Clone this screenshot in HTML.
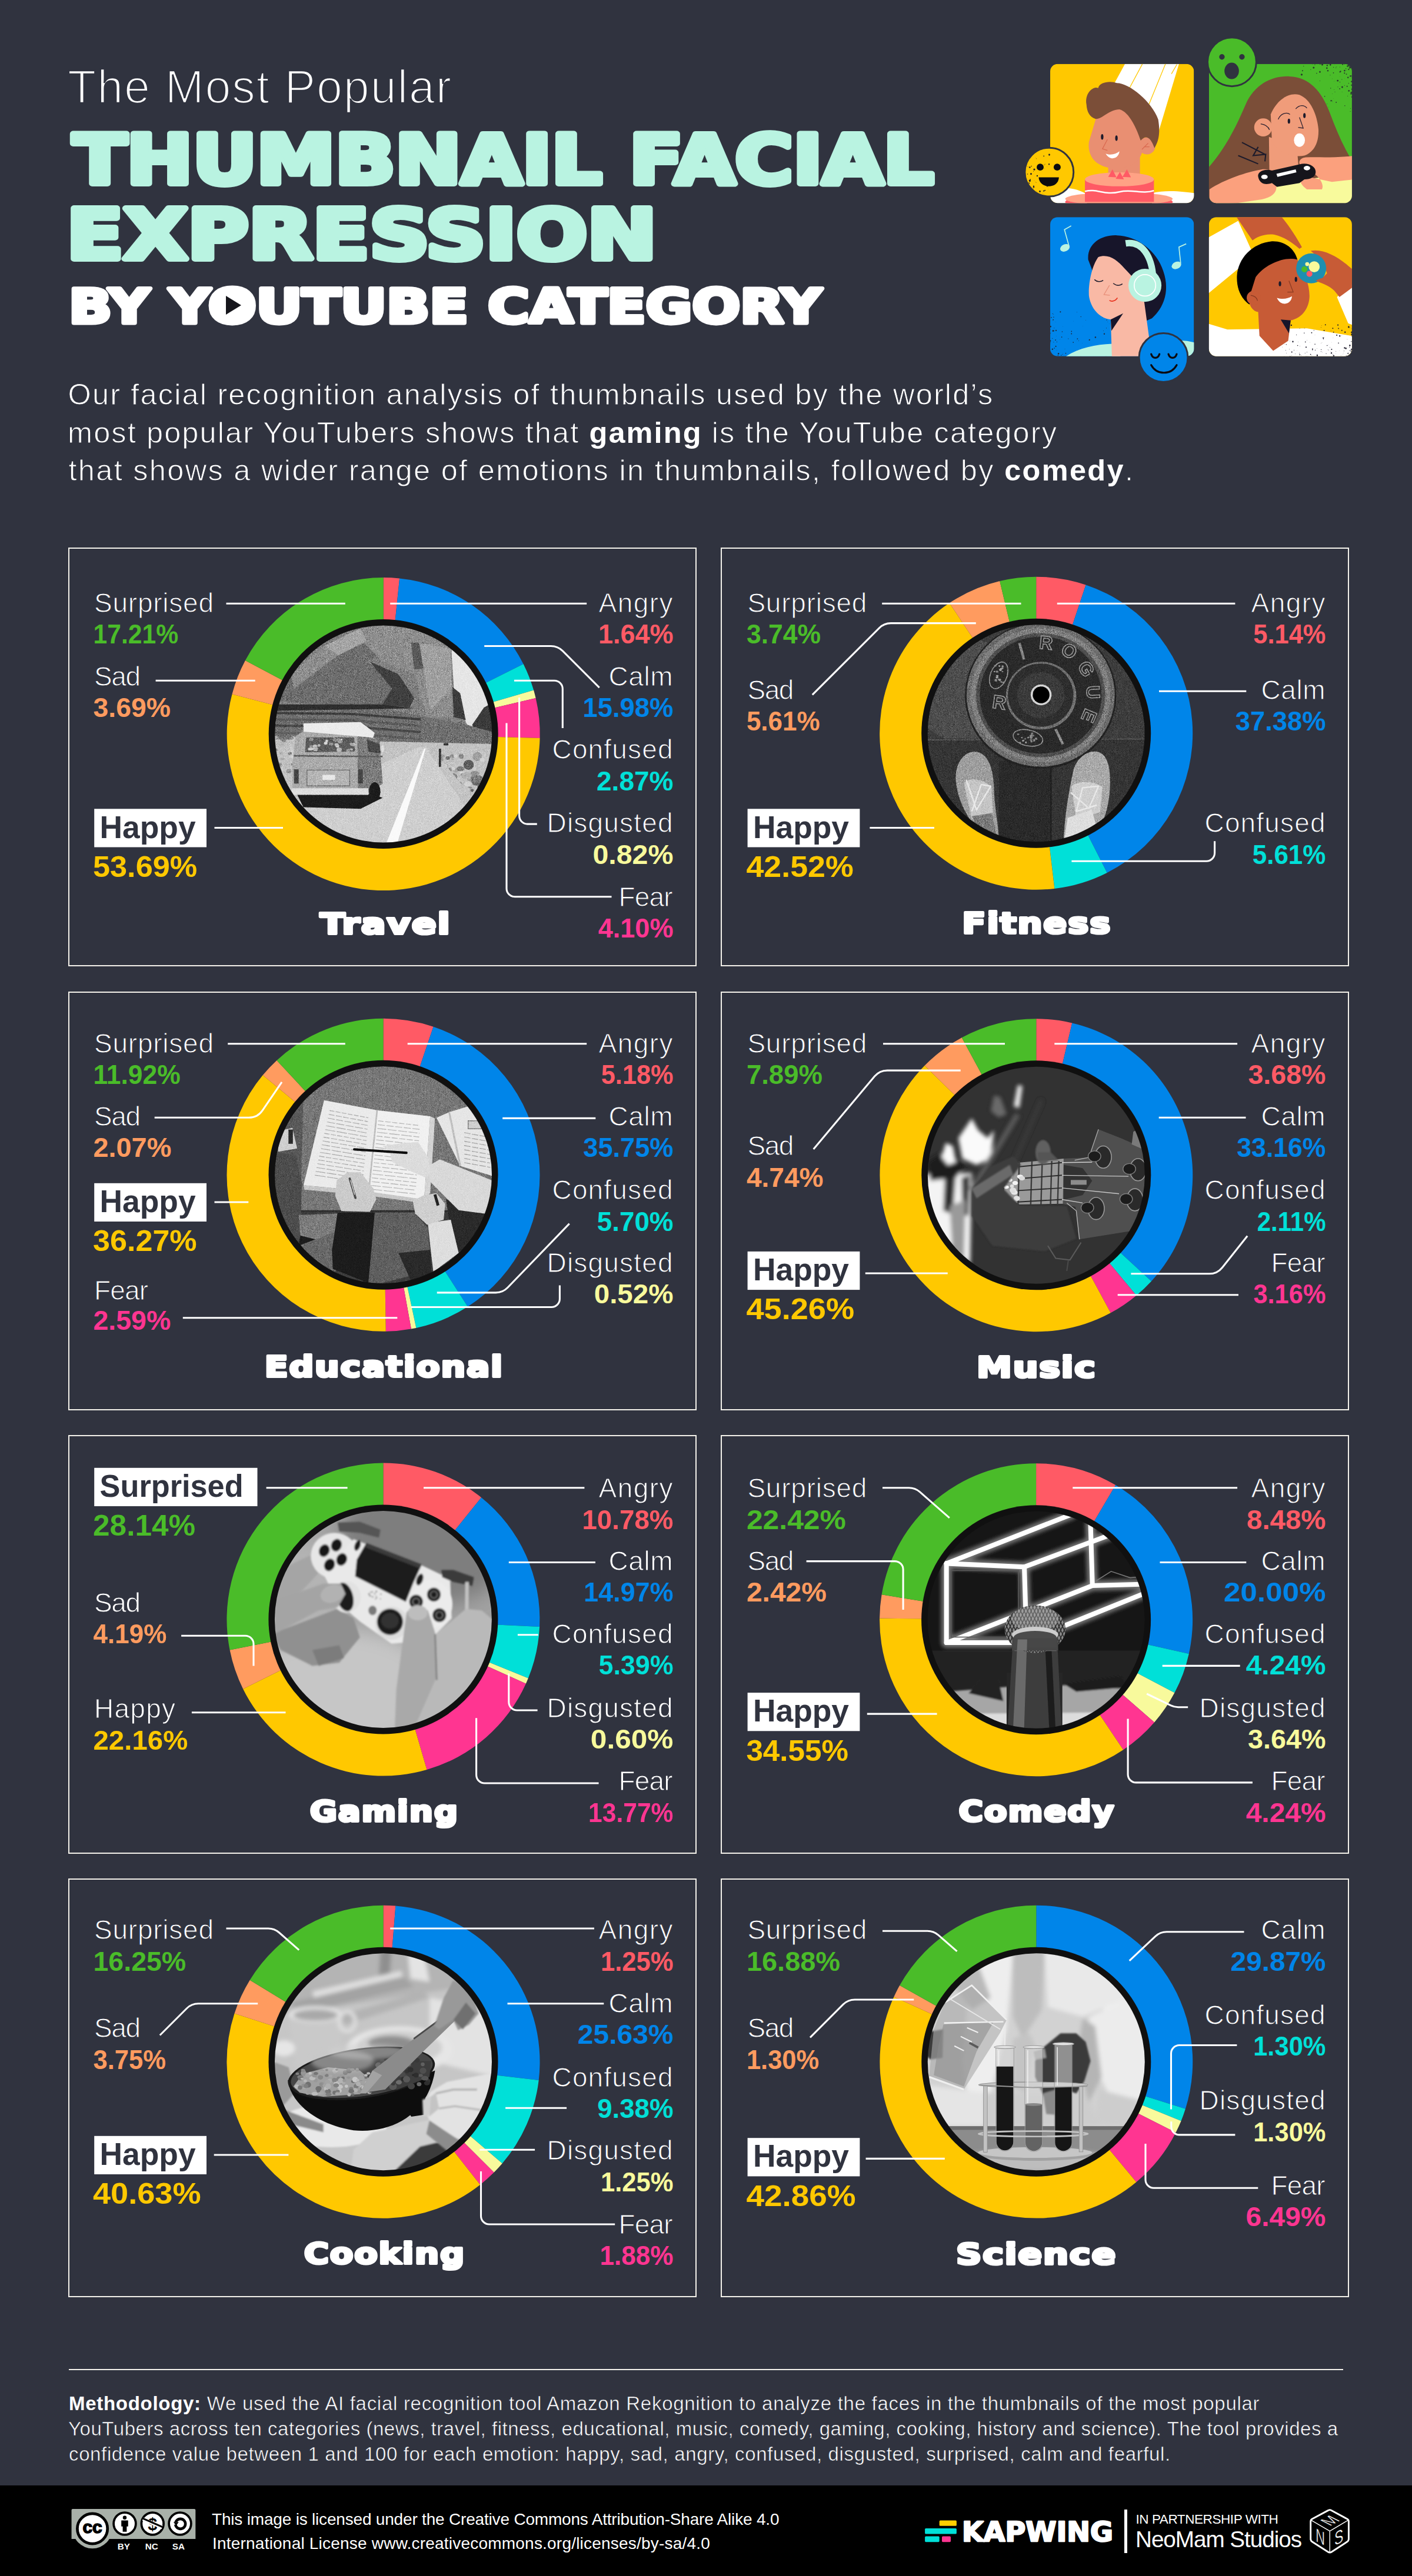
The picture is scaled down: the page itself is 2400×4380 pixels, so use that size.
<!DOCTYPE html><html lang="en"><head><meta charset="utf-8"><title>The Most Popular Thumbnail Facial Expression by YouTube Category</title>
<style>
html,body{margin:0;padding:0;background:#30333f}
#page{position:relative;width:2400px;height:4380px;overflow:hidden;background:#30333f;font-family:'Liberation Sans', sans-serif;color:#fff}
.panel{position:absolute;width:1068px;height:712px;box-sizing:border-box}
.panel:after{content:"";position:absolute;left:0;top:0;right:0;bottom:0;border:2.4px solid #f3f1ea;pointer-events:none}
.panel svg{position:absolute;left:0;top:0;overflow:visible}

.ct{font-family:'DejaVu Sans','Liberation Sans',sans-serif;font-weight:bold;font-size:50px;letter-spacing:1.5px;fill:#fff;stroke:#fff;stroke-width:4.2px;stroke-linejoin:round;paint-order:stroke}
.b{font-weight:bold}
.n{stroke:#30333f;stroke-width:1.1px}
.abs{position:absolute;white-space:nowrap}
.abs b{-webkit-text-stroke:0}
</style></head><body><div id="page">
<svg width="0" height="0" style="position:absolute"><defs><clipPath id="cp"><circle cx="0" cy="0" r="184.5"/></clipPath><filter id="b3" x="-5%" y="-5%" width="110%" height="110%"><feGaussianBlur stdDeviation="2.2"/></filter><filter id="b6" x="-10%" y="-10%" width="120%" height="120%"><feGaussianBlur stdDeviation="6"/></filter><filter id="b12" x="-20%" y="-20%" width="140%" height="140%"><feGaussianBlur stdDeviation="13"/></filter><filter id="gr" x="0" y="0" width="100%" height="100%" color-interpolation-filters="sRGB"><feTurbulence type="fractalNoise" baseFrequency="0.55" numOctaves="2" seed="3"/><feColorMatrix type="matrix" values="0.33 0.33 0.33 0 0 0.33 0.33 0.33 0 0 0.33 0.33 0.33 0 0 0 0 0 0 1"/><feComponentTransfer><feFuncR type="linear" slope="3" intercept="-1"/><feFuncG type="linear" slope="3" intercept="-1"/><feFuncB type="linear" slope="3" intercept="-1"/></feComponentTransfer></filter><filter id="b30" x="-40%" y="-40%" width="180%" height="180%"><feGaussianBlur stdDeviation="60"/></filter></defs></svg>
<div class="abs" style="left:115px;top:107.73px;font-size:79px;line-height:79px;letter-spacing:1.91px;color:#fff;-webkit-text-stroke:2.6px #30333f;">The Most Popular</div>
<svg class="abs" style="left:0;top:0" width="2400" height="900" viewBox="0 0 2400 900">
<g style="font-family:'DejaVu Sans','Liberation Sans',sans-serif;font-weight:bold" stroke-linejoin="round" paint-order="stroke" lengthAdjust="spacingAndGlyphs">
<text x="123.9" y="311.8" font-size="115" fill="#b9f3e1" stroke="#b9f3e1" stroke-width="10" lengthAdjust="spacingAndGlyphs" textLength="1463">THUMBNAIL FACIAL</text>
<text x="113.2" y="439.5" font-size="117" fill="#b9f3e1" stroke="#b9f3e1" stroke-width="10" lengthAdjust="spacingAndGlyphs" textLength="1003.3">EXPRESSION</text>
<text x="116.9" y="548.9" font-size="81" fill="#fff" stroke="#fff" stroke-width="7" lengthAdjust="spacingAndGlyphs" textLength="1279.4">BY YOUTUBE CATEGORY</text>
</g>
<circle cx="395" cy="519" r="22" fill="#fff"/>
<path d="M384 503L410 519L384 535Z" fill="#15151b"/>
</svg>
<div class="abs" style="left:115.5px;top:646.25px;font-size:50.5px;line-height:50.5px;letter-spacing:2.16px;color:#fff;-webkit-text-stroke:1px #30333f;">Our facial recognition analysis of thumbnails used by the world’s</div>
<div class="abs" style="left:115px;top:710.75px;font-size:50.5px;line-height:50.5px;letter-spacing:2.1px;color:#fff;-webkit-text-stroke:1px #30333f;">most popular YouTubers shows that <b>gaming</b> is the YouTube category</div>
<div class="abs" style="left:116.5px;top:775.25px;font-size:50.5px;line-height:50.5px;letter-spacing:2.31px;color:#fff;-webkit-text-stroke:1px #30333f;">that shows a wider range of emotions in thumbnails, followed by <b>comedy</b>.</div>
<svg class="abs" style="left:1720px;top:50px" width="620" height="620" viewBox="0 0 1459 1459"><defs><clipPath id="t1"><rect x="153" y="138" width="575" height="557" rx="30"/></clipPath><clipPath id="t2"><rect x="788" y="138" width="572" height="557" rx="30"/></clipPath><clipPath id="t3"><rect x="153" y="751" width="575" height="557" rx="30"/></clipPath><clipPath id="t4"><rect x="788" y="751" width="572" height="557" rx="30"/></clipPath></defs><g clip-path="url(#t1)"><rect x="153" y="138" width="575" height="557" fill="#ffc800"/><path d="M452 138L668 138L588 405L405 225Z" fill="#fff"/><path d="M522 138L462 250M614 138L548 300M660 140L638 178" stroke="#ffc800" stroke-width="3" fill="none"/><path d="M160 640C220 625 270 640 300 660L300 700L150 700ZM560 655C620 640 690 650 730 655L730 700L560 700Z" fill="#fff"/><path d="M385 470L512 470L512 590L385 590Z" fill="#e98f72"/><circle cx="540" cy="466" r="34" fill="#e98f72"/><path d="M335 360C380 300 470 300 515 360L525 470C520 530 470 560 400 555C340 550 300 510 308 450Z" fill="#e98f72"/><path d="M298 300C290 250 330 225 345 235C350 210 395 205 420 215C470 215 560 290 585 360C595 420 585 450 570 475C555 430 535 420 515 445C500 400 470 330 430 320C390 320 360 360 335 358C310 350 300 330 298 300Z" fill="#7b4e38"/><ellipse cx="361" cy="430" rx="5" ry="11" fill="#1d1b2b"/><ellipse cx="418" cy="435" rx="5" ry="11" fill="#1d1b2b"/><path d="M382 440L362 478L382 484" stroke="#d9694f" stroke-width="3" fill="none"/><path d="M375 497C395 505 415 500 430 488C428 515 395 530 375 497Z" fill="#fff"/><path d="M520 480L545 455M528 470L550 470" stroke="#d9694f" stroke-width="3" fill="none"/><ellipse cx="428" cy="690" rx="215" ry="28" fill="#ff5a65"/><ellipse cx="428" cy="678" rx="215" ry="26" fill="#ffa285"/><path d="M292 600L568 600L568 690L292 690Z" fill="#ff5a65"/><ellipse cx="430" cy="600" rx="138" ry="28" fill="#ffa285"/><path d="M292 648C340 635 370 665 430 650C480 638 520 660 568 645" stroke="#fff" stroke-width="6" fill="none"/><path d="M385 590L402 560L418 592ZM415 598L432 570L448 600ZM442 590L460 560L476 592Z" fill="#ff5a65"/></g><g clip-path="url(#t2)"><rect x="788" y="138" width="572" height="557" fill="#4abc29"/><path d="M1353.0 188.4m-1.0 0a1.0 1.0 0 1 0 2.1 0a1.0 1.0 0 1 0 -2.1 0M1292.1 206.4m-0.6 0a0.6 0.6 0 1 0 1.2 0a0.6 0.6 0 1 0 -1.2 0M1362.0 268.0m-0.8 0a0.8 0.8 0 1 0 1.6 0a0.8 0.8 0 1 0 -1.6 0M1353.3 328.2m-1.3 0a1.3 1.3 0 1 0 2.6 0a1.3 1.3 0 1 0 -2.6 0M1218.9 175.6m-1.9 0a1.9 1.9 0 1 0 3.8 0a1.9 1.9 0 1 0 -3.8 0M1358.7 208.7m-3.0 0a3.0 3.0 0 1 0 6.0 0a3.0 3.0 0 1 0 -6.0 0M1311.0 237.4m-2.0 0a2.0 2.0 0 1 0 4.1 0a2.0 2.0 0 1 0 -4.1 0M1361.5 242.4m-1.7 0a1.7 1.7 0 1 0 3.4 0a1.7 1.7 0 1 0 -3.4 0M1346.9 138.1m-3.0 0a3.0 3.0 0 1 0 6.0 0a3.0 3.0 0 1 0 -6.0 0M1321.2 230.9m-3.1 0a3.1 3.1 0 1 0 6.1 0a3.1 3.1 0 1 0 -6.1 0M1260.9 298.2m-1.1 0a1.1 1.1 0 1 0 2.2 0a1.1 1.1 0 1 0 -2.2 0M1231.9 170.3m-3.4 0a3.4 3.4 0 1 0 6.8 0a3.4 3.4 0 1 0 -6.8 0M1202.4 139.1m-0.7 0a0.7 0.7 0 1 0 1.3 0a0.7 0.7 0 1 0 -1.3 0M1354.6 315.7m-1.2 0a1.2 1.2 0 1 0 2.4 0a1.2 1.2 0 1 0 -2.4 0M1286.2 151.7m-1.4 0a1.4 1.4 0 1 0 2.8 0a1.4 1.4 0 1 0 -2.8 0M1335.9 157.2m-1.7 0a1.7 1.7 0 1 0 3.4 0a1.7 1.7 0 1 0 -3.4 0M1297.0 291.8m-2.1 0a2.1 2.1 0 1 0 4.2 0a2.1 2.1 0 1 0 -4.2 0M1181.7 274.5m-3.7 0a3.7 3.7 0 1 0 7.5 0a3.7 3.7 0 1 0 -7.5 0M1273.8 141.6m-3.0 0a3.0 3.0 0 1 0 5.9 0a3.0 3.0 0 1 0 -5.9 0M1166.1 292.0m-1.6 0a1.6 1.6 0 1 0 3.3 0a1.6 1.6 0 1 0 -3.3 0M1261.0 144.3m-2.8 0a2.8 2.8 0 1 0 5.6 0a2.8 2.8 0 1 0 -5.6 0M1299.6 150.1m-0.6 0a0.6 0.6 0 1 0 1.2 0a0.6 0.6 0 1 0 -1.2 0M1212.2 325.7m-0.6 0a0.6 0.6 0 1 0 1.3 0a0.6 0.6 0 1 0 -1.3 0M1232.0 165.1m-0.7 0a0.7 0.7 0 1 0 1.3 0a0.7 0.7 0 1 0 -1.3 0M1347.7 245.7m-3.0 0a3.0 3.0 0 1 0 6.1 0a3.0 3.0 0 1 0 -6.1 0M1361.8 203.8m-0.6 0a0.6 0.6 0 1 0 1.2 0a0.6 0.6 0 1 0 -1.2 0M1259.6 154.9m-3.1 0a3.1 3.1 0 1 0 6.2 0a3.1 3.1 0 1 0 -6.2 0M1158.9 180.8m-3.8 0a3.8 3.8 0 1 0 7.6 0a3.8 3.8 0 1 0 -7.6 0M1345.9 138.7m-1.8 0a1.8 1.8 0 1 0 3.5 0a1.8 1.8 0 1 0 -3.5 0M1361.9 143.4m-1.1 0a1.1 1.1 0 1 0 2.3 0a1.1 1.1 0 1 0 -2.3 0M1290.4 141.2m-0.6 0a0.6 0.6 0 1 0 1.2 0a0.6 0.6 0 1 0 -1.2 0M1206.8 153.0m-3.5 0a3.5 3.5 0 1 0 7.1 0a3.5 3.5 0 1 0 -7.1 0M1195.2 160.6m-1.3 0a1.3 1.3 0 1 0 2.6 0a1.3 1.3 0 1 0 -2.6 0M1311.7 210.9m-1.7 0a1.7 1.7 0 1 0 3.5 0a1.7 1.7 0 1 0 -3.5 0M1303.0 205.1m-3.4 0a3.4 3.4 0 1 0 6.9 0a3.4 3.4 0 1 0 -6.9 0M1314.4 168.2m-2.3 0a2.3 2.3 0 1 0 4.5 0a2.3 2.3 0 1 0 -4.5 0M1353.0 151.7m-3.7 0a3.7 3.7 0 1 0 7.3 0a3.7 3.7 0 1 0 -7.3 0M1311.5 189.2m-0.6 0a0.6 0.6 0 1 0 1.2 0a0.6 0.6 0 1 0 -1.2 0M1331.3 195.9m-0.6 0a0.6 0.6 0 1 0 1.2 0a0.6 0.6 0 1 0 -1.2 0M1289.0 208.0m-0.6 0a0.6 0.6 0 1 0 1.2 0a0.6 0.6 0 1 0 -1.2 0M1286.0 173.8m-2.1 0a2.1 2.1 0 1 0 4.2 0a2.1 2.1 0 1 0 -4.2 0M1340.6 227.5m-2.3 0a2.3 2.3 0 1 0 4.7 0a2.3 2.3 0 1 0 -4.7 0M1362.0 138.4m-2.1 0a2.1 2.1 0 1 0 4.1 0a2.1 2.1 0 1 0 -4.1 0M1166.7 147.2m-1.3 0a1.3 1.3 0 1 0 2.5 0a1.3 1.3 0 1 0 -2.5 0M1294.9 153.7m-1.0 0a1.0 1.0 0 1 0 2.0 0a1.0 1.0 0 1 0 -2.0 0M1345.6 159.4m-1.7 0a1.7 1.7 0 1 0 3.5 0a1.7 1.7 0 1 0 -3.5 0M1347.0 160.5m-2.5 0a2.5 2.5 0 1 0 5.0 0a2.5 2.5 0 1 0 -5.0 0M1361.9 193.6m-2.3 0a2.3 2.3 0 1 0 4.7 0a2.3 2.3 0 1 0 -4.7 0M1345.9 145.0m-2.7 0a2.7 2.7 0 1 0 5.3 0a2.7 2.7 0 1 0 -5.3 0M1352.9 142.8m-1.2 0a1.2 1.2 0 1 0 2.4 0a1.2 1.2 0 1 0 -2.4 0M1265.9 139.3m-0.9 0a0.9 0.9 0 1 0 1.9 0a0.9 0.9 0 1 0 -1.9 0M1343.0 266.6m-1.2 0a1.2 1.2 0 1 0 2.4 0a1.2 1.2 0 1 0 -2.4 0M1211.6 141.9m-1.0 0a1.0 1.0 0 1 0 1.9 0a1.0 1.0 0 1 0 -1.9 0M1279.8 284.7m-1.3 0a1.3 1.3 0 1 0 2.5 0a1.3 1.3 0 1 0 -2.5 0M1354.0 139.8m-1.5 0a1.5 1.5 0 1 0 3.0 0a1.5 1.5 0 1 0 -3.0 0M1356.5 257.7m-2.8 0a2.8 2.8 0 1 0 5.7 0a2.8 2.8 0 1 0 -5.7 0M1356.9 149.5m-2.7 0a2.7 2.7 0 1 0 5.4 0a2.7 2.7 0 1 0 -5.4 0M1282.0 257.5m-1.0 0a1.0 1.0 0 1 0 2.0 0a1.0 1.0 0 1 0 -2.0 0M1359.6 150.8m-2.6 0a2.6 2.6 0 1 0 5.2 0a2.6 2.6 0 1 0 -5.2 0M1350.0 156.6m-1.2 0a1.2 1.2 0 1 0 2.3 0a1.2 1.2 0 1 0 -2.3 0M1330.6 164.9m-3.3 0a3.3 3.3 0 1 0 6.6 0a3.3 3.3 0 1 0 -6.6 0M1358.4 138.0m-3.4 0a3.4 3.4 0 1 0 6.9 0a3.4 3.4 0 1 0 -6.9 0M1202.0 324.5m-1.2 0a1.2 1.2 0 1 0 2.4 0a1.2 1.2 0 1 0 -2.4 0M1172.6 300.7m-0.8 0a0.8 0.8 0 1 0 1.5 0a0.8 0.8 0 1 0 -1.5 0M1250.9 267.7m-2.0 0a2.0 2.0 0 1 0 4.0 0a2.0 2.0 0 1 0 -4.0 0M1311.9 150.5m-1.0 0a1.0 1.0 0 1 0 1.9 0a1.0 1.0 0 1 0 -1.9 0M1353.8 138.5m-1.7 0a1.7 1.7 0 1 0 3.4 0a1.7 1.7 0 1 0 -3.4 0M1348.4 258.8m-0.6 0a0.6 0.6 0 1 0 1.2 0a0.6 0.6 0 1 0 -1.2 0M1192.4 223.9m-3.3 0a3.3 3.3 0 1 0 6.7 0a3.3 3.3 0 1 0 -6.7 0M1195.3 290.2m-1.7 0a1.7 1.7 0 1 0 3.3 0a1.7 1.7 0 1 0 -3.3 0M1362.0 238.6m-0.7 0a0.7 0.7 0 1 0 1.4 0a0.7 0.7 0 1 0 -1.4 0M1347.0 215.7m-1.5 0a1.5 1.5 0 1 0 3.0 0a1.5 1.5 0 1 0 -3.0 0M1331.6 305.2m-1.8 0a1.8 1.8 0 1 0 3.6 0a1.8 1.8 0 1 0 -3.6 0M1342.1 147.3m-3.0 0a3.0 3.0 0 1 0 6.0 0a3.0 3.0 0 1 0 -6.0 0M1320.4 249.9m-1.0 0a1.0 1.0 0 1 0 2.0 0a1.0 1.0 0 1 0 -2.0 0M1356.0 186.4m-2.7 0a2.7 2.7 0 1 0 5.5 0a2.7 2.7 0 1 0 -5.5 0M1357.6 252.8m-3.3 0a3.3 3.3 0 1 0 6.6 0a3.3 3.3 0 1 0 -6.6 0M1230.1 263.2m-0.6 0a0.6 0.6 0 1 0 1.2 0a0.6 0.6 0 1 0 -1.2 0M1285.7 276.7m-0.6 0a0.6 0.6 0 1 0 1.2 0a0.6 0.6 0 1 0 -1.2 0M1350.0 148.6m-1.5 0a1.5 1.5 0 1 0 3.0 0a1.5 1.5 0 1 0 -3.0 0M1330.1 175.0m-2.5 0a2.5 2.5 0 1 0 5.1 0a2.5 2.5 0 1 0 -5.1 0M1362.0 138.3m-0.7 0a0.7 0.7 0 1 0 1.3 0a0.7 0.7 0 1 0 -1.3 0M1359.8 138.5m-3.6 0a3.6 3.6 0 1 0 7.3 0a3.6 3.6 0 1 0 -7.3 0M1212.0 138.9m-1.4 0a1.4 1.4 0 1 0 2.8 0a1.4 1.4 0 1 0 -2.8 0M1345.2 153.1m-1.0 0a1.0 1.0 0 1 0 2.0 0a1.0 1.0 0 1 0 -2.0 0M1280.7 197.4m-1.0 0a1.0 1.0 0 1 0 2.0 0a1.0 1.0 0 1 0 -2.0 0M1356.4 154.6m-0.6 0a0.6 0.6 0 1 0 1.3 0a0.6 0.6 0 1 0 -1.3 0M1303.8 230.1m-1.1 0a1.1 1.1 0 1 0 2.1 0a1.1 1.1 0 1 0 -2.1 0M1361.2 142.3m-1.0 0a1.0 1.0 0 1 0 2.1 0a1.0 1.0 0 1 0 -2.1 0M1292.0 250.0m-1.1 0a1.1 1.1 0 1 0 2.1 0a1.1 1.1 0 1 0 -2.1 0M1231.8 205.8m-1.2 0a1.2 1.2 0 1 0 2.4 0a1.2 1.2 0 1 0 -2.4 0M1337.9 179.1m-2.2 0a2.2 2.2 0 1 0 4.4 0a2.2 2.2 0 1 0 -4.4 0M1330.5 224.0m-1.3 0a1.3 1.3 0 1 0 2.6 0a1.3 1.3 0 1 0 -2.6 0M1352.4 186.7m-2.1 0a2.1 2.1 0 1 0 4.3 0a2.1 2.1 0 1 0 -4.3 0M1361.4 167.2m-1.2 0a1.2 1.2 0 1 0 2.4 0a1.2 1.2 0 1 0 -2.4 0M1202.1 304.2m-1.0 0a1.0 1.0 0 1 0 2.1 0a1.0 1.0 0 1 0 -2.1 0M1194.7 252.6m-0.8 0a0.8 0.8 0 1 0 1.6 0a0.8 0.8 0 1 0 -1.6 0M1322.8 139.9m-2.7 0a2.7 2.7 0 1 0 5.4 0a2.7 2.7 0 1 0 -5.4 0M1276.4 285.6m-2.6 0a2.6 2.6 0 1 0 5.2 0a2.6 2.6 0 1 0 -5.2 0M1274.9 235.2m-1.6 0a1.6 1.6 0 1 0 3.2 0a1.6 1.6 0 1 0 -3.2 0M1360.6 197.6m-0.6 0a0.6 0.6 0 1 0 1.2 0a0.6 0.6 0 1 0 -1.2 0M1359.0 247.4m-0.6 0a0.6 0.6 0 1 0 1.2 0a0.6 0.6 0 1 0 -1.2 0M1360.9 139.2m-3.1 0a3.1 3.1 0 1 0 6.2 0a3.1 3.1 0 1 0 -6.2 0M1357.2 138.1m-2.9 0a2.9 2.9 0 1 0 5.7 0a2.9 2.9 0 1 0 -5.7 0M1360.0 270.2m-2.1 0a2.1 2.1 0 1 0 4.1 0a2.1 2.1 0 1 0 -4.1 0M1219.0 310.5m-1.7 0a1.7 1.7 0 1 0 3.3 0a1.7 1.7 0 1 0 -3.3 0M1232.7 138.1m-2.5 0a2.5 2.5 0 1 0 5.0 0a2.5 2.5 0 1 0 -5.0 0M1313.5 229.8m-0.6 0a0.6 0.6 0 1 0 1.3 0a0.6 0.6 0 1 0 -1.3 0M1249.8 303.4m-0.6 0a0.6 0.6 0 1 0 1.2 0a0.6 0.6 0 1 0 -1.2 0M1344.2 192.5m-2.8 0a2.8 2.8 0 1 0 5.6 0a2.8 2.8 0 1 0 -5.6 0M1352.6 142.4m-0.8 0a0.8 0.8 0 1 0 1.6 0a0.8 0.8 0 1 0 -1.6 0M1289.0 241.0m-1.1 0a1.1 1.1 0 1 0 2.2 0a1.1 1.1 0 1 0 -2.2 0M1338.6 163.1m-1.0 0a1.0 1.0 0 1 0 2.0 0a1.0 1.0 0 1 0 -2.0 0M1330.9 138.8m-1.4 0a1.4 1.4 0 1 0 2.8 0a1.4 1.4 0 1 0 -2.8 0M1162.4 165.4m-2.4 0a2.4 2.4 0 1 0 4.8 0a2.4 2.4 0 1 0 -4.8 0M1358.2 223.1m-2.4 0a2.4 2.4 0 1 0 4.9 0a2.4 2.4 0 1 0 -4.9 0M1273.0 183.0m-1.3 0a1.3 1.3 0 1 0 2.7 0a1.3 1.3 0 1 0 -2.7 0M1281.8 289.3m-0.7 0a0.7 0.7 0 1 0 1.3 0a0.7 0.7 0 1 0 -1.3 0M1360.8 239.4m-3.3 0a3.3 3.3 0 1 0 6.6 0a3.3 3.3 0 1 0 -6.6 0M1312.3 170.0m-2.3 0a2.3 2.3 0 1 0 4.5 0a2.3 2.3 0 1 0 -4.5 0M1356.8 148.5m-0.7 0a0.7 0.7 0 1 0 1.5 0a0.7 0.7 0 1 0 -1.5 0M1296.7 153.1m-0.8 0a0.8 0.8 0 1 0 1.5 0a0.8 0.8 0 1 0 -1.5 0M1267.9 310.9m-0.9 0a0.9 0.9 0 1 0 1.8 0a0.9 0.9 0 1 0 -1.8 0M1263.6 165.5m-2.9 0a2.9 2.9 0 1 0 5.9 0a2.9 2.9 0 1 0 -5.9 0M1296.9 148.5m-0.8 0a0.8 0.8 0 1 0 1.5 0a0.8 0.8 0 1 0 -1.5 0M1361.9 176.1m-1.1 0a1.1 1.1 0 1 0 2.1 0a1.1 1.1 0 1 0 -2.1 0M1357.6 158.3m-0.9 0a0.9 0.9 0 1 0 1.9 0a0.9 0.9 0 1 0 -1.9 0M1241.3 140.7m-3.7 0a3.7 3.7 0 1 0 7.5 0a3.7 3.7 0 1 0 -7.5 0M1319.9 200.2m-1.3 0a1.3 1.3 0 1 0 2.6 0a1.3 1.3 0 1 0 -2.6 0M1219.6 262.6m-1.6 0a1.6 1.6 0 1 0 3.2 0a1.6 1.6 0 1 0 -3.2 0" fill="#2a3a2e"/><path d="M780 560C860 470 900 380 935 300C970 220 1040 185 1110 188C1190 190 1240 250 1270 330C1300 410 1330 480 1370 540L1370 700L780 700Z" fill="#7b4e38"/><path d="M850 620C900 590 960 580 1020 585L1180 600C1250 585 1320 590 1370 600L1370 700L800 700Z" fill="#f8fa9c"/><path d="M1028 430L1140 470L1150 600L1030 600Z" fill="#f09c7a"/><circle cx="1005" cy="392" r="36" fill="#f09c7a"/><path d="M1035 340C1060 280 1110 250 1150 262C1195 280 1220 340 1226 400C1228 450 1210 490 1170 505C1120 515 1060 490 1040 450Z" fill="#f09c7a"/><ellipse cx="1150" cy="443" rx="22" ry="27" fill="#fff"/><ellipse cx="1108" cy="367" rx="5" ry="10" fill="#1d1b2b"/><ellipse cx="1170" cy="345" rx="5" ry="10" fill="#1d1b2b"/><path d="M1065 360C1075 335 1100 330 1112 340M1135 318C1150 300 1170 302 1180 315M1150 352L1165 395L1145 392M995 378C1010 380 1025 388 1030 402" stroke="#2a2030" stroke-width="3" fill="none"/><path d="M920 452L1012 500M985 470L965 505L1015 500L1012 528M905 505L985 538" stroke="#1d1b2b" stroke-width="5" fill="none"/><path d="M790 640C850 600 940 570 1000 560C1040 555 1060 580 1050 610C1070 640 1050 670 1000 680L900 695L790 700Z" fill="#fba07d"/><path d="M1370 505C1300 515 1230 510 1175 512C1150 515 1140 535 1160 550L1200 570C1230 590 1250 620 1240 640L1180 640C1150 620 1150 600 1160 585L1280 610L1370 600Z" fill="#fba07d"/><path d="M985 590C980 570 1010 555 1040 565L1150 540C1180 530 1215 545 1215 570C1215 590 1195 600 1170 600L1150 615L1060 630L1040 615C1010 625 990 615 985 590Z" fill="#15151b"/><path d="M1058 578L1135 560L1138 572L1062 590Z" fill="#fff"/><ellipse cx="1010" cy="590" rx="13" ry="9" fill="#fff"/><ellipse cx="1180" cy="555" rx="13" ry="9" fill="#fff"/></g><g clip-path="url(#t3)"><rect x="153" y="751" width="575" height="557" fill="#0085e9"/><path d="M238.2 1217.7m-2.2 0a2.2 2.2 0 1 0 4.5 0a2.2 2.2 0 1 0 -4.5 0M369.4 1218.2m-2.8 0a2.8 2.8 0 1 0 5.6 0a2.8 2.8 0 1 0 -5.6 0M150.1 1278.1m-2.9 0a2.9 2.9 0 1 0 5.8 0a2.9 2.9 0 1 0 -5.8 0M246.6 1167.3m-0.6 0a0.6 0.6 0 1 0 1.3 0a0.6 0.6 0 1 0 -1.3 0M197.3 1303.6m-1.4 0a1.4 1.4 0 1 0 2.7 0a1.4 1.4 0 1 0 -2.7 0M223.7 1312.0m-0.7 0a0.7 0.7 0 1 0 1.4 0a0.7 0.7 0 1 0 -1.4 0M165.1 1161.8m-2.1 0a2.1 2.1 0 1 0 4.2 0a2.1 2.1 0 1 0 -4.2 0M154.4 1201.5m-0.7 0a0.7 0.7 0 1 0 1.3 0a0.7 0.7 0 1 0 -1.3 0M236.6 1310.1m-0.6 0a0.6 0.6 0 1 0 1.2 0a0.6 0.6 0 1 0 -1.2 0M334.7 1306.2m-0.7 0a0.7 0.7 0 1 0 1.4 0a0.7 0.7 0 1 0 -1.4 0M390.4 1177.2m-0.8 0a0.8 0.8 0 1 0 1.6 0a0.8 0.8 0 1 0 -1.6 0M379.3 1265.2m-1.8 0a1.8 1.8 0 1 0 3.6 0a1.8 1.8 0 1 0 -3.6 0M157.6 1152.8m-1.8 0a1.8 1.8 0 1 0 3.7 0a1.8 1.8 0 1 0 -3.7 0M382.0 1169.9m-0.8 0a0.8 0.8 0 1 0 1.7 0a0.8 0.8 0 1 0 -1.7 0M176.6 1308.5m-0.7 0a0.7 0.7 0 1 0 1.3 0a0.7 0.7 0 1 0 -1.3 0M150.6 1299.0m-1.5 0a1.5 1.5 0 1 0 3.1 0a1.5 1.5 0 1 0 -3.1 0M150.0 1234.6m-0.9 0a0.9 0.9 0 1 0 1.8 0a0.9 0.9 0 1 0 -1.8 0M169.0 1194.9m-1.2 0a1.2 1.2 0 1 0 2.4 0a1.2 1.2 0 1 0 -2.4 0M169.8 1275.6m-1.9 0a1.9 1.9 0 1 0 3.8 0a1.9 1.9 0 1 0 -3.8 0M150.5 1139.8m-0.6 0a0.6 0.6 0 1 0 1.2 0a0.6 0.6 0 1 0 -1.2 0M282.7 1186.4m-0.6 0a0.6 0.6 0 1 0 1.2 0a0.6 0.6 0 1 0 -1.2 0M297.9 1292.0m-1.5 0a1.5 1.5 0 1 0 2.9 0a1.5 1.5 0 1 0 -2.9 0M150.0 1311.8m-0.7 0a0.7 0.7 0 1 0 1.4 0a0.7 0.7 0 1 0 -1.4 0M376.0 1306.9m-2.1 0a2.1 2.1 0 1 0 4.2 0a2.1 2.1 0 1 0 -4.2 0M362.9 1152.4m-0.9 0a0.9 0.9 0 1 0 1.8 0a0.9 0.9 0 1 0 -1.8 0M175.6 1268.0m-2.2 0a2.2 2.2 0 1 0 4.3 0a2.2 2.2 0 1 0 -4.3 0M151.9 1215.8m-2.3 0a2.3 2.3 0 1 0 4.5 0a2.3 2.3 0 1 0 -4.5 0M329.3 1311.9m-2.9 0a2.9 2.9 0 1 0 5.9 0a2.9 2.9 0 1 0 -5.9 0M151.3 1295.0m-1.6 0a1.6 1.6 0 1 0 3.1 0a1.6 1.6 0 1 0 -3.1 0M357.1 1295.0m-2.8 0a2.8 2.8 0 1 0 5.6 0a2.8 2.8 0 1 0 -5.6 0M215.8 1297.9m-0.9 0a0.9 0.9 0 1 0 1.7 0a0.9 0.9 0 1 0 -1.7 0M155.6 1311.3m-0.7 0a0.7 0.7 0 1 0 1.3 0a0.7 0.7 0 1 0 -1.3 0M260.2 1131.3m-0.7 0a0.7 0.7 0 1 0 1.3 0a0.7 0.7 0 1 0 -1.3 0M150.3 1135.3m-1.3 0a1.3 1.3 0 1 0 2.7 0a1.3 1.3 0 1 0 -2.7 0M184.4 1304.3m-1.5 0a1.5 1.5 0 1 0 3.0 0a1.5 1.5 0 1 0 -3.0 0M314.3 1279.7m-1.1 0a1.1 1.1 0 1 0 2.1 0a1.1 1.1 0 1 0 -2.1 0M150.4 1161.9m-0.6 0a0.6 0.6 0 1 0 1.2 0a0.6 0.6 0 1 0 -1.2 0M202.9 1188.5m-0.6 0a0.6 0.6 0 1 0 1.3 0a0.6 0.6 0 1 0 -1.3 0M275.7 1149.5m-1.6 0a1.6 1.6 0 1 0 3.3 0a1.6 1.6 0 1 0 -3.3 0M298.0 1310.7m-1.1 0a1.1 1.1 0 1 0 2.2 0a1.1 1.1 0 1 0 -2.2 0M153.8 1186.4m-0.8 0a0.8 0.8 0 1 0 1.7 0a0.8 0.8 0 1 0 -1.7 0M193.8 1130.3m-2.5 0a2.5 2.5 0 1 0 5.0 0a2.5 2.5 0 1 0 -5.0 0M387.0 1280.0m-1.2 0a1.2 1.2 0 1 0 2.4 0a1.2 1.2 0 1 0 -2.4 0M274.9 1276.0m-0.8 0a0.8 0.8 0 1 0 1.6 0a0.8 0.8 0 1 0 -1.6 0M184.0 1309.3m-1.0 0a1.0 1.0 0 1 0 1.9 0a1.0 1.0 0 1 0 -1.9 0M393.7 1145.7m-1.6 0a1.6 1.6 0 1 0 3.2 0a1.6 1.6 0 1 0 -3.2 0M204.2 1295.2m-0.6 0a0.6 0.6 0 1 0 1.2 0a0.6 0.6 0 1 0 -1.2 0M164.3 1206.0m-2.6 0a2.6 2.6 0 1 0 5.1 0a2.6 2.6 0 1 0 -5.1 0M176.6 1204.8m-2.2 0a2.2 2.2 0 1 0 4.3 0a2.2 2.2 0 1 0 -4.3 0M262.1 1238.1m-2.1 0a2.1 2.1 0 1 0 4.2 0a2.1 2.1 0 1 0 -4.2 0M177.0 1227.8m-0.8 0a0.8 0.8 0 1 0 1.6 0a0.8 0.8 0 1 0 -1.6 0M201.0 1209.7m-1.8 0a1.8 1.8 0 1 0 3.7 0a1.8 1.8 0 1 0 -3.7 0M166.9 1151.1m-1.7 0a1.7 1.7 0 1 0 3.4 0a1.7 1.7 0 1 0 -3.4 0M225.6 1312.0m-1.4 0a1.4 1.4 0 1 0 2.8 0a1.4 1.4 0 1 0 -2.8 0M161.9 1236.2m-1.2 0a1.2 1.2 0 1 0 2.3 0a1.2 1.2 0 1 0 -2.3 0M310.1 1242.1m-2.3 0a2.3 2.3 0 1 0 4.5 0a2.3 2.3 0 1 0 -4.5 0M174.5 1242.9m-2.0 0a2.0 2.0 0 1 0 4.0 0a2.0 2.0 0 1 0 -4.0 0M315.1 1293.9m-2.4 0a2.4 2.4 0 1 0 4.9 0a2.4 2.4 0 1 0 -4.9 0M334.0 1232.0m-3.1 0a3.1 3.1 0 1 0 6.2 0a3.1 3.1 0 1 0 -6.2 0M376.7 1269.2m-1.3 0a1.3 1.3 0 1 0 2.7 0a1.3 1.3 0 1 0 -2.7 0M154.8 1189.1m-2.9 0a2.9 2.9 0 1 0 5.8 0a2.9 2.9 0 1 0 -5.8 0M199.1 1231.2m-1.9 0a1.9 1.9 0 1 0 3.9 0a1.9 1.9 0 1 0 -3.9 0M275.2 1308.2m-2.2 0a2.2 2.2 0 1 0 4.4 0a2.2 2.2 0 1 0 -4.4 0M225.7 1237.7m-1.1 0a1.1 1.1 0 1 0 2.1 0a1.1 1.1 0 1 0 -2.1 0M238.5 1208.2m-1.7 0a1.7 1.7 0 1 0 3.3 0a1.7 1.7 0 1 0 -3.3 0M271.5 1311.9m-0.7 0a0.7 0.7 0 1 0 1.3 0a0.7 0.7 0 1 0 -1.3 0M191.3 1241.4m-0.7 0a0.7 0.7 0 1 0 1.4 0a0.7 0.7 0 1 0 -1.4 0M259.1 1245.9m-0.6 0a0.6 0.6 0 1 0 1.2 0a0.6 0.6 0 1 0 -1.2 0M197.8 1305.1m-0.6 0a0.6 0.6 0 1 0 1.2 0a0.6 0.6 0 1 0 -1.2 0M153.0 1297.4m-0.7 0a0.7 0.7 0 1 0 1.4 0a0.7 0.7 0 1 0 -1.4 0M156.7 1311.9m-1.2 0a1.2 1.2 0 1 0 2.3 0a1.2 1.2 0 1 0 -2.3 0M179.8 1250.3m-1.5 0a1.5 1.5 0 1 0 3.0 0a1.5 1.5 0 1 0 -3.0 0M160.6 1166.5m-0.6 0a0.6 0.6 0 1 0 1.2 0a0.6 0.6 0 1 0 -1.2 0M184.3 1301.1m-1.0 0a1.0 1.0 0 1 0 2.1 0a1.0 1.0 0 1 0 -2.1 0M152.1 1190.8m-1.0 0a1.0 1.0 0 1 0 1.9 0a1.0 1.0 0 1 0 -1.9 0M150.2 1249.9m-0.6 0a0.6 0.6 0 1 0 1.2 0a0.6 0.6 0 1 0 -1.2 0M215.8 1295.1m-1.5 0a1.5 1.5 0 1 0 3.0 0a1.5 1.5 0 1 0 -3.0 0M377.6 1194.9m-1.1 0a1.1 1.1 0 1 0 2.1 0a1.1 1.1 0 1 0 -2.1 0M308.5 1243.3m-1.0 0a1.0 1.0 0 1 0 1.9 0a1.0 1.0 0 1 0 -1.9 0M153.4 1253.7m-1.4 0a1.4 1.4 0 1 0 2.9 0a1.4 1.4 0 1 0 -2.9 0M377.1 1142.6m-1.6 0a1.6 1.6 0 1 0 3.1 0a1.6 1.6 0 1 0 -3.1 0M175.0 1169.9m-0.6 0a0.6 0.6 0 1 0 1.2 0a0.6 0.6 0 1 0 -1.2 0M151.9 1260.0m-1.6 0a1.6 1.6 0 1 0 3.2 0a1.6 1.6 0 1 0 -3.2 0M153.3 1246.3m-2.7 0a2.7 2.7 0 1 0 5.3 0a2.7 2.7 0 1 0 -5.3 0M179.0 1283.3m-0.7 0a0.7 0.7 0 1 0 1.5 0a0.7 0.7 0 1 0 -1.5 0M166.6 1140.8m-1.0 0a1.0 1.0 0 1 0 2.0 0a1.0 1.0 0 1 0 -2.0 0M379.1 1162.8m-1.5 0a1.5 1.5 0 1 0 3.0 0a1.5 1.5 0 1 0 -3.0 0M162.9 1137.5m-1.2 0a1.2 1.2 0 1 0 2.5 0a1.2 1.2 0 1 0 -2.5 0M186.2 1297.2m-3.1 0a3.1 3.1 0 1 0 6.2 0a3.1 3.1 0 1 0 -6.2 0M202.5 1300.4m-1.2 0a1.2 1.2 0 1 0 2.4 0a1.2 1.2 0 1 0 -2.4 0M152.4 1248.0m-1.1 0a1.1 1.1 0 1 0 2.2 0a1.1 1.1 0 1 0 -2.2 0M166.8 1206.1m-2.4 0a2.4 2.4 0 1 0 4.8 0a2.4 2.4 0 1 0 -4.8 0M150.0 1266.5m-0.8 0a0.8 0.8 0 1 0 1.6 0a0.8 0.8 0 1 0 -1.6 0M365.8 1206.1m-0.8 0a0.8 0.8 0 1 0 1.5 0a0.8 0.8 0 1 0 -1.5 0M163.8 1309.0m-3.1 0a3.1 3.1 0 1 0 6.3 0a3.1 3.1 0 1 0 -6.3 0M166.8 1251.1m-1.2 0a1.2 1.2 0 1 0 2.4 0a1.2 1.2 0 1 0 -2.4 0M245.2 1252.0m-2.0 0a2.0 2.0 0 1 0 4.1 0a2.0 2.0 0 1 0 -4.1 0M152.3 1212.4m-0.8 0a0.8 0.8 0 1 0 1.7 0a0.8 0.8 0 1 0 -1.7 0M212.8 1295.5m-0.8 0a0.8 0.8 0 1 0 1.7 0a0.8 0.8 0 1 0 -1.7 0M211.8 1278.3m-0.9 0a0.9 0.9 0 1 0 1.9 0a0.9 0.9 0 1 0 -1.9 0M280.8 1254.8m-0.6 0a0.6 0.6 0 1 0 1.2 0a0.6 0.6 0 1 0 -1.2 0M162.1 1279.7m-2.8 0a2.8 2.8 0 1 0 5.6 0a2.8 2.8 0 1 0 -5.6 0M342.5 1264.0m-0.6 0a0.6 0.6 0 1 0 1.2 0a0.6 0.6 0 1 0 -1.2 0M294.1 1283.9m-1.5 0a1.5 1.5 0 1 0 2.9 0a1.5 1.5 0 1 0 -2.9 0M267.0 1245.6m-1.2 0a1.2 1.2 0 1 0 2.4 0a1.2 1.2 0 1 0 -2.4 0M354.0 1289.7m-1.0 0a1.0 1.0 0 1 0 2.0 0a1.0 1.0 0 1 0 -2.0 0M325.7 1306.9m-0.8 0a0.8 0.8 0 1 0 1.7 0a0.8 0.8 0 1 0 -1.7 0M315.9 1311.5m-2.4 0a2.4 2.4 0 1 0 4.8 0a2.4 2.4 0 1 0 -4.8 0M262.1 1283.2m-0.8 0a0.8 0.8 0 1 0 1.6 0a0.8 0.8 0 1 0 -1.6 0M295.0 1163.9m-0.7 0a0.7 0.7 0 1 0 1.3 0a0.7 0.7 0 1 0 -1.3 0" fill="#1d2a3e"/><g transform="translate(0 706)"><path d="M305 215C300 150 360 115 420 118C500 120 580 180 605 260C630 330 615 400 560 450L400 520L395 450Z" fill="#17152a"/><path d="M205 610C260 570 330 555 400 552L440 610ZM620 545C660 535 700 538 735 548L735 610L600 610Z" fill="#b9f3e1"/><path d="M345 205C385 190 420 215 450 250C490 290 520 330 530 390L560 610L400 610L395 455C350 450 315 410 308 360C305 310 320 240 345 205Z" fill="#f9b9a5"/><path d="M395 455L445 430L398 500Z" fill="#17152a"/><path d="M455 150C520 140 560 200 565 290" stroke="#b9f3e1" stroke-width="26" fill="none"/><circle cx="532" cy="318" r="66" fill="#b9f3e1"/><circle cx="532" cy="318" r="43" fill="none" stroke="#fff" stroke-width="4"/><path d="M330 295C340 305 355 305 365 298M405 310C418 320 432 320 442 312" stroke="#1d1b2b" stroke-width="3.5" fill="none"/><path d="M390 318L368 355L392 358" stroke="#e8907a" stroke-width="3" fill="none"/><path d="M390 378C400 385 415 380 422 368" stroke="#e8301c" stroke-width="4" fill="none"/><ellipse cx="212" cy="168" rx="20" ry="14" transform="rotate(-25 212 168)" fill="#b9f3e1"/><path d="M228 160L210 95L237 80" stroke="#b9f3e1" stroke-width="4" fill="none"/><ellipse cx="658" cy="238" rx="20" ry="14" transform="rotate(-25 658 238)" fill="#b9f3e1"/><path d="M675 230L668 165L697 152" stroke="#b9f3e1" stroke-width="4" fill="none"/></g></g><g clip-path="url(#t4)"><rect x="788" y="751" width="572" height="557" fill="#ffc800"/><g transform="translate(0 706)"><path d="M780 130L905 60L968 200L780 355ZM780 470L862 495L1180 490L1370 522L1370 610L780 610ZM1300 365L1370 305L1370 480L1345 470Z" fill="#fff"/></g><path d="M1338.4 1309.9m-1.6 0a1.6 1.6 0 1 0 3.2 0a1.6 1.6 0 1 0 -3.2 0M1361.1 1278.5m-0.9 0a0.9 0.9 0 1 0 1.8 0a0.9 0.9 0 1 0 -1.8 0M1361.5 1282.3m-0.6 0a0.6 0.6 0 1 0 1.2 0a0.6 0.6 0 1 0 -1.2 0M1317.1 1311.6m-0.6 0a0.6 0.6 0 1 0 1.2 0a0.6 0.6 0 1 0 -1.2 0M1319.2 1225.1m-0.6 0a0.6 0.6 0 1 0 1.3 0a0.6 0.6 0 1 0 -1.3 0M1351.6 1264.7m-2.8 0a2.8 2.8 0 1 0 5.5 0a2.8 2.8 0 1 0 -5.5 0M1277.9 1294.7m-2.9 0a2.9 2.9 0 1 0 5.8 0a2.9 2.9 0 1 0 -5.8 0M1361.7 1217.6m-0.8 0a0.8 0.8 0 1 0 1.6 0a0.8 0.8 0 1 0 -1.6 0M1358.0 1310.8m-0.8 0a0.8 0.8 0 1 0 1.7 0a0.8 0.8 0 1 0 -1.7 0M1181.7 1308.9m-1.4 0a1.4 1.4 0 1 0 2.8 0a1.4 1.4 0 1 0 -2.8 0M1256.8 1297.0m-1.3 0a1.3 1.3 0 1 0 2.6 0a1.3 1.3 0 1 0 -2.6 0M1361.4 1311.7m-0.7 0a0.7 0.7 0 1 0 1.4 0a0.7 0.7 0 1 0 -1.4 0M1241.1 1291.6m-0.8 0a0.8 0.8 0 1 0 1.7 0a0.8 0.8 0 1 0 -1.7 0M1275.1 1288.9m-0.8 0a0.8 0.8 0 1 0 1.6 0a0.8 0.8 0 1 0 -1.6 0M1192.1 1252.0m-0.7 0a0.7 0.7 0 1 0 1.5 0a0.7 0.7 0 1 0 -1.5 0M1278.7 1280.0m-2.4 0a2.4 2.4 0 1 0 4.9 0a2.4 2.4 0 1 0 -4.9 0M1221.1 1303.5m-2.9 0a2.9 2.9 0 1 0 5.8 0a2.9 2.9 0 1 0 -5.8 0M1359.4 1292.6m-2.0 0a2.0 2.0 0 1 0 4.0 0a2.0 2.0 0 1 0 -4.0 0M1357.5 1284.6m-0.6 0a0.6 0.6 0 1 0 1.2 0a0.6 0.6 0 1 0 -1.2 0M1245.8 1238.9m-1.4 0a1.4 1.4 0 1 0 2.8 0a1.4 1.4 0 1 0 -2.8 0M1151.5 1301.7m-1.8 0a1.8 1.8 0 1 0 3.5 0a1.8 1.8 0 1 0 -3.5 0M1272.2 1272.2m-1.1 0a1.1 1.1 0 1 0 2.2 0a1.1 1.1 0 1 0 -2.2 0M1169.9 1195.5m-1.1 0a1.1 1.1 0 1 0 2.3 0a1.1 1.1 0 1 0 -2.3 0M1247.4 1311.7m-1.8 0a1.8 1.8 0 1 0 3.6 0a1.8 1.8 0 1 0 -3.6 0M1253.7 1182.0m-2.2 0a2.2 2.2 0 1 0 4.4 0a2.2 2.2 0 1 0 -4.4 0M1344.2 1295.8m-1.7 0a1.7 1.7 0 1 0 3.3 0a1.7 1.7 0 1 0 -3.3 0M1361.9 1287.9m-0.7 0a0.7 0.7 0 1 0 1.3 0a0.7 0.7 0 1 0 -1.3 0M1359.5 1311.7m-2.0 0a2.0 2.0 0 1 0 4.0 0a2.0 2.0 0 1 0 -4.0 0M1358.9 1305.9m-1.0 0a1.0 1.0 0 1 0 1.9 0a1.0 1.0 0 1 0 -1.9 0M1153.7 1311.5m-1.1 0a1.1 1.1 0 1 0 2.2 0a1.1 1.1 0 1 0 -2.2 0M1286.5 1211.5m-2.2 0a2.2 2.2 0 1 0 4.4 0a2.2 2.2 0 1 0 -4.4 0M1157.6 1304.1m-1.0 0a1.0 1.0 0 1 0 2.0 0a1.0 1.0 0 1 0 -2.0 0M1332.4 1211.3m-2.8 0a2.8 2.8 0 1 0 5.6 0a2.8 2.8 0 1 0 -5.6 0M1357.6 1309.1m-0.7 0a0.7 0.7 0 1 0 1.5 0a0.7 0.7 0 1 0 -1.5 0M1350.5 1285.1m-1.4 0a1.4 1.4 0 1 0 2.9 0a1.4 1.4 0 1 0 -2.9 0M1347.1 1312.0m-1.0 0a1.0 1.0 0 1 0 2.0 0a1.0 1.0 0 1 0 -2.0 0M1330.5 1274.2m-2.8 0a2.8 2.8 0 1 0 5.6 0a2.8 2.8 0 1 0 -5.6 0M1237.1 1281.3m-1.5 0a1.5 1.5 0 1 0 3.0 0a1.5 1.5 0 1 0 -3.0 0M1242.8 1311.8m-2.5 0a2.5 2.5 0 1 0 5.1 0a2.5 2.5 0 1 0 -5.1 0M1198.8 1213.7m-2.1 0a2.1 2.1 0 1 0 4.3 0a2.1 2.1 0 1 0 -4.3 0M1326.0 1294.5m-0.6 0a0.6 0.6 0 1 0 1.3 0a0.6 0.6 0 1 0 -1.3 0M1258.4 1311.7m-0.6 0a0.6 0.6 0 1 0 1.2 0a0.6 0.6 0 1 0 -1.2 0M1353.0 1309.6m-0.9 0a0.9 0.9 0 1 0 1.8 0a0.9 0.9 0 1 0 -1.8 0M1361.6 1312.0m-0.7 0a0.7 0.7 0 1 0 1.3 0a0.7 0.7 0 1 0 -1.3 0M1360.2 1297.7m-0.6 0a0.6 0.6 0 1 0 1.2 0a0.6 0.6 0 1 0 -1.2 0M1152.1 1266.9m-0.7 0a0.7 0.7 0 1 0 1.3 0a0.7 0.7 0 1 0 -1.3 0M1348.4 1299.1m-0.9 0a0.9 0.9 0 1 0 1.8 0a0.9 0.9 0 1 0 -1.8 0M1359.2 1219.9m-3.0 0a3.0 3.0 0 1 0 5.9 0a3.0 3.0 0 1 0 -5.9 0M1309.4 1285.3m-0.6 0a0.6 0.6 0 1 0 1.2 0a0.6 0.6 0 1 0 -1.2 0M1360.1 1299.5m-0.8 0a0.8 0.8 0 1 0 1.5 0a0.8 0.8 0 1 0 -1.5 0M1175.4 1309.6m-0.6 0a0.6 0.6 0 1 0 1.2 0a0.6 0.6 0 1 0 -1.2 0M1109.5 1279.6m-0.7 0a0.7 0.7 0 1 0 1.3 0a0.7 0.7 0 1 0 -1.3 0M1288.4 1312.0m-1.3 0a1.3 1.3 0 1 0 2.5 0a1.3 1.3 0 1 0 -2.5 0M1093.2 1216.5m-1.8 0a1.8 1.8 0 1 0 3.5 0a1.8 1.8 0 1 0 -3.5 0M1347.3 1297.5m-0.7 0a0.7 0.7 0 1 0 1.3 0a0.7 0.7 0 1 0 -1.3 0M1202.4 1279.0m-2.1 0a2.1 2.1 0 1 0 4.1 0a2.1 2.1 0 1 0 -4.1 0M1337.5 1307.1m-2.2 0a2.2 2.2 0 1 0 4.4 0a2.2 2.2 0 1 0 -4.4 0M1089.3 1219.1m-2.2 0a2.2 2.2 0 1 0 4.3 0a2.2 2.2 0 1 0 -4.3 0M1180.6 1244.0m-0.7 0a0.7 0.7 0 1 0 1.4 0a0.7 0.7 0 1 0 -1.4 0M1295.8 1298.4m-0.6 0a0.6 0.6 0 1 0 1.2 0a0.6 0.6 0 1 0 -1.2 0M1361.9 1304.0m-0.8 0a0.8 0.8 0 1 0 1.5 0a0.8 0.8 0 1 0 -1.5 0M1236.3 1192.3m-1.1 0a1.1 1.1 0 1 0 2.2 0a1.1 1.1 0 1 0 -2.2 0M1117.6 1183.4m-2.8 0a2.8 2.8 0 1 0 5.6 0a2.8 2.8 0 1 0 -5.6 0M1331.4 1307.3m-0.7 0a0.7 0.7 0 1 0 1.4 0a0.7 0.7 0 1 0 -1.4 0M1354.1 1308.0m-1.5 0a1.5 1.5 0 1 0 3.1 0a1.5 1.5 0 1 0 -3.1 0M1138.2 1222.0m-1.2 0a1.2 1.2 0 1 0 2.3 0a1.2 1.2 0 1 0 -2.3 0M1251.6 1231.3m-0.6 0a0.6 0.6 0 1 0 1.2 0a0.6 0.6 0 1 0 -1.2 0M1248.7 1204.8m-2.1 0a2.1 2.1 0 1 0 4.1 0a2.1 2.1 0 1 0 -4.1 0M1212.2 1286.0m-0.7 0a0.7 0.7 0 1 0 1.4 0a0.7 0.7 0 1 0 -1.4 0M1194.5 1300.3m-2.1 0a2.1 2.1 0 1 0 4.3 0a2.1 2.1 0 1 0 -4.3 0M1097.3 1294.8m-1.0 0a1.0 1.0 0 1 0 2.0 0a1.0 1.0 0 1 0 -2.0 0M1112.0 1247.0m-0.7 0a0.7 0.7 0 1 0 1.3 0a0.7 0.7 0 1 0 -1.3 0M1359.0 1309.9m-2.6 0a2.6 2.6 0 1 0 5.1 0a2.6 2.6 0 1 0 -5.1 0M1186.3 1310.1m-2.2 0a2.2 2.2 0 1 0 4.5 0a2.2 2.2 0 1 0 -4.5 0M1092.1 1259.6m-0.9 0a0.9 0.9 0 1 0 1.8 0a0.9 0.9 0 1 0 -1.8 0M1286.7 1310.5m-0.6 0a0.6 0.6 0 1 0 1.2 0a0.6 0.6 0 1 0 -1.2 0M1097.7 1260.9m-1.3 0a1.3 1.3 0 1 0 2.5 0a1.3 1.3 0 1 0 -2.5 0M1119.5 1291.0m-2.4 0a2.4 2.4 0 1 0 4.8 0a2.4 2.4 0 1 0 -4.8 0M1176.7 1307.7m-0.8 0a0.8 0.8 0 1 0 1.5 0a0.8 0.8 0 1 0 -1.5 0M1343.1 1306.3m-1.4 0a1.4 1.4 0 1 0 2.9 0a1.4 1.4 0 1 0 -2.9 0M1347.5 1292.5m-0.6 0a0.6 0.6 0 1 0 1.3 0a0.6 0.6 0 1 0 -1.3 0M1132.8 1298.6m-1.1 0a1.1 1.1 0 1 0 2.2 0a1.1 1.1 0 1 0 -2.2 0M1275.8 1206.2m-1.0 0a1.0 1.0 0 1 0 2.0 0a1.0 1.0 0 1 0 -2.0 0M1128.5 1283.1m-1.3 0a1.3 1.3 0 1 0 2.6 0a1.3 1.3 0 1 0 -2.6 0M1294.1 1312.0m-1.1 0a1.1 1.1 0 1 0 2.1 0a1.1 1.1 0 1 0 -2.1 0M1355.3 1312.0m-2.1 0a2.1 2.1 0 1 0 4.3 0a2.1 2.1 0 1 0 -4.3 0M1356.1 1286.5m-1.9 0a1.9 1.9 0 1 0 3.7 0a1.9 1.9 0 1 0 -3.7 0M1284.3 1300.8m-1.2 0a1.2 1.2 0 1 0 2.5 0a1.2 1.2 0 1 0 -2.5 0M1284.7 1234.7m-0.6 0a0.6 0.6 0 1 0 1.3 0a0.6 0.6 0 1 0 -1.3 0M1283.2 1305.8m-0.8 0a0.8 0.8 0 1 0 1.6 0a0.8 0.8 0 1 0 -1.6 0M1202.3 1282.3m-1.4 0a1.4 1.4 0 1 0 2.7 0a1.4 1.4 0 1 0 -2.7 0M1207.8 1204.1m-1.1 0a1.1 1.1 0 1 0 2.1 0a1.1 1.1 0 1 0 -2.1 0M1266.1 1282.6m-1.2 0a1.2 1.2 0 1 0 2.5 0a1.2 1.2 0 1 0 -2.5 0M1236.3 1289.0m-1.3 0a1.3 1.3 0 1 0 2.6 0a1.3 1.3 0 1 0 -2.6 0M1306.4 1196.4m-1.8 0a1.8 1.8 0 1 0 3.5 0a1.8 1.8 0 1 0 -3.5 0M1151.0 1196.2m-0.8 0a0.8 0.8 0 1 0 1.5 0a0.8 0.8 0 1 0 -1.5 0M1283.4 1195.9m-2.3 0a2.3 2.3 0 1 0 4.6 0a2.3 2.3 0 1 0 -4.6 0M1358.4 1310.7m-1.1 0a1.1 1.1 0 1 0 2.1 0a1.1 1.1 0 1 0 -2.1 0M1361.1 1306.3m-0.6 0a0.6 0.6 0 1 0 1.2 0a0.6 0.6 0 1 0 -1.2 0M1245.4 1234.7m-2.5 0a2.5 2.5 0 1 0 5.1 0a2.5 2.5 0 1 0 -5.1 0M1357.4 1248.7m-1.6 0a1.6 1.6 0 1 0 3.3 0a1.6 1.6 0 1 0 -3.3 0M1358.1 1211.7m-2.8 0a2.8 2.8 0 1 0 5.7 0a2.8 2.8 0 1 0 -5.7 0M1352.0 1193.4m-1.0 0a1.0 1.0 0 1 0 2.0 0a1.0 1.0 0 1 0 -2.0 0M1304.0 1182.9m-2.3 0a2.3 2.3 0 1 0 4.5 0a2.3 2.3 0 1 0 -4.5 0M1356.9 1291.2m-1.2 0a1.2 1.2 0 1 0 2.5 0a1.2 1.2 0 1 0 -2.5 0M1335.9 1308.4m-0.8 0a0.8 0.8 0 1 0 1.7 0a0.8 0.8 0 1 0 -1.7 0M1224.2 1312.0m-1.3 0a1.3 1.3 0 1 0 2.7 0a1.3 1.3 0 1 0 -2.7 0M1315.6 1312.0m-0.9 0a0.9 0.9 0 1 0 1.7 0a0.9 0.9 0 1 0 -1.7 0M1262.1 1281.7m-0.6 0a0.6 0.6 0 1 0 1.2 0a0.6 0.6 0 1 0 -1.2 0M1089.2 1233.8m-2.9 0a2.9 2.9 0 1 0 5.7 0a2.9 2.9 0 1 0 -5.7 0M1360.0 1304.9m-0.6 0a0.6 0.6 0 1 0 1.2 0a0.6 0.6 0 1 0 -1.2 0M1199.2 1304.6m-0.6 0a0.6 0.6 0 1 0 1.3 0a0.6 0.6 0 1 0 -1.3 0M1319.7 1204.4m-2.2 0a2.2 2.2 0 1 0 4.4 0a2.2 2.2 0 1 0 -4.4 0M1347.6 1310.0m-2.6 0a2.6 2.6 0 1 0 5.3 0a2.6 2.6 0 1 0 -5.3 0M1279.9 1251.7m-0.6 0a0.6 0.6 0 1 0 1.2 0a0.6 0.6 0 1 0 -1.2 0M1361.5 1254.0m-1.0 0a1.0 1.0 0 1 0 2.1 0a1.0 1.0 0 1 0 -2.1 0M1361.1 1197.2m-1.6 0a1.6 1.6 0 1 0 3.1 0a1.6 1.6 0 1 0 -3.1 0M1188.6 1311.4m-2.4 0a2.4 2.4 0 1 0 4.7 0a2.4 2.4 0 1 0 -4.7 0M1361.3 1216.6m-1.1 0a1.1 1.1 0 1 0 2.2 0a1.1 1.1 0 1 0 -2.2 0M1335.9 1276.1m-2.7 0a2.7 2.7 0 1 0 5.3 0a2.7 2.7 0 1 0 -5.3 0M1346.5 1310.5m-1.3 0a1.3 1.3 0 1 0 2.5 0a1.3 1.3 0 1 0 -2.5 0M1350.0 1311.0m-0.7 0a0.7 0.7 0 1 0 1.3 0a0.7 0.7 0 1 0 -1.3 0M1361.6 1308.1m-0.8 0a0.8 0.8 0 1 0 1.7 0a0.8 0.8 0 1 0 -1.7 0M1341.3 1239.9m-0.8 0a0.8 0.8 0 1 0 1.6 0a0.8 0.8 0 1 0 -1.6 0M1300.6 1309.0m-0.9 0a0.9 0.9 0 1 0 1.8 0a0.9 0.9 0 1 0 -1.8 0M1362.0 1305.7m-0.6 0a0.6 0.6 0 1 0 1.2 0a0.6 0.6 0 1 0 -1.2 0M1219.6 1276.4m-0.7 0a0.7 0.7 0 1 0 1.4 0a0.7 0.7 0 1 0 -1.4 0M1307.2 1198.2m-0.6 0a0.6 0.6 0 1 0 1.3 0a0.6 0.6 0 1 0 -1.3 0M1180.3 1291.2m-1.2 0a1.2 1.2 0 1 0 2.4 0a1.2 1.2 0 1 0 -2.4 0M1172.5 1295.1m-1.2 0a1.2 1.2 0 1 0 2.4 0a1.2 1.2 0 1 0 -2.4 0M1238.2 1185.0m-0.9 0a0.9 0.9 0 1 0 1.8 0a0.9 0.9 0 1 0 -1.8 0M1173.7 1250.5m-1.6 0a1.6 1.6 0 1 0 3.1 0a1.6 1.6 0 1 0 -3.1 0M1323.5 1299.1m-0.6 0a0.6 0.6 0 1 0 1.2 0a0.6 0.6 0 1 0 -1.2 0M1358.8 1311.6m-1.9 0a1.9 1.9 0 1 0 3.8 0a1.9 1.9 0 1 0 -3.8 0M1348.0 1309.6m-0.6 0a0.6 0.6 0 1 0 1.2 0a0.6 0.6 0 1 0 -1.2 0M1169.2 1214.7m-1.7 0a1.7 1.7 0 1 0 3.4 0a1.7 1.7 0 1 0 -3.4 0M1344.6 1306.2m-0.8 0a0.8 0.8 0 1 0 1.6 0a0.8 0.8 0 1 0 -1.6 0M1311.0 1309.7m-1.1 0a1.1 1.1 0 1 0 2.2 0a1.1 1.1 0 1 0 -2.2 0M1347.0 1190.8m-2.9 0a2.9 2.9 0 1 0 5.7 0a2.9 2.9 0 1 0 -5.7 0M1287.2 1306.0m-2.8 0a2.8 2.8 0 1 0 5.7 0a2.8 2.8 0 1 0 -5.7 0M1340.6 1298.3m-0.6 0a0.6 0.6 0 1 0 1.2 0a0.6 0.6 0 1 0 -1.2 0M1328.1 1286.4m-1.2 0a1.2 1.2 0 1 0 2.4 0a1.2 1.2 0 1 0 -2.4 0M1353.7 1282.7m-0.6 0a0.6 0.6 0 1 0 1.2 0a0.6 0.6 0 1 0 -1.2 0M1346.9 1311.3m-1.0 0a1.0 1.0 0 1 0 2.0 0a1.0 1.0 0 1 0 -2.0 0M1361.7 1312.0m-0.8 0a0.8 0.8 0 1 0 1.6 0a0.8 0.8 0 1 0 -1.6 0M1350.6 1271.3m-1.3 0a1.3 1.3 0 1 0 2.5 0a1.3 1.3 0 1 0 -2.5 0M1212.0 1259.5m-1.8 0a1.8 1.8 0 1 0 3.7 0a1.8 1.8 0 1 0 -3.7 0M1149.6 1295.4m-0.9 0a0.9 0.9 0 1 0 1.7 0a0.9 0.9 0 1 0 -1.7 0M1089.4 1310.0m-1.9 0a1.9 1.9 0 1 0 3.7 0a1.9 1.9 0 1 0 -3.7 0M1255.2 1311.9m-2.3 0a2.3 2.3 0 1 0 4.5 0a2.3 2.3 0 1 0 -4.5 0M1142.7 1264.7m-1.9 0a1.9 1.9 0 1 0 3.8 0a1.9 1.9 0 1 0 -3.8 0M1183.5 1310.3m-1.3 0a1.3 1.3 0 1 0 2.5 0a1.3 1.3 0 1 0 -2.5 0M1299.4 1223.2m-2.2 0a2.2 2.2 0 1 0 4.3 0a2.2 2.2 0 1 0 -4.3 0M1176.6 1271.6m-2.5 0a2.5 2.5 0 1 0 5.0 0a2.5 2.5 0 1 0 -5.0 0M1240.1 1253.0m-0.7 0a0.7 0.7 0 1 0 1.5 0a0.7 0.7 0 1 0 -1.5 0M1361.9 1310.4m-0.9 0a0.9 0.9 0 1 0 1.8 0a0.9 0.9 0 1 0 -1.8 0M1360.0 1223.0m-1.3 0a1.3 1.3 0 1 0 2.7 0a1.3 1.3 0 1 0 -2.7 0M1260.7 1264.9m-1.7 0a1.7 1.7 0 1 0 3.4 0a1.7 1.7 0 1 0 -3.4 0M1303.5 1312.0m-2.1 0a2.1 2.1 0 1 0 4.3 0a2.1 2.1 0 1 0 -4.3 0M1213.0 1282.9m-1.3 0a1.3 1.3 0 1 0 2.6 0a1.3 1.3 0 1 0 -2.6 0M1249.2 1311.7m-1.9 0a1.9 1.9 0 1 0 3.8 0a1.9 1.9 0 1 0 -3.8 0M1348.4 1311.6m-0.8 0a0.8 0.8 0 1 0 1.5 0a0.8 0.8 0 1 0 -1.5 0M1221.2 1308.0m-1.9 0a1.9 1.9 0 1 0 3.8 0a1.9 1.9 0 1 0 -3.8 0M1094.8 1284.0m-1.0 0a1.0 1.0 0 1 0 1.9 0a1.0 1.0 0 1 0 -1.9 0M1306.2 1254.8m-2.0 0a2.0 2.0 0 1 0 4.0 0a2.0 2.0 0 1 0 -4.0 0M1264.5 1262.1m-0.6 0a0.6 0.6 0 1 0 1.2 0a0.6 0.6 0 1 0 -1.2 0M1357.8 1305.5m-1.9 0a1.9 1.9 0 1 0 3.9 0a1.9 1.9 0 1 0 -3.9 0M1341.4 1274.0m-0.6 0a0.6 0.6 0 1 0 1.2 0a0.6 0.6 0 1 0 -1.2 0M1361.4 1304.7m-1.7 0a1.7 1.7 0 1 0 3.4 0a1.7 1.7 0 1 0 -3.4 0M1236.5 1256.3m-0.8 0a0.8 0.8 0 1 0 1.6 0a0.8 0.8 0 1 0 -1.6 0M1296.1 1287.6m-1.1 0a1.1 1.1 0 1 0 2.2 0a1.1 1.1 0 1 0 -2.2 0M1359.4 1208.9m-0.7 0a0.7 0.7 0 1 0 1.4 0a0.7 0.7 0 1 0 -1.4 0M1093.4 1197.8m-0.6 0a0.6 0.6 0 1 0 1.2 0a0.6 0.6 0 1 0 -1.2 0M1311.2 1226.7m-2.8 0a2.8 2.8 0 1 0 5.7 0a2.8 2.8 0 1 0 -5.7 0M1313.5 1304.7m-0.7 0a0.7 0.7 0 1 0 1.4 0a0.7 0.7 0 1 0 -1.4 0M1112.7 1307.7m-1.4 0a1.4 1.4 0 1 0 2.8 0a1.4 1.4 0 1 0 -2.8 0M1358.2 1280.1m-2.8 0a2.8 2.8 0 1 0 5.6 0a2.8 2.8 0 1 0 -5.6 0M1358.7 1226.6m-1.2 0a1.2 1.2 0 1 0 2.4 0a1.2 1.2 0 1 0 -2.4 0M1145.5 1251.1m-0.7 0a0.7 0.7 0 1 0 1.5 0a0.7 0.7 0 1 0 -1.5 0M1139.6 1285.0m-0.6 0a0.6 0.6 0 1 0 1.2 0a0.6 0.6 0 1 0 -1.2 0M1362.0 1284.3m-1.1 0a1.1 1.1 0 1 0 2.2 0a1.1 1.1 0 1 0 -2.2 0M1341.8 1310.2m-0.9 0a0.9 0.9 0 1 0 1.8 0a0.9 0.9 0 1 0 -1.8 0M1339.6 1222.0m-0.6 0a0.6 0.6 0 1 0 1.2 0a0.6 0.6 0 1 0 -1.2 0M1211.9 1222.3m-0.6 0a0.6 0.6 0 1 0 1.3 0a0.6 0.6 0 1 0 -1.3 0M1123.7 1249.3m-2.6 0a2.6 2.6 0 1 0 5.1 0a2.6 2.6 0 1 0 -5.1 0M1343.5 1297.0m-1.0 0a1.0 1.0 0 1 0 1.9 0a1.0 1.0 0 1 0 -1.9 0M1080.7 1270.8m-0.9 0a0.9 0.9 0 1 0 1.8 0a0.9 0.9 0 1 0 -1.8 0M1318.4 1304.3m-0.6 0a0.6 0.6 0 1 0 1.2 0a0.6 0.6 0 1 0 -1.2 0M1360.2 1223.3m-0.8 0a0.8 0.8 0 1 0 1.6 0a0.8 0.8 0 1 0 -1.6 0M1118.4 1305.8m-0.8 0a0.8 0.8 0 1 0 1.5 0a0.8 0.8 0 1 0 -1.5 0" fill="#1d1b2b"/><g transform="translate(0 706)"><path d="M895 40L1075 40C1110 80 1140 130 1160 165L1150 172C1120 145 1090 125 1050 115C1010 110 980 125 962 138Z" fill="#c75b36"/><path d="M900 280C905 210 960 150 1040 142C1090 140 1130 170 1142 215L1010 265L975 330L950 395C915 370 898 330 900 280Z" fill="#000"/><path d="M975 285C1010 235 1090 200 1142 215C1170 260 1192 320 1190 365C1188 410 1160 450 1115 458L1105 540L1045 580L990 520L985 425C960 420 945 395 950 365Z" fill="#c75b36"/><path d="M1075 455L1115 458L1108 510Z" fill="#17152a"/><circle cx="967" cy="368" r="28" fill="#c75b36"/><path d="M1060 368C1080 375 1105 372 1120 362C1118 395 1075 405 1060 368Z" fill="#fff"/><ellipse cx="1072" cy="312" rx="5" ry="10" fill="#1d1b2b"/><ellipse cx="1136" cy="294" rx="5" ry="10" fill="#1d1b2b"/><path d="M1108 300L1125 345L1102 345M955 358C970 360 980 368 982 380" stroke="#8a3a22" stroke-width="3" fill="none"/><path d="M1195 180C1240 170 1300 200 1345 240L1370 260L1370 320L1310 365L1290 340C1270 320 1240 310 1225 300C1215 290 1225 280 1245 285L1260 270C1250 230 1220 200 1195 180Z" fill="#c75b36"/><circle cx="1197" cy="250" r="60" fill="#1e8fb0"/><circle cx="1209" cy="244" r="22" fill="#f8fa9c"/><circle cx="1181" cy="233" r="8" fill="#f8fa9c"/><circle cx="1170" cy="254" r="12" fill="#4abc29"/><circle cx="1190" cy="272" r="12" fill="#ff5a65"/><path d="M1215 300C1235 285 1260 285 1275 295L1262 318Z" fill="#c75b36"/></g></g><circle cx="880" cy="130" r="97.5" fill="#4abc29" stroke="#30333f" stroke-width="7"/><circle cx="840" cy="110" r="11" fill="#30333f"/><circle cx="920" cy="110" r="11" fill="#30333f"/><ellipse cx="879" cy="166" rx="29" ry="33" fill="#30333f"/><circle cx="149" cy="571" r="97.5" fill="#ffc800" stroke="#30333f" stroke-width="7"/><clipPath id="e2"><circle cx="149" cy="571" r="93"/></clipPath><g clip-path="url(#e2)"><path d="M67.5 615.4m-3.6 0a3.6 3.6 0 1 0 7.2 0a3.6 3.6 0 1 0 -7.2 0M68.6 624.0m-1.8 0a1.8 1.8 0 1 0 3.6 0a1.8 1.8 0 1 0 -3.6 0M52.4 623.3m-2.0 0a2.0 2.0 0 1 0 4.0 0a2.0 2.0 0 1 0 -4.0 0M110.0 659.1m-0.9 0a0.9 0.9 0 1 0 1.8 0a0.9 0.9 0 1 0 -1.8 0M50.5 559.5m-2.3 0a2.3 2.3 0 1 0 4.6 0a2.3 2.3 0 1 0 -4.6 0M50.1 506.2m-3.9 0a3.9 3.9 0 1 0 7.7 0a3.9 3.9 0 1 0 -7.7 0M89.3 605.0m-0.7 0a0.7 0.7 0 1 0 1.4 0a0.7 0.7 0 1 0 -1.4 0M50.0 620.7m-0.6 0a0.6 0.6 0 1 0 1.2 0a0.6 0.6 0 1 0 -1.2 0M52.6 652.9m-0.6 0a0.6 0.6 0 1 0 1.2 0a0.6 0.6 0 1 0 -1.2 0M68.5 633.6m-3.1 0a3.1 3.1 0 1 0 6.2 0a3.1 3.1 0 1 0 -6.2 0M73.6 600.0m-1.5 0a1.5 1.5 0 1 0 2.9 0a1.5 1.5 0 1 0 -2.9 0M90.4 631.4m-0.9 0a0.9 0.9 0 1 0 1.7 0a0.9 0.9 0 1 0 -1.7 0M149.5 501.5m-3.1 0a3.1 3.1 0 1 0 6.1 0a3.1 3.1 0 1 0 -6.1 0M96.8 647.4m-0.8 0a0.8 0.8 0 1 0 1.6 0a0.8 0.8 0 1 0 -1.6 0M56.5 659.5m-2.7 0a2.7 2.7 0 1 0 5.3 0a2.7 2.7 0 1 0 -5.3 0M63.4 549.1m-1.1 0a1.1 1.1 0 1 0 2.2 0a1.1 1.1 0 1 0 -2.2 0M141.0 548.9m-0.6 0a0.6 0.6 0 1 0 1.2 0a0.6 0.6 0 1 0 -1.2 0M53.2 529.9m-1.4 0a1.4 1.4 0 1 0 2.7 0a1.4 1.4 0 1 0 -2.7 0M145.7 639.0m-0.6 0a0.6 0.6 0 1 0 1.2 0a0.6 0.6 0 1 0 -1.2 0M86.1 567.8m-0.9 0a0.9 0.9 0 1 0 1.7 0a0.9 0.9 0 1 0 -1.7 0M50.5 645.8m-3.9 0a3.9 3.9 0 1 0 7.7 0a3.9 3.9 0 1 0 -7.7 0M104.4 658.5m-0.8 0a0.8 0.8 0 1 0 1.6 0a0.8 0.8 0 1 0 -1.6 0M50.6 659.7m-2.8 0a2.8 2.8 0 1 0 5.6 0a2.8 2.8 0 1 0 -5.6 0M52.2 615.4m-1.3 0a1.3 1.3 0 1 0 2.6 0a1.3 1.3 0 1 0 -2.6 0M52.6 579.5m-0.7 0a0.7 0.7 0 1 0 1.3 0a0.7 0.7 0 1 0 -1.3 0M87.9 658.6m-1.2 0a1.2 1.2 0 1 0 2.4 0a1.2 1.2 0 1 0 -2.4 0M53.3 651.0m-3.9 0a3.9 3.9 0 1 0 7.8 0a3.9 3.9 0 1 0 -7.8 0M111.8 648.3m-3.3 0a3.3 3.3 0 1 0 6.7 0a3.3 3.3 0 1 0 -6.7 0M53.3 639.4m-3.2 0a3.2 3.2 0 1 0 6.3 0a3.2 3.2 0 1 0 -6.3 0M87.7 659.0m-4.0 0a4.0 4.0 0 1 0 8.1 0a4.0 4.0 0 1 0 -8.1 0M53.3 651.9m-2.7 0a2.7 2.7 0 1 0 5.4 0a2.7 2.7 0 1 0 -5.4 0M58.7 649.0m-0.6 0a0.6 0.6 0 1 0 1.2 0a0.6 0.6 0 1 0 -1.2 0M50.5 611.2m-0.8 0a0.8 0.8 0 1 0 1.6 0a0.8 0.8 0 1 0 -1.6 0M82.7 641.9m-1.3 0a1.3 1.3 0 1 0 2.6 0a1.3 1.3 0 1 0 -2.6 0M141.2 627.6m-1.8 0a1.8 1.8 0 1 0 3.5 0a1.8 1.8 0 1 0 -3.5 0M123.0 656.2m-0.7 0a0.7 0.7 0 1 0 1.4 0a0.7 0.7 0 1 0 -1.4 0M131.0 557.2m-0.8 0a0.8 0.8 0 1 0 1.6 0a0.8 0.8 0 1 0 -1.6 0M52.6 577.6m-3.7 0a3.7 3.7 0 1 0 7.4 0a3.7 3.7 0 1 0 -7.4 0M52.8 517.0m-3.3 0a3.3 3.3 0 1 0 6.6 0a3.3 3.3 0 1 0 -6.6 0M82.9 636.1m-0.6 0a0.6 0.6 0 1 0 1.3 0a0.6 0.6 0 1 0 -1.3 0M50.1 512.8m-0.8 0a0.8 0.8 0 1 0 1.6 0a0.8 0.8 0 1 0 -1.6 0M96.3 651.9m-3.0 0a3.0 3.0 0 1 0 5.9 0a3.0 3.0 0 1 0 -5.9 0M82.1 649.2m-0.7 0a0.7 0.7 0 1 0 1.4 0a0.7 0.7 0 1 0 -1.4 0M98.6 659.6m-0.8 0a0.8 0.8 0 1 0 1.6 0a0.8 0.8 0 1 0 -1.6 0M77.9 547.4m-1.9 0a1.9 1.9 0 1 0 3.8 0a1.9 1.9 0 1 0 -3.8 0M56.1 527.7m-0.7 0a0.7 0.7 0 1 0 1.5 0a0.7 0.7 0 1 0 -1.5 0M50.0 651.1m-1.3 0a1.3 1.3 0 1 0 2.6 0a1.3 1.3 0 1 0 -2.6 0M50.2 656.5m-1.1 0a1.1 1.1 0 1 0 2.2 0a1.1 1.1 0 1 0 -2.2 0M79.3 658.2m-1.1 0a1.1 1.1 0 1 0 2.1 0a1.1 1.1 0 1 0 -2.1 0M127.6 506.8m-2.1 0a2.1 2.1 0 1 0 4.2 0a2.1 2.1 0 1 0 -4.2 0M94.4 610.9m-0.7 0a0.7 0.7 0 1 0 1.3 0a0.7 0.7 0 1 0 -1.3 0M50.1 660.0m-3.5 0a3.5 3.5 0 1 0 7.0 0a3.5 3.5 0 1 0 -7.0 0M95.8 512.8m-0.6 0a0.6 0.6 0 1 0 1.2 0a0.6 0.6 0 1 0 -1.2 0M87.0 627.8m-2.5 0a2.5 2.5 0 1 0 4.9 0a2.5 2.5 0 1 0 -4.9 0M58.1 500.2m-0.6 0a0.6 0.6 0 1 0 1.2 0a0.6 0.6 0 1 0 -1.2 0M76.4 578.2m-3.4 0a3.4 3.4 0 1 0 6.9 0a3.4 3.4 0 1 0 -6.9 0M101.1 586.1m-2.8 0a2.8 2.8 0 1 0 5.6 0a2.8 2.8 0 1 0 -5.6 0M132.2 643.9m-2.2 0a2.2 2.2 0 1 0 4.5 0a2.2 2.2 0 1 0 -4.5 0M129.5 541.9m-1.2 0a1.2 1.2 0 1 0 2.4 0a1.2 1.2 0 1 0 -2.4 0M109.6 544.2m-1.7 0a1.7 1.7 0 1 0 3.5 0a1.7 1.7 0 1 0 -3.5 0M85.6 640.7m-1.8 0a1.8 1.8 0 1 0 3.6 0a1.8 1.8 0 1 0 -3.6 0M83.6 659.4m-2.0 0a2.0 2.0 0 1 0 4.1 0a2.0 2.0 0 1 0 -4.1 0M148.5 539.3m-2.5 0a2.5 2.5 0 1 0 4.9 0a2.5 2.5 0 1 0 -4.9 0M62.5 578.7m-1.8 0a1.8 1.8 0 1 0 3.6 0a1.8 1.8 0 1 0 -3.6 0M66.5 551.4m-0.6 0a0.6 0.6 0 1 0 1.2 0a0.6 0.6 0 1 0 -1.2 0M103.1 659.9m-1.9 0a1.9 1.9 0 1 0 3.7 0a1.9 1.9 0 1 0 -3.7 0M70.0 653.7m-2.3 0a2.3 2.3 0 1 0 4.6 0a2.3 2.3 0 1 0 -4.6 0M71.5 605.2m-3.6 0a3.6 3.6 0 1 0 7.1 0a3.6 3.6 0 1 0 -7.1 0M55.0 660.0m-0.9 0a0.9 0.9 0 1 0 1.8 0a0.9 0.9 0 1 0 -1.8 0M92.5 655.2m-0.7 0a0.7 0.7 0 1 0 1.4 0a0.7 0.7 0 1 0 -1.4 0M130.4 595.9m-1.3 0a1.3 1.3 0 1 0 2.6 0a1.3 1.3 0 1 0 -2.6 0M127.7 646.3m-2.2 0a2.2 2.2 0 1 0 4.3 0a2.2 2.2 0 1 0 -4.3 0M52.9 634.9m-2.9 0a2.9 2.9 0 1 0 5.7 0a2.9 2.9 0 1 0 -5.7 0M132.1 539.1m-1.1 0a1.1 1.1 0 1 0 2.2 0a1.1 1.1 0 1 0 -2.2 0M80.5 647.3m-0.7 0a0.7 0.7 0 1 0 1.3 0a0.7 0.7 0 1 0 -1.3 0M71.4 551.8m-3.1 0a3.1 3.1 0 1 0 6.2 0a3.1 3.1 0 1 0 -6.2 0M97.3 517.1m-0.9 0a0.9 0.9 0 1 0 1.7 0a0.9 0.9 0 1 0 -1.7 0M52.0 632.3m-0.9 0a0.9 0.9 0 1 0 1.7 0a0.9 0.9 0 1 0 -1.7 0M53.4 637.0m-2.0 0a2.0 2.0 0 1 0 3.9 0a2.0 2.0 0 1 0 -3.9 0M71.2 647.4m-3.1 0a3.1 3.1 0 1 0 6.1 0a3.1 3.1 0 1 0 -6.1 0M146.1 632.0m-0.6 0a0.6 0.6 0 1 0 1.2 0a0.6 0.6 0 1 0 -1.2 0M50.0 541.4m-0.6 0a0.6 0.6 0 1 0 1.2 0a0.6 0.6 0 1 0 -1.2 0M96.9 613.4m-0.9 0a0.9 0.9 0 1 0 1.9 0a0.9 0.9 0 1 0 -1.9 0M109.8 660.0m-0.7 0a0.7 0.7 0 1 0 1.3 0a0.7 0.7 0 1 0 -1.3 0M67.7 660.0m-3.0 0a3.0 3.0 0 1 0 6.0 0a3.0 3.0 0 1 0 -6.0 0M54.2 657.9m-0.6 0a0.6 0.6 0 1 0 1.2 0a0.6 0.6 0 1 0 -1.2 0M86.1 632.9m-2.0 0a2.0 2.0 0 1 0 4.0 0a2.0 2.0 0 1 0 -4.0 0M89.4 560.1m-3.8 0a3.8 3.8 0 1 0 7.6 0a3.8 3.8 0 1 0 -7.6 0M93.4 655.4m-1.4 0a1.4 1.4 0 1 0 2.8 0a1.4 1.4 0 1 0 -2.8 0M52.3 660.0m-1.4 0a1.4 1.4 0 1 0 2.8 0a1.4 1.4 0 1 0 -2.8 0" fill="#1d1b2b"/></g><circle cx="113" cy="551" r="14" fill="#0b0b10"/><circle cx="181" cy="551" r="14" fill="#0b0b10"/><path d="M107 592L188 592C186 640 110 640 107 592Z" fill="#0b0b10"/><circle cx="606" cy="1313" r="97.5" fill="#0085e9" stroke="#30333f" stroke-width="7"/><path d="M557 1299C563 1319 584 1319 590 1299M626 1299C632 1319 653 1319 659 1299M557 1343C580 1384 636 1384 659 1343" stroke="#0b0b10" stroke-width="7.5" fill="none" stroke-linecap="round"/></svg>
<div class="panel" style="left:116px;top:931.2px"><svg width="1068" height="712" viewBox="0 0 1068 712"><path d="M535.7 51A266 266 0 0 1 563.1 52.4L555.6 125A193 193 0 0 0 535.7 124Z" fill="#ff5a65"/><path d="M563.1 52.4A266 266 0 0 1 773.6 198L708.3 230.7A193 193 0 0 0 555.6 125Z" fill="#0085e9"/><path d="M773.6 198A266 266 0 0 1 791.1 242.6L721 263A193 193 0 0 0 708.3 230.7Z" fill="#00e0d8"/><path d="M791.1 242.6A266 266 0 0 1 794.6 255.9L723.5 272.7A193 193 0 0 0 721 263Z" fill="#f8fa9c"/><path d="M794.6 255.9A266 266 0 0 1 801.6 323.9L728.6 322A193 193 0 0 0 723.5 272.7Z" fill="#ff3591"/><path d="M801.6 323.9A266 266 0 1 1 278.5 249.2L349.1 267.8A193 193 0 1 0 728.6 322Z" fill="#ffc800"/><path d="M278.5 249.2A266 266 0 0 1 300.9 191.9L365.4 226.3A193 193 0 0 0 349.1 267.8Z" fill="#ff9b5f"/><path d="M300.9 191.9A266 266 0 0 1 535.7 51L535.7 124A193 193 0 0 0 365.4 226.3Z" fill="#4abc29"/><circle cx="535.7" cy="317" r="195" fill="#101010"/><g clip-path="url(#cp)" transform="translate(535.7 317)"><g transform="scale(0.26912) translate(-705 -707)"><g filter="url(#b3)"><rect x="0" y="0" width="1412" height="1412" fill="#bdbdbd"/><path d="M1100 0L1412 0L1412 700L1100 700Z" fill="#e6e6e6"/><path d="M1265 650L1340 540L1412 500L1412 700L1290 680Z" fill="#3a3a3a"/><path d="M0 0L1135 0L1135 180L1150 420L1215 610L1240 660L950 700L0 560Z" fill="#808080"/><path d="M40 500L120 330L330 150L560 40L770 20L790 130L600 250L760 360L880 520L700 540L300 520Z" fill="#6e6e6e"/><path d="M560 0L1000 0L1080 120L1135 180L1140 600L980 600L900 330L700 250L560 110Z" fill="#8e8e8e"/><path d="M620 250L800 330L900 480L870 540L700 520L760 420Z" fill="#3f3f3f"/><path d="M1140 410L1190 450L1225 620L1150 600Z" fill="#3c3c3c"/><path d="M880 130L960 130L990 290L900 300Z" fill="#5a5a5a"/><path d="M330 150L560 40L600 120L420 210Z" fill="#a5a5a5"/><path d="M120 330L330 150L420 210L260 330L140 420Z" fill="#8e8e8e"/><path d="M930 130L1130 170L1135 420L1000 560L960 300Z" fill="#a0a0a0"/><path d="M0 545L700 540L960 600L1240 650L1412 700L1412 800L0 760Z" fill="#6f6f6f"/><path d="M20 575L500 580L940 615" fill="none" stroke="#3c3c3c" stroke-width="14"/><path d="M20 615L500 620L940 655" fill="none" stroke="#5a5a5a" stroke-width="14"/><path d="M20 655L500 660L940 695" fill="none" stroke="#464646" stroke-width="14"/><path d="M20 700L500 705L940 740" fill="none" stroke="#5f5f5f" stroke-width="14"/><path d="M0 520L700 520L900 545L0 560Z" fill="#2e2e2e"/><path d="M0 740L1412 770L1412 1412L0 1412Z" fill="#c2c2c2"/><ellipse cx="1037" cy="1069" rx="28.3" ry="19.9" fill="#979797"/><ellipse cx="1147" cy="1016" rx="28.9" ry="18.4" fill="#5d5d5d"/><ellipse cx="1283" cy="957" rx="28.3" ry="17" fill="#919191"/><ellipse cx="1243" cy="902" rx="32.7" ry="31.4" fill="#5d5d5d"/><ellipse cx="999" cy="986" rx="32.5" ry="24.5" fill="#757575"/><ellipse cx="1138" cy="848" rx="15.3" ry="11.9" fill="#979797"/><ellipse cx="1072" cy="902" rx="15.3" ry="12" fill="#7e7e7e"/><ellipse cx="998" cy="1066" rx="23.4" ry="20" fill="#717171"/><ellipse cx="1337" cy="1072" rx="12.9" ry="9.5" fill="#b4b4b4"/><ellipse cx="1239" cy="1093" rx="20.1" ry="18.8" fill="#adadad"/><ellipse cx="1096" cy="999" rx="31.2" ry="29.3" fill="#999999"/><ellipse cx="1196" cy="849" rx="15.8" ry="14.5" fill="#8d8d8d"/><ellipse cx="1051" cy="988" rx="26.9" ry="23.4" fill="#888888"/><ellipse cx="1144" cy="977" rx="28.7" ry="23.2" fill="#8b8b8b"/><ellipse cx="1161" cy="848" rx="11" ry="9.7" fill="#d4d4d4"/><ellipse cx="1198" cy="946" rx="14.1" ry="11.3" fill="#d4d4d4"/><ellipse cx="1260" cy="986" rx="30.6" ry="21.2" fill="#9a9a9a"/><ellipse cx="1323" cy="996" rx="21" ry="14.9" fill="#9e9e9e"/><ellipse cx="1325" cy="842" rx="28.8" ry="26.7" fill="#c8c8c8"/><ellipse cx="1249" cy="1058" rx="22.4" ry="18.5" fill="#8f8f8f"/><ellipse cx="1010" cy="1075" rx="23.7" ry="16.1" fill="#999999"/><ellipse cx="1160" cy="936" rx="18.3" ry="14.9" fill="#a7a7a7"/><ellipse cx="1204" cy="964" rx="10.7" ry="7.4" fill="#707070"/><ellipse cx="1195" cy="1072" rx="29.2" ry="26.8" fill="#c0c0c0"/><ellipse cx="1079" cy="1067" rx="26.2" ry="16.6" fill="#5c5c5c"/><ellipse cx="995" cy="1044" rx="16" ry="10.3" fill="#a8a8a8"/><ellipse cx="1111" cy="859" rx="13.8" ry="11.2" fill="#6f6f6f"/><ellipse cx="1086" cy="1032" rx="20.9" ry="15.2" fill="#959595"/><ellipse cx="998" cy="944" rx="20.1" ry="13.6" fill="#676767"/><ellipse cx="1305" cy="978" rx="15" ry="12.6" fill="#c0c0c0"/><ellipse cx="997" cy="845" rx="13.5" ry="12" fill="#6e6e6e"/><ellipse cx="1237" cy="1023" rx="23.1" ry="15.9" fill="#d3d3d3"/><ellipse cx="1269" cy="979" rx="15.4" ry="13.2" fill="#8b8b8b"/><ellipse cx="1192" cy="927" rx="25.1" ry="15.7" fill="#7f7f7f"/><ellipse cx="1329" cy="1076" rx="17.4" ry="16.4" fill="#808080"/><ellipse cx="1319" cy="1041" rx="20" ry="14" fill="#5b5b5b"/><ellipse cx="1298" cy="850" rx="29.7" ry="29.2" fill="#a1a1a1"/><ellipse cx="1050" cy="1074" rx="33.4" ry="29.4" fill="#999999"/><ellipse cx="1122" cy="934" rx="14.9" ry="13" fill="#909090"/><ellipse cx="1058" cy="868" rx="26" ry="18.7" fill="#989898"/><ellipse cx="1104" cy="1075" rx="31.6" ry="19.2" fill="#737373"/><ellipse cx="1105" cy="1107" rx="28.8" ry="21.2" fill="#747474"/><ellipse cx="1226" cy="1066" rx="32.4" ry="23.9" fill="#c8c8c8"/><ellipse cx="1230" cy="971" rx="33.7" ry="23.3" fill="#b4b4b4"/><ellipse cx="1020" cy="886" rx="31.9" ry="21.8" fill="#b8b8b8"/><ellipse cx="1200" cy="1067" rx="18.8" ry="13.9" fill="#7e7e7e"/><ellipse cx="1294" cy="1003" rx="32.9" ry="31.4" fill="#6a6a6a"/><ellipse cx="1183" cy="868" rx="10.9" ry="6.9" fill="#c6c6c6"/><ellipse cx="1266" cy="1064" rx="18.2" ry="15.4" fill="#bbbbbb"/><ellipse cx="1122" cy="994" rx="15.4" ry="9.7" fill="#7b7b7b"/><ellipse cx="1302" cy="992" rx="32.2" ry="25.2" fill="#7c7c7c"/><ellipse cx="1265" cy="1063" rx="10.3" ry="8.9" fill="#656565"/><ellipse cx="1030" cy="1079" rx="11" ry="7.6" fill="#d5d5d5"/><ellipse cx="1137" cy="871" rx="14" ry="9.8" fill="#b7b7b7"/><ellipse cx="1026" cy="1086" rx="19.1" ry="18.9" fill="#cbcbcb"/><ellipse cx="1093" cy="908" rx="21.4" ry="13.7" fill="#ababab"/><ellipse cx="1004" cy="843" rx="33.6" ry="24.1" fill="#a4a4a4"/><ellipse cx="1147" cy="925" rx="11.5" ry="11.1" fill="#d3d3d3"/><ellipse cx="1329" cy="870" rx="15.2" ry="12.8" fill="#d4d4d4"/><ellipse cx="1180" cy="1026" rx="25.9" ry="18.2" fill="#9d9d9d"/><ellipse cx="1098" cy="907" rx="12" ry="8.5" fill="#d4d4d4"/><ellipse cx="1147" cy="1016" rx="25.4" ry="24.8" fill="#8a8a8a"/><ellipse cx="1097" cy="928" rx="17.6" ry="16.5" fill="#c9c9c9"/><ellipse cx="1096" cy="930" rx="23.1" ry="19.2" fill="#a4a4a4"/><ellipse cx="1076" cy="846" rx="15.9" ry="10" fill="#9e9e9e"/><ellipse cx="1015" cy="860" rx="25.2" ry="18.1" fill="#bdbdbd"/><ellipse cx="1163" cy="1073" rx="13.7" ry="11" fill="#bdbdbd"/><ellipse cx="1017" cy="1096" rx="14.2" ry="12.9" fill="#d5d5d5"/><ellipse cx="1278" cy="926" rx="12.6" ry="10.1" fill="#cccccc"/><ellipse cx="1093" cy="1081" rx="13.4" ry="12.9" fill="#5d5d5d"/><ellipse cx="192" cy="947" rx="8.8" ry="5.6" fill="#c3c3c3"/><ellipse cx="152" cy="881" rx="12.3" ry="10.4" fill="#aeaeae"/><ellipse cx="125" cy="758" rx="14" ry="10.6" fill="#b9b9b9"/><ellipse cx="199" cy="948" rx="15.6" ry="12.2" fill="#909090"/><ellipse cx="26" cy="727" rx="14.5" ry="10.6" fill="#9a9a9a"/><ellipse cx="181" cy="846" rx="15.8" ry="11" fill="#7a7a7a"/><ellipse cx="79" cy="753" rx="15.1" ry="15.1" fill="#b4b4b4"/><ellipse cx="53" cy="934" rx="19.2" ry="17.1" fill="#c9c9c9"/><ellipse cx="157" cy="910" rx="13" ry="12.9" fill="#cecece"/><ellipse cx="49" cy="901" rx="18" ry="14.1" fill="#a7a7a7"/><ellipse cx="108" cy="942" rx="15" ry="14" fill="#979797"/><ellipse cx="179" cy="936" rx="14.5" ry="12" fill="#cacaca"/><ellipse cx="150" cy="837" rx="11.1" ry="8.1" fill="#b6b6b6"/><ellipse cx="50" cy="938" rx="11.8" ry="11.3" fill="#939393"/><ellipse cx="192" cy="889" rx="15.1" ry="12.2" fill="#b2b2b2"/><ellipse cx="126" cy="795" rx="10.9" ry="8.8" fill="#cccccc"/><ellipse cx="132" cy="738" rx="19.5" ry="17.3" fill="#c9c9c9"/><ellipse cx="54" cy="899" rx="8.8" ry="7.6" fill="#909090"/><ellipse cx="61" cy="930" rx="9.5" ry="7.7" fill="#c4c4c4"/><ellipse cx="64" cy="771" rx="20.3" ry="15.6" fill="#b8b8b8"/><ellipse cx="26" cy="807" rx="10.4" ry="9" fill="#7f7f7f"/><ellipse cx="192" cy="726" rx="18.2" ry="11.1" fill="#8f8f8f"/><ellipse cx="166" cy="758" rx="10.6" ry="9.3" fill="#9a9a9a"/><ellipse cx="28" cy="958" rx="10.1" ry="6.2" fill="#969696"/><ellipse cx="131" cy="898" rx="9.6" ry="7" fill="#7a7a7a"/><ellipse cx="101" cy="904" rx="18.4" ry="17.6" fill="#bcbcbc"/><ellipse cx="175" cy="889" rx="14.6" ry="10.1" fill="#b3b3b3"/><ellipse cx="77" cy="744" rx="14.3" ry="13.6" fill="#838383"/><ellipse cx="125" cy="814" rx="15.2" ry="10" fill="#cecece"/><ellipse cx="67" cy="865" rx="13.9" ry="8.4" fill="#aaaaaa"/><ellipse cx="45" cy="734" rx="8.5" ry="5.6" fill="#808080"/><ellipse cx="134" cy="842" rx="21.8" ry="21.2" fill="#d1d1d1"/><ellipse cx="62" cy="827" rx="11.5" ry="9.6" fill="#b0b0b0"/><ellipse cx="164" cy="890" rx="11.6" ry="8.9" fill="#a7a7a7"/><ellipse cx="21" cy="729" rx="13.7" ry="8.8" fill="#b9b9b9"/><ellipse cx="63" cy="744" rx="10.5" ry="7.3" fill="#8b8b8b"/><ellipse cx="114" cy="831" rx="12.3" ry="10.6" fill="#8b8b8b"/><ellipse cx="183" cy="951" rx="18.2" ry="14.1" fill="#a6a6a6"/><ellipse cx="125" cy="732" rx="13.9" ry="11.2" fill="#888888"/><ellipse cx="37" cy="913" rx="13.1" ry="10.6" fill="#cacaca"/><path d="M930 790L975 790L1230 1180L1100 1412L200 1412L120 1150Z" fill="#cfcfcf"/><path d="M975 790L1010 800L1330 1180L1230 1180Z" fill="#c4c4c4"/><path d="M962 800L972 800L792 1400L722 1400Z" fill="#fafafa"/><rect x="1055" y="800" width="14" height="115" fill="#333"/><rect x="1085" y="765" width="30" height="14" fill="#333"/><path d="M160 1090L620 1080L700 1110L560 1180L200 1170Z" fill="#1c1c1c"/><path d="M150 720L200 690L560 690L680 750L700 1020L610 1090L130 1090L130 900Z" fill="#ababab"/><path d="M540 700L680 750L700 1020L610 1080L545 1060Z" fill="#7d7d7d"/><path d="M200 640L560 632L650 700L640 730L200 692Z" fill="#ececec"/><path d="M395 625L470 608L545 628Z" fill="#555"/><path d="M218 728L520 728L526 818L210 822Z" fill="#5b5b5b"/><ellipse cx="298" cy="779" rx="9.7" ry="8.2" fill="#bababa"/><ellipse cx="249" cy="741" rx="14.4" ry="10.1" fill="#979797"/><ellipse cx="514" cy="774" rx="14.4" ry="11.4" fill="#bbbbbb"/><ellipse cx="273" cy="786" rx="14.7" ry="11.9" fill="#c4c4c4"/><ellipse cx="421" cy="745" rx="13.6" ry="11.4" fill="#9d9d9d"/><ellipse cx="239" cy="802" rx="10.7" ry="9.5" fill="#d1d1d1"/><ellipse cx="434" cy="806" rx="9.9" ry="9.2" fill="#aaaaaa"/><ellipse cx="497" cy="803" rx="7" ry="4.6" fill="#959595"/><ellipse cx="505" cy="771" rx="12.3" ry="8.8" fill="#afafaf"/><ellipse cx="340" cy="765" rx="11.9" ry="9.9" fill="#d3d3d3"/><ellipse cx="424" cy="807" rx="14.6" ry="14.5" fill="#bebebe"/><ellipse cx="276" cy="802" rx="15.6" ry="15" fill="#b5b5b5"/><ellipse cx="433" cy="755" rx="14.3" ry="11.9" fill="#9b9b9b"/><ellipse cx="248" cy="801" rx="15.9" ry="10.1" fill="#cacaca"/><ellipse cx="347" cy="751" rx="8.9" ry="8.1" fill="#d0d0d0"/><ellipse cx="243" cy="784" rx="6.4" ry="5.7" fill="#9f9f9f"/><ellipse cx="481" cy="811" rx="11.1" ry="11" fill="#9d9d9d"/><ellipse cx="252" cy="783" rx="6.3" ry="4.3" fill="#a6a6a6"/><ellipse cx="404" cy="751" rx="6.4" ry="6.1" fill="#9e9e9e"/><ellipse cx="503" cy="805" rx="9.8" ry="7.7" fill="#b0b0b0"/><ellipse cx="414" cy="783" rx="11.6" ry="9.8" fill="#d6d6d6"/><ellipse cx="375" cy="771" rx="13.2" ry="9.2" fill="#9d9d9d"/><ellipse cx="509" cy="778" rx="11.5" ry="6.9" fill="#a7a7a7"/><ellipse cx="395" cy="741" rx="12.2" ry="10.4" fill="#878787"/><ellipse cx="409" cy="774" rx="12.8" ry="9.5" fill="#c1c1c1"/><ellipse cx="440" cy="742" rx="6.6" ry="5.7" fill="#d8d8d8"/><path d="M600 740L680 770L688 830L610 820Z" fill="#4a4a4a"/><path d="M140 845L700 850" fill="none" stroke="#5f5f5f" stroke-width="10"/><path d="M222 935L492 935L492 1035L222 1035Z" fill="#b5b5b5" stroke="#707070" stroke-width="5"/><rect x="320" y="965" width="80" height="32" fill="#e8e8e8"/><rect x="140" y="930" width="30" height="90" fill="#444"/><rect x="545" y="930" width="30" height="90" fill="#444"/><path d="M125 1050L610 1050L610 1092L125 1092Z" fill="#dedede"/><ellipse cx="650" cy="1070" rx="36" ry="58" fill="#1d1d1d"/><ellipse cx="700" cy="800" rx="10" ry="22" fill="#ddd"/></g><rect x="0" y="0" width="1412" height="1412" filter="url(#gr)" opacity="0.4" style="mix-blend-mode:overlay"/></g></g><path d="M268.5 95.3L470.8 95.3M148.6 226.2L317.7 226.2M248.5 476.5L365 476.5M547.2 95.3L881.2 95.3M707.2 167.5L820.4 167.5A28 28 0 0 1 840.2 175.7L902.7 238.2M757.9 226.2L826.3 226.2A14 14 0 0 1 840.3 240.2L840.3 307.1M766.6 255.1L766.6 456.1A14 14 0 0 0 780.6 470.1L796.8 470.1M745 298.6L745 579.7A14 14 0 0 0 759 593.7L923.5 593.7" fill="none" stroke="#fff" stroke-width="3.1"/><text class="n" x="44" y="109.7" font-size="46" fill="#fff" text-anchor="start" textLength="203">Surprised</text><text class="b" x="42.5" y="163.2" font-size="46" fill="#4abc29" text-anchor="start" textLength="144.6" lengthAdjust="spacingAndGlyphs">17.21%</text><text class="n" x="44" y="234.5" font-size="46" fill="#fff" text-anchor="start" textLength="79">Sad</text><text class="b" x="42.5" y="288" font-size="46" fill="#ff9b5f" text-anchor="start" textLength="131.4" lengthAdjust="spacingAndGlyphs">3.69%</text><rect x="44.2" y="444.3" width="190.8" height="65.2" fill="#fff"/><text class="b" x="53.6" y="493.5" font-size="53.5" fill="#30333f" textLength="163" lengthAdjust="spacingAndGlyphs">Happy</text><text class="b" x="42" y="559.7" font-size="50.5" fill="#ffc800" textLength="177.2" lengthAdjust="spacingAndGlyphs">53.69%</text><text class="n" x="1027.5" y="109.7" font-size="46" fill="#fff" text-anchor="end" textLength="126">Angry</text><text class="b" x="1028.5" y="163.2" font-size="46" fill="#ff5a65" text-anchor="end" textLength="127.6" lengthAdjust="spacingAndGlyphs">1.64%</text><text class="n" x="1027.5" y="234.5" font-size="46" fill="#fff" text-anchor="end" textLength="109">Calm</text><text class="b" x="1028.5" y="288" font-size="46" fill="#0085e9" text-anchor="end" textLength="154.1" lengthAdjust="spacingAndGlyphs">15.98%</text><text class="n" x="1027.5" y="359" font-size="46" fill="#fff" text-anchor="end" textLength="205">Confused</text><text class="b" x="1028.5" y="412.5" font-size="46" fill="#00e0d8" text-anchor="end" textLength="130.5" lengthAdjust="spacingAndGlyphs">2.87%</text><text class="n" x="1027.5" y="484" font-size="46" fill="#fff" text-anchor="end" textLength="214">Disgusted</text><text class="b" x="1028.5" y="537.5" font-size="46" fill="#f8fa9c" text-anchor="end" textLength="137.1" lengthAdjust="spacingAndGlyphs">0.82%</text><text class="n" x="1027.5" y="609.6" font-size="46" fill="#fff" text-anchor="end" textLength="92">Fear</text><text class="b" x="1028.5" y="663.1" font-size="46" fill="#ff3591" text-anchor="end" textLength="127.8" lengthAdjust="spacingAndGlyphs">4.10%</text><text class="ct" x="428" y="657.4" textLength="222.7" lengthAdjust="spacingAndGlyphs">Travel</text></svg></div>
<div class="panel" style="left:1225px;top:931.2px"><svg width="1068" height="712" viewBox="0 0 1068 712"><path d="M536.2 49.7A266 266 0 0 1 620.6 63.5L597.5 132.7A193 193 0 0 0 536.2 122.7Z" fill="#ff5a65"/><path d="M620.6 63.5A266 266 0 0 1 656.7 552.9L623.6 487.8A193 193 0 0 0 597.5 132.7Z" fill="#0085e9"/><path d="M656.7 552.9A266 266 0 0 1 567.4 579.9L558.8 507.4A193 193 0 0 0 623.6 487.8Z" fill="#00e0d8"/><path d="M567.4 579.9A266 266 0 0 1 388.8 94.3L429.2 155.1A193 193 0 0 0 558.8 507.4Z" fill="#ffc800"/><path d="M388.8 94.3A266 266 0 0 1 474.3 57L491.3 128A193 193 0 0 0 429.2 155.1Z" fill="#ff9b5f"/><path d="M474.3 57A266 266 0 0 1 536.2 49.7L536.2 122.7A193 193 0 0 0 491.3 128Z" fill="#4abc29"/><circle cx="536.2" cy="315.7" r="195" fill="#101010"/><g clip-path="url(#cp)" transform="translate(536.2 315.7)"><g transform="scale(0.26912) translate(-706.7 -705.6)"><g filter="url(#b3)"><rect x="0" y="0" width="1412" height="1412" fill="#3d3d3d"/><ellipse cx="250" cy="430" rx="330" ry="330" fill="#525252" opacity="0.8"/><rect x="0" y="740" width="1412" height="700" fill="#363636"/><path d="M0 748L1412 742" fill="none" stroke="#595959" stroke-width="6"/><rect x="470" y="880" width="330" height="540" fill="#2a2a2a"/><path d="M800 900L800 1412" fill="none" stroke="#1e1e1e" stroke-width="8"/><ellipse cx="735" cy="468" rx="478" ry="462" fill="#222"/><ellipse cx="735" cy="465" rx="468" ry="452" fill="#6d6d6d"/><ellipse cx="735" cy="465" rx="440" ry="424" fill="#808080"/><ellipse cx="735" cy="465" rx="408" ry="392" fill="#4f4f4f"/><ellipse cx="735" cy="465" rx="385" ry="370" fill="#2c2c2c"/><ellipse cx="738" cy="468" rx="222" ry="214" fill="#707070"/><ellipse cx="735" cy="465" rx="207" ry="200" fill="#2f2f2f"/><ellipse cx="735" cy="465" rx="150" ry="145" fill="#3a3a3a"/><ellipse cx="738" cy="463" rx="66" ry="66" fill="#d5d5d5"/><ellipse cx="738" cy="463" rx="53" ry="53" fill="#060606"/><text x="723 855 965 1024 1019" y="170 195 279 407 543" rotate="6 33 60 87 113" font-family="'Liberation Sans',sans-serif" font-weight="bold" font-size="118" fill="#2c2c2c" stroke="#9a9a9a" stroke-width="6">ROGUE</text><text x="0" y="0" transform="translate(425 545) rotate(8)" font-family="'Liberation Sans',sans-serif" font-weight="bold" font-size="120" fill="#2c2c2c" stroke="#9a9a9a" stroke-width="6">R</text><ellipse cx="470" cy="340" rx="52" ry="88" fill="#2c2c2c" stroke="#959595" stroke-width="6" transform="rotate(22 470 340)"/><ellipse cx="477" cy="369" rx="8.2" ry="8" fill="#9c9c9c"/><ellipse cx="495" cy="283" rx="6.9" ry="6.7" fill="#989898"/><ellipse cx="494" cy="294" rx="6.9" ry="4.8" fill="#939393"/><ellipse cx="474" cy="282" rx="5.9" ry="4.2" fill="#a5a5a5"/><ellipse cx="486" cy="299" rx="8.2" ry="5.4" fill="#969696"/><ellipse cx="448" cy="280" rx="8.5" ry="5.8" fill="#828282"/><ellipse cx="499" cy="385" rx="6.2" ry="6.1" fill="#929292"/><ellipse cx="481" cy="305" rx="8.8" ry="7.7" fill="#a8a8a8"/><ellipse cx="494" cy="316" rx="6.4" ry="4.3" fill="#7f7f7f"/><ellipse cx="444" cy="316" rx="7.4" ry="4.5" fill="#999999"/><ellipse cx="460" cy="317" rx="8.3" ry="6.6" fill="#878787"/><ellipse cx="469" cy="365" rx="5.2" ry="5.2" fill="#797979"/><ellipse cx="485" cy="381" rx="5.1" ry="4.6" fill="#8a8a8a"/><ellipse cx="475" cy="281" rx="5.2" ry="3.5" fill="#a7a7a7"/><ellipse cx="452" cy="371" rx="8.7" ry="8.5" fill="#898989"/><ellipse cx="461" cy="343" rx="8.1" ry="5.2" fill="#9d9d9d"/><ellipse cx="488" cy="383" rx="5.1" ry="5" fill="#7c7c7c"/><ellipse cx="460" cy="353" rx="8.7" ry="6.4" fill="#a6a6a6"/><ellipse cx="655" cy="735" rx="95" ry="50" fill="#2c2c2c" stroke="#959595" stroke-width="6" transform="rotate(12 655 735)"/><ellipse cx="693" cy="754" rx="6.9" ry="4.9" fill="#787878"/><ellipse cx="676" cy="733" rx="8" ry="6" fill="#9e9e9e"/><ellipse cx="625" cy="753" rx="7.9" ry="6.1" fill="#929292"/><ellipse cx="679" cy="717" rx="7.2" ry="6.7" fill="#858585"/><ellipse cx="694" cy="746" rx="8.4" ry="6.2" fill="#7c7c7c"/><ellipse cx="694" cy="753" rx="6.8" ry="4.3" fill="#818181"/><ellipse cx="673" cy="722" rx="8.8" ry="7.4" fill="#828282"/><ellipse cx="675" cy="727" rx="8.7" ry="8.4" fill="#919191"/><ellipse cx="674" cy="747" rx="8.2" ry="8.1" fill="#797979"/><ellipse cx="637" cy="741" rx="6.2" ry="5.2" fill="#7c7c7c"/><ellipse cx="704" cy="737" rx="5.5" ry="4.7" fill="#878787"/><ellipse cx="616" cy="734" rx="5.6" ry="3.8" fill="#a3a3a3"/><ellipse cx="681" cy="706" rx="8.1" ry="4.9" fill="#888888"/><ellipse cx="708" cy="742" rx="6.2" ry="4.7" fill="#8b8b8b"/><ellipse cx="606" cy="765" rx="5.2" ry="4" fill="#9d9d9d"/><ellipse cx="642" cy="764" rx="6" ry="5.9" fill="#a4a4a4"/><ellipse cx="677" cy="758" rx="6.8" ry="6.3" fill="#9f9f9f"/><ellipse cx="657" cy="733" rx="7.8" ry="6" fill="#7c7c7c"/><ellipse cx="687" cy="721" rx="7" ry="6.4" fill="#808080"/><ellipse cx="593" cy="712" rx="7.4" ry="5.5" fill="#848484"/><path d="M600 135L630 240" fill="none" stroke="#8a8a8a" stroke-width="16"/><path d="M830 680L875 775" fill="none" stroke="#8a8a8a" stroke-width="16"/><path d="M200 1010C190 900 250 820 320 822C400 825 440 930 440 1060C445 1180 470 1300 470 1360L330 1310C260 1220 210 1120 200 1010Z" fill="#9e9e9e"/><path d="M250 1020C290 980 390 1000 425 1050L432 1210L300 1250Z" fill="#c6c6c6"/><path d="M265 1000L330 1190L420 1040L360 1030L300 1200" fill="none" stroke="#e8e8e8" stroke-width="9" stroke-linejoin="round"/><path d="M300 1230L425 1210L455 1345L340 1305Z" fill="#7a7a7a"/><path d="M940 950C960 860 1030 815 1090 822C1160 835 1180 930 1172 1060C1165 1180 1130 1270 1110 1290L880 1380C885 1250 910 1080 940 950Z" fill="#a8a8a8"/><path d="M930 1040C980 1000 1080 1010 1125 1045L1110 1205L960 1250Z" fill="#cfcfcf"/><path d="M925 1080L1040 1180L1100 1040L1000 1050L960 1200L1090 1160" fill="none" stroke="#e8e8e8" stroke-width="9" stroke-linejoin="round"/><path d="M905 1240L1060 1190L1085 1290L885 1375Z" fill="#dedede"/></g><rect x="0" y="0" width="1412" height="1412" filter="url(#gr)" opacity="0.4" style="mix-blend-mode:overlay"/></g></g><path d="M274.2 95.3L510.5 95.3M155.8 250.4L269.4 136.8A28 28 0 0 1 289.2 128.6L433.8 128.6M253.4 476.5L363 476.5M571.8 95.3L874.4 95.3M745 244.3L893.3 244.3M596.4 533.2L825.6 533.2A14 14 0 0 0 839.6 519.2L839.6 499.2" fill="none" stroke="#fff" stroke-width="3.1"/><text class="n" x="45.4" y="109.7" font-size="46" fill="#fff" text-anchor="start" textLength="203">Surprised</text><text class="b" x="43.9" y="163.2" font-size="46" fill="#4abc29" text-anchor="start" textLength="126.2" lengthAdjust="spacingAndGlyphs">3.74%</text><text class="n" x="45.4" y="257.9" font-size="46" fill="#fff" text-anchor="start" textLength="79">Sad</text><text class="b" x="43.9" y="311.4" font-size="46" fill="#ff9b5f" text-anchor="start" textLength="124.8" lengthAdjust="spacingAndGlyphs">5.61%</text><rect x="45.6" y="444.3" width="190.8" height="65.2" fill="#fff"/><text class="b" x="55" y="493.5" font-size="53.5" fill="#30333f" textLength="163" lengthAdjust="spacingAndGlyphs">Happy</text><text class="b" x="43.4" y="559.7" font-size="50.5" fill="#ffc800" textLength="182.4" lengthAdjust="spacingAndGlyphs">42.52%</text><text class="n" x="1027.5" y="109.7" font-size="46" fill="#fff" text-anchor="end" textLength="126">Angry</text><text class="b" x="1028.5" y="163.2" font-size="46" fill="#ff5a65" text-anchor="end" textLength="123.2" lengthAdjust="spacingAndGlyphs">5.14%</text><text class="n" x="1027.5" y="257.9" font-size="46" fill="#fff" text-anchor="end" textLength="109">Calm</text><text class="b" x="1028.5" y="311.4" font-size="46" fill="#0085e9" text-anchor="end" textLength="153.8" lengthAdjust="spacingAndGlyphs">37.38%</text><text class="n" x="1027.5" y="484.1" font-size="46" fill="#fff" text-anchor="end" textLength="205">Confused</text><text class="b" x="1028.5" y="537.6" font-size="46" fill="#00e0d8" text-anchor="end" textLength="124.8" lengthAdjust="spacingAndGlyphs">5.61%</text><text class="ct" x="410.3" y="656.1" textLength="253.8" lengthAdjust="spacingAndGlyphs">Fitness</text></svg></div>
<div class="panel" style="left:116px;top:1685.5px"><svg width="1068" height="712" viewBox="0 0 1068 712"><path d="M535.5 45.8A266 266 0 0 1 620.6 59.8L597.2 128.9A193 193 0 0 0 535.5 118.8Z" fill="#ff5a65"/><path d="M620.6 59.8A266 266 0 0 1 679 535.8L639.6 474.3A193 193 0 0 0 597.2 128.9Z" fill="#0085e9"/><path d="M679 535.8A266 266 0 0 1 591.4 571.9L576.1 500.5A193 193 0 0 0 639.6 474.3Z" fill="#00e0d8"/><path d="M591.4 571.9A266 266 0 0 1 582.9 573.5L569.9 501.7A193 193 0 0 0 576.1 500.5Z" fill="#f8fa9c"/><path d="M582.9 573.5A266 266 0 0 1 539.8 577.8L538.7 504.8A193 193 0 0 0 569.9 501.7Z" fill="#ff3591"/><path d="M539.8 577.8A266 266 0 0 1 330.7 142.1L386.9 188.7A193 193 0 0 0 538.7 504.8Z" fill="#ffc800"/><path d="M330.7 142.1A266 266 0 0 1 354.4 117L404.1 170.4A193 193 0 0 0 386.9 188.7Z" fill="#ff9b5f"/><path d="M354.4 117A266 266 0 0 1 535.5 45.8L535.5 118.8A193 193 0 0 0 404.1 170.4Z" fill="#4abc29"/><circle cx="535.5" cy="311.8" r="195" fill="#101010"/><g clip-path="url(#cp)" transform="translate(535.5 311.8)"><g transform="scale(0.26912) translate(-704 -707)"><g filter="url(#b3)"><rect x="0" y="0" width="1412" height="1412" fill="#787878"/><path d="M220 0L228 935" fill="none" stroke="#727272" stroke-width="7"/><path d="M266 0L274 935" fill="none" stroke="#727272" stroke-width="7"/><path d="M312 0L320 935" fill="none" stroke="#727272" stroke-width="7"/><path d="M358 0L366 935" fill="none" stroke="#727272" stroke-width="7"/><path d="M404 0L412 935" fill="none" stroke="#727272" stroke-width="7"/><path d="M450 0L458 935" fill="none" stroke="#727272" stroke-width="7"/><path d="M496 0L504 935" fill="none" stroke="#727272" stroke-width="7"/><path d="M542 0L550 935" fill="none" stroke="#727272" stroke-width="7"/><path d="M588 0L596 935" fill="none" stroke="#727272" stroke-width="7"/><path d="M634 0L642 935" fill="none" stroke="#727272" stroke-width="7"/><path d="M680 0L688 935" fill="none" stroke="#727272" stroke-width="7"/><path d="M726 0L734 935" fill="none" stroke="#727272" stroke-width="7"/><path d="M772 0L780 935" fill="none" stroke="#727272" stroke-width="7"/><path d="M818 0L826 935" fill="none" stroke="#727272" stroke-width="7"/><path d="M864 0L872 935" fill="none" stroke="#727272" stroke-width="7"/><path d="M910 0L918 935" fill="none" stroke="#727272" stroke-width="7"/><path d="M956 0L964 935" fill="none" stroke="#727272" stroke-width="7"/><path d="M1002 0L1010 935" fill="none" stroke="#727272" stroke-width="7"/><path d="M1048 0L1056 935" fill="none" stroke="#727272" stroke-width="7"/><path d="M1094 0L1102 935" fill="none" stroke="#727272" stroke-width="7"/><path d="M1140 0L1148 935" fill="none" stroke="#727272" stroke-width="7"/><path d="M1186 0L1194 935" fill="none" stroke="#727272" stroke-width="7"/><path d="M1232 0L1240 935" fill="none" stroke="#727272" stroke-width="7"/><path d="M1278 0L1286 935" fill="none" stroke="#727272" stroke-width="7"/><path d="M1324 0L1332 935" fill="none" stroke="#727272" stroke-width="7"/><path d="M1370 0L1378 935" fill="none" stroke="#727272" stroke-width="7"/><path d="M0 0L205 0L180 935L0 935Z" fill="#5a5a5a"/><rect x="0" y="935" width="1412" height="480" fill="#3e3e3e"/><path d="M180 935L1180 935" fill="none" stroke="#2e2e2e" stroke-width="10"/><path d="M0 560L150 580L190 760L180 1100L100 1200L0 1100Z" fill="#4e4e4e"/><path d="M40 430L130 410L160 540L40 560Z" fill="#cfcfcf"/><rect x="105" y="420" width="28" height="90" fill="#2a2a2a"/><path d="M170 960L420 950L400 1130L250 1160L180 1100Z" fill="#7c7c7c"/><path d="M180 1090L300 1120L260 1180L170 1150Z" fill="#1c1c1c"/><path d="M180 1150L420 1060L400 1330L260 1250Z" fill="#686868"/><path d="M330 235L665 298L612 812L200 772Z" fill="#ebebeb"/><path d="M665 298L1000 336L962 862L614 822Z" fill="#f1f1f1"/><path d="M200 772L612 812L962 862L958 885L610 838L205 800Z" fill="#c8c8c8"/><path d="M1000 336L1030 350L1000 820L962 862Z" fill="#d4d4d4"/><path d="M665 298L612 812" fill="none" stroke="#bdbdbd" stroke-width="10"/><path d="M365 300L610 346" fill="none" stroke="#b2b2b2" stroke-width="5" stroke-dasharray="30 9"/><path d="M359.5 324L608 370" fill="none" stroke="#b2b2b2" stroke-width="5" stroke-dasharray="37 9"/><path d="M354 348L606 394" fill="none" stroke="#b2b2b2" stroke-width="5" stroke-dasharray="44 9"/><path d="M348.5 372L604 418" fill="none" stroke="#b2b2b2" stroke-width="5" stroke-dasharray="51 9"/><path d="M343 396L602 442" fill="none" stroke="#b2b2b2" stroke-width="5" stroke-dasharray="58 9"/><path d="M337.5 420L600 466" fill="none" stroke="#b2b2b2" stroke-width="5" stroke-dasharray="65 9"/><path d="M332 444L598 490" fill="none" stroke="#b2b2b2" stroke-width="5" stroke-dasharray="32 9"/><path d="M326.5 468L596 514" fill="none" stroke="#b2b2b2" stroke-width="5" stroke-dasharray="39 9"/><path d="M321 492L594 538" fill="none" stroke="#b2b2b2" stroke-width="5" stroke-dasharray="46 9"/><path d="M315.5 516L592 562" fill="none" stroke="#b2b2b2" stroke-width="5" stroke-dasharray="53 9"/><path d="M310 540L590 586" fill="none" stroke="#b2b2b2" stroke-width="5" stroke-dasharray="60 9"/><path d="M304.5 564L588 610" fill="none" stroke="#b2b2b2" stroke-width="5" stroke-dasharray="67 9"/><path d="M299 588L586 634" fill="none" stroke="#b2b2b2" stroke-width="5" stroke-dasharray="34 9"/><path d="M293.5 612L584 658" fill="none" stroke="#b2b2b2" stroke-width="5" stroke-dasharray="41 9"/><path d="M288 636L582 682" fill="none" stroke="#b2b2b2" stroke-width="5" stroke-dasharray="48 9"/><path d="M282.5 660L580 706" fill="none" stroke="#b2b2b2" stroke-width="5" stroke-dasharray="55 9"/><path d="M277 684L578 730" fill="none" stroke="#b2b2b2" stroke-width="5" stroke-dasharray="62 9"/><path d="M271.5 708L576 754" fill="none" stroke="#b2b2b2" stroke-width="5" stroke-dasharray="69 9"/><path d="M672 365L935 395" fill="none" stroke="#bababa" stroke-width="5" stroke-dasharray="34 10"/><path d="M669.4 389L933.5 419" fill="none" stroke="#bababa" stroke-width="5" stroke-dasharray="45 10"/><path d="M666.8 413L932 443" fill="none" stroke="#bababa" stroke-width="5" stroke-dasharray="56 10"/><path d="M664.2 437L930.5 467" fill="none" stroke="#bababa" stroke-width="5" stroke-dasharray="67 10"/><path d="M661.6 461L929 491" fill="none" stroke="#bababa" stroke-width="5" stroke-dasharray="38 10"/><path d="M659 485L927.5 515" fill="none" stroke="#bababa" stroke-width="5" stroke-dasharray="49 10"/><path d="M656.4 509L926 539" fill="none" stroke="#bababa" stroke-width="5" stroke-dasharray="60 10"/><path d="M653.8 533L924.5 563" fill="none" stroke="#bababa" stroke-width="5" stroke-dasharray="71 10"/><path d="M651.2 557L923 587" fill="none" stroke="#bababa" stroke-width="5" stroke-dasharray="42 10"/><path d="M648.6 581L921.5 611" fill="none" stroke="#bababa" stroke-width="5" stroke-dasharray="53 10"/><path d="M646 605L920 635" fill="none" stroke="#bababa" stroke-width="5" stroke-dasharray="64 10"/><path d="M643.4 629L918.5 659" fill="none" stroke="#bababa" stroke-width="5" stroke-dasharray="35 10"/><path d="M640.8 653L917 683" fill="none" stroke="#bababa" stroke-width="5" stroke-dasharray="46 10"/><path d="M638.2 677L915.5 707" fill="none" stroke="#bababa" stroke-width="5" stroke-dasharray="57 10"/><path d="M635.6 701L914 731" fill="none" stroke="#bababa" stroke-width="5" stroke-dasharray="68 10"/><path d="M633 725L912.5 755" fill="none" stroke="#bababa" stroke-width="5" stroke-dasharray="39 10"/><path d="M630.4 749L911 779" fill="none" stroke="#bababa" stroke-width="5" stroke-dasharray="50 10"/><path d="M627.8 773L909.5 803" fill="none" stroke="#bababa" stroke-width="5" stroke-dasharray="61 10"/><path d="M625.2 797L908 827" fill="none" stroke="#bababa" stroke-width="5" stroke-dasharray="72 10"/><path d="M1040 345L1120 310L1250 270L1412 300L1412 720L1190 650Z" fill="#e6e6e6"/><path d="M1120 310L1190 650" fill="none" stroke="#bdbdbd" stroke-width="12"/><rect x="1240" y="365" width="130" height="50" fill="#cfcfcf" stroke="#777" stroke-width="5"/><path d="M1215 440L1380 470" fill="none" stroke="#a8a8a8" stroke-width="5" stroke-dasharray="40 9"/><path d="M1215 467L1380 497" fill="none" stroke="#a8a8a8" stroke-width="5" stroke-dasharray="40 9"/><path d="M1215 494L1380 524" fill="none" stroke="#a8a8a8" stroke-width="5" stroke-dasharray="40 9"/><path d="M1215 521L1380 551" fill="none" stroke="#a8a8a8" stroke-width="5" stroke-dasharray="40 9"/><path d="M1215 548L1380 578" fill="none" stroke="#a8a8a8" stroke-width="5" stroke-dasharray="40 9"/><path d="M1215 575L1380 605" fill="none" stroke="#a8a8a8" stroke-width="5" stroke-dasharray="40 9"/><path d="M1215 602L1380 632" fill="none" stroke="#a8a8a8" stroke-width="5" stroke-dasharray="40 9"/><path d="M1215 629L1380 659" fill="none" stroke="#a8a8a8" stroke-width="5" stroke-dasharray="40 9"/><path d="M1100 860L1350 950L1300 1140L1180 1190L1120 1000Z" fill="#2b2b2b"/><path d="M415 945L650 945L610 1390L385 1300L380 1180Z" fill="#1d1d1d"/><path d="M650 945L900 945L985 1040L1010 1310L610 1412L610 1390Z" fill="#5e5e5e"/><path d="M800 1200L1000 1180L1010 1330L880 1380Z" fill="#2c2c2c"/><path d="M985 1010L1130 990L1180 1200L1020 1320L1000 1150Z" fill="#dedede"/><path d="M990 650L1060 608L1412 750L1412 960L1180 930L1000 750Z" fill="#d9d9d9"/><path d="M700 525L830 505L925 500L990 600L1000 690L975 725L870 680L760 625L745 560Z" fill="#dcdcdc"/><path d="M410 740L480 690L560 690L640 790L660 860L620 940L440 935L400 840Z" fill="#cbcbcb"/><path d="M890 870L960 835L1040 822L1095 890L1085 990L980 1022L905 950Z" fill="#cfcfcf"/><path d="M1030 830L1050 900" fill="none" stroke="#222" stroke-width="18"/><path d="M520 545L850 567" fill="none" stroke="#111" stroke-width="15" stroke-linecap="round"/><path d="M492 730L528 852" fill="none" stroke="#4a4a4a" stroke-width="14" stroke-linecap="round"/><path d="M497 740L523 832" fill="none" stroke="#e0e0e0" stroke-width="5"/></g><rect x="0" y="0" width="1412" height="1412" filter="url(#gr)" opacity="0.3" style="mix-blend-mode:overlay"/></g></g><path d="M271.2 88.8L470.8 88.8M146.7 214.3L307 214.3A28 28 0 0 0 330.1 202.1L363 153.8M248.5 358L306.3 358M194.8 554.7L559.3 554.7M576.7 88.8L881.2 88.8M738.2 215.4L896.3 215.4M626.7 511.9L726.7 511.9A28 28 0 0 0 746.9 503.3L851.7 394.7M582.4 536.5L821.4 536.5A14 14 0 0 0 835.4 522.5L835.4 499.5" fill="none" stroke="#fff" stroke-width="3.1"/><text class="n" x="44" y="103.5" font-size="46" fill="#fff" text-anchor="start" textLength="203">Surprised</text><text class="b" x="42.5" y="157" font-size="46" fill="#4abc29" text-anchor="start" textLength="148.2" lengthAdjust="spacingAndGlyphs">11.92%</text><text class="n" x="44" y="227.5" font-size="46" fill="#fff" text-anchor="start" textLength="79">Sad</text><text class="b" x="42.5" y="281" font-size="46" fill="#ff9b5f" text-anchor="start" textLength="132.8" lengthAdjust="spacingAndGlyphs">2.07%</text><rect x="44.2" y="325.8" width="190.8" height="65.2" fill="#fff"/><text class="b" x="53.6" y="375" font-size="53.5" fill="#30333f" textLength="163" lengthAdjust="spacingAndGlyphs">Happy</text><text class="b" x="42" y="441.2" font-size="50.5" fill="#ffc800" textLength="176.7" lengthAdjust="spacingAndGlyphs">36.27%</text><text class="n" x="44" y="524" font-size="46" fill="#fff" text-anchor="start" textLength="92">Fear</text><text class="b" x="42.5" y="574.6" font-size="46" fill="#ff3591" text-anchor="start" textLength="131.8" lengthAdjust="spacingAndGlyphs">2.59%</text><text class="n" x="1027.5" y="103.5" font-size="46" fill="#fff" text-anchor="end" textLength="126">Angry</text><text class="b" x="1028.5" y="157" font-size="46" fill="#ff5a65" text-anchor="end" textLength="122.7" lengthAdjust="spacingAndGlyphs">5.18%</text><text class="n" x="1027.5" y="227.5" font-size="46" fill="#fff" text-anchor="end" textLength="109">Calm</text><text class="b" x="1028.5" y="281" font-size="46" fill="#0085e9" text-anchor="end" textLength="153.2" lengthAdjust="spacingAndGlyphs">35.75%</text><text class="n" x="1027.5" y="353.1" font-size="46" fill="#fff" text-anchor="end" textLength="205">Confused</text><text class="b" x="1028.5" y="406.6" font-size="46" fill="#00e0d8" text-anchor="end" textLength="129.7" lengthAdjust="spacingAndGlyphs">5.70%</text><text class="n" x="1027.5" y="476.8" font-size="46" fill="#fff" text-anchor="end" textLength="214">Disgusted</text><text class="b" x="1028.5" y="530.3" font-size="46" fill="#f8fa9c" text-anchor="end" textLength="134.8" lengthAdjust="spacingAndGlyphs">0.52%</text><text class="ct" x="333.8" y="655.2" textLength="406.1" lengthAdjust="spacingAndGlyphs">Educational</text></svg></div>
<div class="panel" style="left:1225px;top:1685.5px"><svg width="1068" height="712" viewBox="0 0 1068 712"><path d="M536.3 46.3A266 266 0 0 1 597.3 53.4L580.5 124.4A193 193 0 0 0 536.3 119.3Z" fill="#ff5a65"/><path d="M597.3 53.4A266 266 0 0 1 732 492.4L678.3 443A193 193 0 0 0 580.5 124.4Z" fill="#0085e9"/><path d="M732 492.4A266 266 0 0 1 706.5 516.7L659.8 460.6A193 193 0 0 0 678.3 443Z" fill="#00e0d8"/><path d="M706.5 516.7A266 266 0 0 1 662.8 546.3L628.1 482.1A193 193 0 0 0 659.8 460.6Z" fill="#ff3591"/><path d="M662.8 546.3A266 266 0 0 1 346.7 125.8L398.7 176.9A193 193 0 0 0 628.1 482.1Z" fill="#ffc800"/><path d="M346.7 125.8A266 266 0 0 1 409.8 78.3L444.5 142.5A193 193 0 0 0 398.7 176.9Z" fill="#ff9b5f"/><path d="M409.8 78.3A266 266 0 0 1 536.3 46.3L536.3 119.3A193 193 0 0 0 444.5 142.5Z" fill="#4abc29"/><circle cx="536.3" cy="312.3" r="195" fill="#101010"/><g clip-path="url(#cp)" transform="translate(536.3 312.3)"><g transform="scale(0.26912) translate(-707 -705)"><g filter="url(#b3)"><rect x="0" y="0" width="1412" height="1412" fill="#303030"/><g filter="url(#b12)"><path d="M0 700L300 690L290 1270L0 1000Z" fill="#f4f4f4"/><path d="M130 700L200 690L180 950L120 930Z" fill="#2a2a2a"/><path d="M235 720L290 700L280 960L240 960Z" fill="#383838"/><path d="M20 620L120 560L260 640L200 720L40 740Z" fill="#1a1a1a"/><path d="M215 470L300 345L340 420L400 470L440 420L420 600L330 640L240 600Z" fill="#fafafa"/><path d="M110 590L135 500L180 520L200 620L150 640Z" fill="#fafafa"/><path d="M565 270L590 135L620 140L600 280Z" fill="#f4f4f4"/><path d="M420 300L440 200L480 210L520 320L470 340Z" fill="#6a6a6a"/><path d="M300 800L590 320" fill="none" stroke="#5a5a5a" stroke-width="34"/><path d="M560 640L740 230" fill="none" stroke="#3d3d3d" stroke-width="20"/><path d="M160 900L260 860L250 1240L180 1220Z" fill="#9a9a9a"/></g><path d="M870 600L1040 592L1100 415L1240 470L1412 545L1412 1040L980 1110L955 905L870 885Z" fill="#4f4f4f"/><path d="M880 640L1000 660L1060 740L1000 830L880 860Z" fill="#303030"/><rect x="925" y="735" width="100" height="30" fill="#8c8c8c"/><path d="M980 1110L960 930L900 880" fill="none" stroke="#b5b5b5" stroke-width="5"/><path d="M1100 415L1040 592L950 610" fill="none" stroke="#a8a8a8" stroke-width="5"/><path d="M1320 430L1340 420L1380 540L1310 510Z" fill="#7a7a7a"/><path d="M520 660L600 625L880 600L875 885L600 890L500 830Z" fill="#9a9a9a"/><path d="M600 615L592 890" fill="none" stroke="#3c3c3c" stroke-width="9"/><path d="M680 615L672 890" fill="none" stroke="#3c3c3c" stroke-width="9"/><path d="M745 615L737 890" fill="none" stroke="#3c3c3c" stroke-width="9"/><path d="M805 615L797 890" fill="none" stroke="#3c3c3c" stroke-width="9"/><path d="M850 615L842 890" fill="none" stroke="#3c3c3c" stroke-width="9"/><path d="M590 652L870 625" fill="none" stroke="#2c2c2c" stroke-width="7"/><path d="M590 727L870 705" fill="none" stroke="#2c2c2c" stroke-width="7"/><path d="M590 802L870 785" fill="none" stroke="#2c2c2c" stroke-width="7"/><path d="M590 874L870 858" fill="none" stroke="#2c2c2c" stroke-width="7"/><ellipse cx="527" cy="854" rx="11.5" ry="10.2" fill="#dedede"/><ellipse cx="530" cy="860" rx="12.5" ry="10.7" fill="#ececec"/><ellipse cx="554" cy="774" rx="12.3" ry="11.5" fill="#dfdfdf"/><ellipse cx="528" cy="693" rx="13.2" ry="10.1" fill="#fbfbfb"/><ellipse cx="545" cy="709" rx="13.1" ry="13.1" fill="#dedede"/><ellipse cx="574" cy="754" rx="17.9" ry="13.2" fill="#f4f4f4"/><ellipse cx="560" cy="800" rx="20.8" ry="17.3" fill="#e0e0e0"/><ellipse cx="508" cy="851" rx="15.9" ry="10.7" fill="#fdfdfd"/><ellipse cx="569" cy="814" rx="20.6" ry="14.7" fill="#e8e8e8"/><ellipse cx="605" cy="713" rx="19.2" ry="12.3" fill="#f4f4f4"/><ellipse cx="584" cy="851" rx="20.1" ry="16.1" fill="#e2e2e2"/><ellipse cx="518" cy="780" rx="16.1" ry="10.1" fill="#fbfbfb"/><ellipse cx="561" cy="809" rx="12.6" ry="8.8" fill="#dcdcdc"/><ellipse cx="541" cy="735" rx="15.1" ry="11.3" fill="#f9f9f9"/><ellipse cx="607" cy="720" rx="14.8" ry="9.8" fill="#f3f3f3"/><ellipse cx="617" cy="724" rx="19.2" ry="13.8" fill="#dcdcdc"/><path d="M870 625L1060 622" fill="none" stroke="#d0d0d0" stroke-width="5"/><path d="M870 705L1290 712" fill="none" stroke="#c8c8c8" stroke-width="5"/><path d="M870 785L1230 822" fill="none" stroke="#c8c8c8" stroke-width="5"/><path d="M870 858L1000 880" fill="none" stroke="#c8c8c8" stroke-width="5"/><ellipse cx="1130" cy="590" rx="52" ry="70" fill="#2a2a2a" stroke="#9a9a9a" stroke-width="6"/><ellipse cx="1075" cy="585" rx="40" ry="34" fill="#1c1c1c" stroke="#808080" stroke-width="5"/><ellipse cx="1350" cy="670" rx="52" ry="70" fill="#2a2a2a" stroke="#9a9a9a" stroke-width="6"/><ellipse cx="1295" cy="665" rx="40" ry="34" fill="#1c1c1c" stroke="#808080" stroke-width="5"/><ellipse cx="1085" cy="915" rx="52" ry="70" fill="#2a2a2a" stroke="#9a9a9a" stroke-width="6"/><ellipse cx="1030" cy="910" rx="40" ry="34" fill="#1c1c1c" stroke="#808080" stroke-width="5"/><ellipse cx="1330" cy="860" rx="52" ry="70" fill="#2a2a2a" stroke="#9a9a9a" stroke-width="6"/><ellipse cx="1275" cy="855" rx="40" ry="34" fill="#1c1c1c" stroke="#808080" stroke-width="5"/><g filter="url(#b6)"><path d="M300 790L420 650L560 585L610 640L500 790L600 895L900 900L960 1105L760 1185L430 1150L300 960Z" fill="#3d3d3d"/><path d="M300 790L540 640L560 700L330 850Z" fill="#6a6a6a"/><ellipse cx="750" cy="560" rx="48" ry="78" fill="#606060"/><path d="M715 560L800 560L850 610L720 615Z" fill="#555"/></g><path d="M780 1150L830 1230L920 1240L990 1130" fill="none" stroke="#5a5a5a" stroke-width="8"/><path d="M910 1240L900 1310" fill="none" stroke="#4a4a4a" stroke-width="8"/></g></g></g><path d="M276 88.8L483 88.8M157.7 268L261.6 144.1A28 28 0 0 1 283.1 134.1L407.7 134.1M245.8 479L385.8 479M567.3 88.8L878.1 88.8M744.7 214.3L892.5 214.3M697.4 479.8L830.6 479.8A28 28 0 0 0 852.5 469.2L895.2 415.5M674.7 515.7L880 515.7" fill="none" stroke="#fff" stroke-width="3.1"/><text class="n" x="45.4" y="103.5" font-size="46" fill="#fff" text-anchor="start" textLength="203">Surprised</text><text class="b" x="43.9" y="157" font-size="46" fill="#4abc29" text-anchor="start" textLength="129" lengthAdjust="spacingAndGlyphs">7.89%</text><text class="n" x="45.4" y="278.2" font-size="46" fill="#fff" text-anchor="start" textLength="79">Sad</text><text class="b" x="43.9" y="331.7" font-size="46" fill="#ff9b5f" text-anchor="start" textLength="130.7" lengthAdjust="spacingAndGlyphs">4.74%</text><rect x="45.6" y="441.9" width="190.8" height="65.2" fill="#fff"/><text class="b" x="55" y="491.1" font-size="53.5" fill="#30333f" textLength="163" lengthAdjust="spacingAndGlyphs">Happy</text><text class="b" x="43.4" y="557.3" font-size="50.5" fill="#ffc800" textLength="183.8" lengthAdjust="spacingAndGlyphs">45.26%</text><text class="n" x="1027.5" y="103.5" font-size="46" fill="#fff" text-anchor="end" textLength="126">Angry</text><text class="b" x="1028.5" y="157" font-size="46" fill="#ff5a65" text-anchor="end" textLength="132.1" lengthAdjust="spacingAndGlyphs">3.68%</text><text class="n" x="1027.5" y="227.5" font-size="46" fill="#fff" text-anchor="end" textLength="109">Calm</text><text class="b" x="1028.5" y="281" font-size="46" fill="#0085e9" text-anchor="end" textLength="151.2" lengthAdjust="spacingAndGlyphs">33.16%</text><text class="n" x="1027.5" y="353.1" font-size="46" fill="#fff" text-anchor="end" textLength="205">Confused</text><text class="b" x="1028.5" y="406.6" font-size="46" fill="#00e0d8" text-anchor="end" textLength="116.8" lengthAdjust="spacingAndGlyphs">2.11%</text><text class="n" x="1027.5" y="476.8" font-size="46" fill="#fff" text-anchor="end" textLength="92">Fear</text><text class="b" x="1028.5" y="530.3" font-size="46" fill="#ff3591" text-anchor="end" textLength="123.1" lengthAdjust="spacingAndGlyphs">3.16%</text><text class="ct" x="435.1" y="655.9" textLength="203.6" lengthAdjust="spacingAndGlyphs">Music</text></svg></div>
<div class="panel" style="left:116px;top:2439.8px"><svg width="1068" height="712" viewBox="0 0 1068 712"><path d="M535.4 47.5A266 266 0 0 1 702.1 106.2L656.4 163.1A193 193 0 0 0 535.4 120.5Z" fill="#ff5a65"/><path d="M702.1 106.2A266 266 0 0 1 801.1 326L728.2 322.6A193 193 0 0 0 656.4 163.1Z" fill="#0085e9"/><path d="M801.1 326A266 266 0 0 1 781.8 413.6L714.2 386.1A193 193 0 0 0 728.2 322.6Z" fill="#00e0d8"/><path d="M781.8 413.6A266 266 0 0 1 777.9 422.8L711.4 392.8A193 193 0 0 0 714.2 386.1Z" fill="#f8fa9c"/><path d="M777.9 422.8A266 266 0 0 1 609.5 569L589.1 498.9A193 193 0 0 0 711.4 392.8Z" fill="#ff3591"/><path d="M609.5 569A266 266 0 0 1 297.1 431.7L362.5 399.3A193 193 0 0 0 589.1 498.9Z" fill="#ffc800"/><path d="M297.1 431.7A266 266 0 0 1 274.6 365.6L346.1 351.3A193 193 0 0 0 362.5 399.3Z" fill="#ff9b5f"/><path d="M274.6 365.6A266 266 0 0 1 535.4 47.5L535.4 120.5A193 193 0 0 0 346.1 351.3Z" fill="#4abc29"/><circle cx="535.4" cy="313.5" r="195" fill="#101010"/><g clip-path="url(#cp)" transform="translate(535.4 313.5)"><g transform="scale(0.26912) translate(-707.5 -707)"><g filter="url(#b3)"><rect x="0" y="0" width="1412" height="1412" fill="#a2a2a2"/><g filter="url(#b30)"><ellipse cx="1000" cy="200" rx="560" ry="420" fill="#7e7e7e"/><ellipse cx="450" cy="1150" rx="600" ry="380" fill="#c6c6c6"/><ellipse cx="200" cy="500" rx="300" ry="300" fill="#b4b4b4"/></g><g filter="url(#b6)"><path d="M0 420L250 300L330 380L200 520L0 640Z" fill="#a5a5a5"/><path d="M0 800L420 640L520 700L560 820L430 980L260 1000L60 900Z" fill="#909090"/><path d="M260 900L430 870L460 950L300 1000Z" fill="#7c7c7c"/><ellipse cx="400" cy="305" rx="150" ry="145" fill="#e6e6e6"/><path d="M330 420L520 200L960 370L1130 450L1140 700L1000 840L760 860L560 720L420 600Z" fill="#e9e9e9"/><ellipse cx="1010" cy="610" rx="135" ry="150" fill="#ececec"/><path d="M420 95L560 90L690 140L680 190L560 160L430 150Z" fill="#555"/><path d="M1075 395L1150 395L1280 440L1270 495L1150 470L1080 440Z" fill="#3a3a3a"/><path d="M1225 470L1248 470L1245 900L1222 900Z" fill="#c2c2c2"/><path d="M600 225L950 360L900 470L850 595L530 435L540 330Z" fill="#1b1b1b"/><path d="M600 225L950 360L940 385L590 250Z" fill="#3a3a3a"/><ellipse cx="335" cy="272" rx="33" ry="40" fill="#181818" transform="rotate(25 335 272)"/><ellipse cx="412" cy="238" rx="33" ry="40" fill="#181818" transform="rotate(25 412 238)"/><ellipse cx="368" cy="362" rx="33" ry="40" fill="#181818" transform="rotate(25 368 362)"/><ellipse cx="445" cy="328" rx="33" ry="40" fill="#181818" transform="rotate(25 445 328)"/><ellipse cx="545" cy="240" rx="18" ry="34" fill="#1c1c1c" transform="rotate(20 545 240)"/><ellipse cx="938" cy="455" rx="20" ry="38" fill="#1c1c1c" transform="rotate(20 938 455)"/><ellipse cx="475" cy="565" rx="92" ry="100" fill="#e2e2e2"/><ellipse cx="465" cy="565" rx="52" ry="92" fill="#1f1f1f" transform="rotate(-15 465 565)"/><ellipse cx="760" cy="730" rx="105" ry="105" fill="#dedede"/><ellipse cx="750" cy="722" rx="82" ry="82" fill="#1c1c1c"/><ellipse cx="750" cy="715" rx="55" ry="50" fill="#333"/><ellipse cx="640" cy="650" rx="26" ry="30" fill="#7a7a7a"/><ellipse cx="654" cy="544" rx="4.3" ry="4" fill="#6e6e6e"/><ellipse cx="658" cy="578" rx="4.2" ry="3.4" fill="#868686"/><ellipse cx="618" cy="545" rx="5.4" ry="4.2" fill="#8b8b8b"/><ellipse cx="628" cy="535" rx="4.2" ry="3.4" fill="#929292"/><ellipse cx="665" cy="570" rx="4.8" ry="4.3" fill="#727272"/><ellipse cx="640" cy="564" rx="5.5" ry="4.2" fill="#717171"/><ellipse cx="638" cy="534" rx="4.6" ry="4.2" fill="#757575"/><ellipse cx="690" cy="577" rx="4.1" ry="3.1" fill="#818181"/><ellipse cx="617" cy="548" rx="5.8" ry="3.7" fill="#858585"/><ellipse cx="625" cy="558" rx="5.8" ry="3.9" fill="#6e6e6e"/><ellipse cx="622" cy="555" rx="4" ry="2.6" fill="#818181"/><ellipse cx="693" cy="547" rx="4.8" ry="4.1" fill="#717171"/><ellipse cx="664" cy="531" rx="5.2" ry="5.1" fill="#707070"/><ellipse cx="662" cy="559" rx="4.3" ry="3" fill="#959595"/><ellipse cx="1027" cy="550" rx="43" ry="43" fill="#1c1c1c"/><ellipse cx="1027" cy="550" rx="22" ry="22" fill="none" stroke="#8a8a8a" stroke-width="5"/><ellipse cx="915" cy="595" rx="43" ry="43" fill="#1c1c1c"/><ellipse cx="915" cy="595" rx="22" ry="22" fill="none" stroke="#8a8a8a" stroke-width="5"/><ellipse cx="1062" cy="680" rx="43" ry="43" fill="#1c1c1c"/><ellipse cx="1062" cy="680" rx="22" ry="22" fill="none" stroke="#8a8a8a" stroke-width="5"/><path d="M20 590L330 480L440 480L470 545L420 630L300 650L20 800Z" fill="#a4a4a4"/><ellipse cx="385" cy="545" rx="75" ry="55" fill="#b2b2b2" transform="rotate(-20 385 545)"/><path d="M1040 800L1230 640L1330 650L1412 720L1412 1050L1150 1300L800 1412L800 1200Z" fill="#b9b9b9"/><path d="M855 660L920 620L990 650L1035 790L1040 1080L900 1400L780 1412L790 1150L830 850Z" fill="#a9a9a9"/><ellipse cx="925" cy="665" rx="62" ry="48" fill="#bdbdbd"/><path d="M1035 800L1045 1090" fill="none" stroke="#7e7e7e" stroke-width="10"/></g></g></g></g><path d="M336.6 89.8L474.6 89.8M192.1 341.3L301 341.3A14 14 0 0 1 315 355.3L315 392.4M209.9 471.8L369.5 471.8M604 89.8L877.4 89.8M748.8 216.5L895.9 216.5M763.9 339.8L798.7 339.8M748.8 405.6L748.8 454A14 14 0 0 0 762.8 468L797.6 468M693.6 481.3L693.6 578A14 14 0 0 0 707.6 592L901.6 592" fill="none" stroke="#fff" stroke-width="3.1"/><rect x="44.2" y="55.8" width="277.3" height="65.2" fill="#fff"/><text class="b" x="53.6" y="105" font-size="53.5" fill="#30333f" textLength="244" lengthAdjust="spacingAndGlyphs">Surprised</text><text class="b" x="42" y="171.2" font-size="50.5" fill="#4abc29" textLength="174.2" lengthAdjust="spacingAndGlyphs">28.14%</text><text class="n" x="44" y="300.9" font-size="46" fill="#fff" text-anchor="start" textLength="79">Sad</text><text class="b" x="42.5" y="354.4" font-size="46" fill="#ff9b5f" text-anchor="start" textLength="124.8" lengthAdjust="spacingAndGlyphs">4.19%</text><text class="n" x="44" y="481.3" font-size="46" fill="#fff" text-anchor="start" textLength="138">Happy</text><text class="b" x="42.5" y="534.8" font-size="46" fill="#ffc800" text-anchor="start" textLength="160.8" lengthAdjust="spacingAndGlyphs">22.16%</text><text class="n" x="1027.5" y="106.1" font-size="46" fill="#fff" text-anchor="end" textLength="126">Angry</text><text class="b" x="1028.5" y="159.6" font-size="46" fill="#ff5a65" text-anchor="end" textLength="155.1" lengthAdjust="spacingAndGlyphs">10.78%</text><text class="n" x="1027.5" y="229.8" font-size="46" fill="#fff" text-anchor="end" textLength="109">Calm</text><text class="b" x="1028.5" y="283.3" font-size="46" fill="#0085e9" text-anchor="end" textLength="152.6" lengthAdjust="spacingAndGlyphs">14.97%</text><text class="n" x="1027.5" y="353.8" font-size="46" fill="#fff" text-anchor="end" textLength="205">Confused</text><text class="b" x="1028.5" y="407.3" font-size="46" fill="#00e0d8" text-anchor="end" textLength="127" lengthAdjust="spacingAndGlyphs">5.39%</text><text class="n" x="1027.5" y="479.7" font-size="46" fill="#fff" text-anchor="end" textLength="214">Disgusted</text><text class="b" x="1028.5" y="533.2" font-size="46" fill="#f8fa9c" text-anchor="end" textLength="140.7" lengthAdjust="spacingAndGlyphs">0.60%</text><text class="n" x="1027.5" y="604.2" font-size="46" fill="#fff" text-anchor="end" textLength="92">Fear</text><text class="b" x="1028.5" y="657.7" font-size="46" fill="#ff3591" text-anchor="end" textLength="144.5" lengthAdjust="spacingAndGlyphs">13.77%</text><text class="ct" x="410.8" y="656.5" textLength="252.9" lengthAdjust="spacingAndGlyphs">Gaming</text></svg></div>
<div class="panel" style="left:1225px;top:2439.8px"><svg width="1068" height="712" viewBox="0 0 1068 712"><path d="M536.1 48.2A266 266 0 0 1 671.2 85.1L634.1 148A193 193 0 0 0 536.1 121.2Z" fill="#ff5a65"/><path d="M671.2 85.1A266 266 0 0 1 795.8 371.9L724.5 356.1A193 193 0 0 0 634.1 148Z" fill="#0085e9"/><path d="M795.8 371.9A266 266 0 0 1 771.4 438.3L706.8 404.2A193 193 0 0 0 724.5 356.1Z" fill="#00e0d8"/><path d="M771.4 438.3A266 266 0 0 1 737.1 488.4L682 440.6A193 193 0 0 0 706.8 404.2Z" fill="#f8fa9c"/><path d="M737.1 488.4A266 266 0 0 1 684.2 535.2L643.5 474.5A193 193 0 0 0 682 440.6Z" fill="#ff3591"/><path d="M684.2 535.2A266 266 0 0 1 270.1 311.6L343.1 312.3A193 193 0 0 0 643.5 474.5Z" fill="#ffc800"/><path d="M270.1 311.6A266 266 0 0 1 273.6 271.3L345.6 283.1A193 193 0 0 0 343.1 312.3Z" fill="#ff9b5f"/><path d="M273.6 271.3A266 266 0 0 1 536.1 48.2L536.1 121.2A193 193 0 0 0 345.6 283.1Z" fill="#4abc29"/><circle cx="536.1" cy="314.2" r="195" fill="#101010"/><g clip-path="url(#cp)" transform="translate(536.1 314.2)"><g transform="scale(0.26912) translate(-706.4 -706)"><g filter="url(#b3)"><rect x="0" y="0" width="1412" height="1412" fill="#161616"/><rect x="0" y="900" width="1412" height="260" fill="#242424"/><g filter="url(#b6)"><path d="M0 1170L520 1130L880 1120L1412 1150L1412 1412L0 1412Z" fill="#a6a6a6"/><path d="M200 1300L1250 1290L1250 1412L200 1412Z" fill="#dcdcdc"/><path d="M350 1090L470 1090L500 1220L280 1170Z" fill="#222"/><path d="M880 1110L1240 1060L1300 1130L960 1160Z" fill="#1d1d1d"/></g><g filter="url(#b12)" opacity="0.75"><path d="M140 350L630 372" fill="none" stroke="#9a9a9a" stroke-width="64" stroke-linecap="round"/><path d="M140 350L140 850" fill="none" stroke="#9a9a9a" stroke-width="64" stroke-linecap="round"/><path d="M140 850L545 850" fill="none" stroke="#9a9a9a" stroke-width="64" stroke-linecap="round"/><path d="M632 372L640 640" fill="none" stroke="#9a9a9a" stroke-width="64" stroke-linecap="round"/><path d="M140 350L930 40" fill="none" stroke="#9a9a9a" stroke-width="64" stroke-linecap="round"/><path d="M632 372L1400 85" fill="none" stroke="#9a9a9a" stroke-width="64" stroke-linecap="round"/><path d="M160 845L1062 490" fill="none" stroke="#9a9a9a" stroke-width="64" stroke-linecap="round"/><path d="M1050 100L1062 490" fill="none" stroke="#9a9a9a" stroke-width="64" stroke-linecap="round"/><path d="M1062 490L1412 480" fill="none" stroke="#9a9a9a" stroke-width="64" stroke-linecap="round"/><path d="M880 745L1412 530" fill="none" stroke="#9a9a9a" stroke-width="64" stroke-linecap="round"/></g><path d="M140 350L630 372" fill="none" stroke="#ffffff" stroke-width="30" stroke-linecap="round"/><path d="M140 350L140 850" fill="none" stroke="#ffffff" stroke-width="30" stroke-linecap="round"/><path d="M140 850L545 850" fill="none" stroke="#ffffff" stroke-width="30" stroke-linecap="round"/><path d="M632 372L640 640" fill="none" stroke="#ffffff" stroke-width="30" stroke-linecap="round"/><path d="M140 350L930 40" fill="none" stroke="#ffffff" stroke-width="30" stroke-linecap="round"/><path d="M632 372L1400 85" fill="none" stroke="#ffffff" stroke-width="30" stroke-linecap="round"/><path d="M160 845L1062 490" fill="none" stroke="#ffffff" stroke-width="30" stroke-linecap="round"/><path d="M1050 100L1062 490" fill="none" stroke="#ffffff" stroke-width="30" stroke-linecap="round"/><path d="M1062 490L1412 480" fill="none" stroke="#ffffff" stroke-width="30" stroke-linecap="round"/><path d="M880 745L1412 530" fill="none" stroke="#ffffff" stroke-width="30" stroke-linecap="round"/><rect x="170" y="395" width="425" height="420" fill="none" stroke="#5a5a5a" stroke-width="6"/><path d="M1085 460L1180 400L1300 440L1412 430" fill="none" stroke="#777" stroke-width="6"/><path d="M520 1040L560 1040L560 1412L520 1412Z" fill="#262626"/><path d="M835 1040L872 1040L872 1412L835 1412Z" fill="#262626"/><path d="M562 800L838 800L868 1412L525 1412Z" fill="#3c3c3c"/><path d="M590 810L650 810L630 1412L560 1412Z" fill="#6a6a6a"/><path d="M760 810L800 810L830 1412L790 1412Z" fill="#1f1f1f"/><path d="M570 900L835 900" fill="none" stroke="#7a7a7a" stroke-width="7"/><ellipse cx="700" cy="765" rx="192" ry="150" fill="#8d8d8d"/><clipPath id="mg"><ellipse cx="700" cy="765" rx="192" ry="150"/></clipPath><g clip-path="url(#mg)"><path d="M236 600L86 930" fill="none" stroke="#2e2e2e" stroke-width="6"/><path d="M36 600L186 930" fill="none" stroke="#2e2e2e" stroke-width="6"/><path d="M258 600L108 930" fill="none" stroke="#2e2e2e" stroke-width="6"/><path d="M58 600L208 930" fill="none" stroke="#2e2e2e" stroke-width="6"/><path d="M280 600L130 930" fill="none" stroke="#2e2e2e" stroke-width="6"/><path d="M80 600L230 930" fill="none" stroke="#2e2e2e" stroke-width="6"/><path d="M302 600L152 930" fill="none" stroke="#2e2e2e" stroke-width="6"/><path d="M102 600L252 930" fill="none" stroke="#2e2e2e" stroke-width="6"/><path d="M324 600L174 930" fill="none" stroke="#2e2e2e" stroke-width="6"/><path d="M124 600L274 930" fill="none" stroke="#2e2e2e" stroke-width="6"/><path d="M346 600L196 930" fill="none" stroke="#2e2e2e" stroke-width="6"/><path d="M146 600L296 930" fill="none" stroke="#2e2e2e" stroke-width="6"/><path d="M368 600L218 930" fill="none" stroke="#2e2e2e" stroke-width="6"/><path d="M168 600L318 930" fill="none" stroke="#2e2e2e" stroke-width="6"/><path d="M390 600L240 930" fill="none" stroke="#2e2e2e" stroke-width="6"/><path d="M190 600L340 930" fill="none" stroke="#2e2e2e" stroke-width="6"/><path d="M412 600L262 930" fill="none" stroke="#2e2e2e" stroke-width="6"/><path d="M212 600L362 930" fill="none" stroke="#2e2e2e" stroke-width="6"/><path d="M434 600L284 930" fill="none" stroke="#2e2e2e" stroke-width="6"/><path d="M234 600L384 930" fill="none" stroke="#2e2e2e" stroke-width="6"/><path d="M456 600L306 930" fill="none" stroke="#2e2e2e" stroke-width="6"/><path d="M256 600L406 930" fill="none" stroke="#2e2e2e" stroke-width="6"/><path d="M478 600L328 930" fill="none" stroke="#2e2e2e" stroke-width="6"/><path d="M278 600L428 930" fill="none" stroke="#2e2e2e" stroke-width="6"/><path d="M500 600L350 930" fill="none" stroke="#2e2e2e" stroke-width="6"/><path d="M300 600L450 930" fill="none" stroke="#2e2e2e" stroke-width="6"/><path d="M522 600L372 930" fill="none" stroke="#2e2e2e" stroke-width="6"/><path d="M322 600L472 930" fill="none" stroke="#2e2e2e" stroke-width="6"/><path d="M544 600L394 930" fill="none" stroke="#2e2e2e" stroke-width="6"/><path d="M344 600L494 930" fill="none" stroke="#2e2e2e" stroke-width="6"/><path d="M566 600L416 930" fill="none" stroke="#2e2e2e" stroke-width="6"/><path d="M366 600L516 930" fill="none" stroke="#2e2e2e" stroke-width="6"/><path d="M588 600L438 930" fill="none" stroke="#2e2e2e" stroke-width="6"/><path d="M388 600L538 930" fill="none" stroke="#2e2e2e" stroke-width="6"/><path d="M610 600L460 930" fill="none" stroke="#2e2e2e" stroke-width="6"/><path d="M410 600L560 930" fill="none" stroke="#2e2e2e" stroke-width="6"/><path d="M632 600L482 930" fill="none" stroke="#2e2e2e" stroke-width="6"/><path d="M432 600L582 930" fill="none" stroke="#2e2e2e" stroke-width="6"/><path d="M654 600L504 930" fill="none" stroke="#2e2e2e" stroke-width="6"/><path d="M454 600L604 930" fill="none" stroke="#2e2e2e" stroke-width="6"/><path d="M676 600L526 930" fill="none" stroke="#2e2e2e" stroke-width="6"/><path d="M476 600L626 930" fill="none" stroke="#2e2e2e" stroke-width="6"/><path d="M698 600L548 930" fill="none" stroke="#2e2e2e" stroke-width="6"/><path d="M498 600L648 930" fill="none" stroke="#2e2e2e" stroke-width="6"/><path d="M720 600L570 930" fill="none" stroke="#2e2e2e" stroke-width="6"/><path d="M520 600L670 930" fill="none" stroke="#2e2e2e" stroke-width="6"/><path d="M742 600L592 930" fill="none" stroke="#2e2e2e" stroke-width="6"/><path d="M542 600L692 930" fill="none" stroke="#2e2e2e" stroke-width="6"/><path d="M764 600L614 930" fill="none" stroke="#2e2e2e" stroke-width="6"/><path d="M564 600L714 930" fill="none" stroke="#2e2e2e" stroke-width="6"/><path d="M786 600L636 930" fill="none" stroke="#2e2e2e" stroke-width="6"/><path d="M586 600L736 930" fill="none" stroke="#2e2e2e" stroke-width="6"/><path d="M808 600L658 930" fill="none" stroke="#2e2e2e" stroke-width="6"/><path d="M608 600L758 930" fill="none" stroke="#2e2e2e" stroke-width="6"/><path d="M830 600L680 930" fill="none" stroke="#2e2e2e" stroke-width="6"/><path d="M630 600L780 930" fill="none" stroke="#2e2e2e" stroke-width="6"/><path d="M852 600L702 930" fill="none" stroke="#2e2e2e" stroke-width="6"/><path d="M652 600L802 930" fill="none" stroke="#2e2e2e" stroke-width="6"/><path d="M874 600L724 930" fill="none" stroke="#2e2e2e" stroke-width="6"/><path d="M674 600L824 930" fill="none" stroke="#2e2e2e" stroke-width="6"/><path d="M896 600L746 930" fill="none" stroke="#2e2e2e" stroke-width="6"/><path d="M696 600L846 930" fill="none" stroke="#2e2e2e" stroke-width="6"/><path d="M918 600L768 930" fill="none" stroke="#2e2e2e" stroke-width="6"/><path d="M718 600L868 930" fill="none" stroke="#2e2e2e" stroke-width="6"/><path d="M940 600L790 930" fill="none" stroke="#2e2e2e" stroke-width="6"/><path d="M740 600L890 930" fill="none" stroke="#2e2e2e" stroke-width="6"/><path d="M962 600L812 930" fill="none" stroke="#2e2e2e" stroke-width="6"/><path d="M762 600L912 930" fill="none" stroke="#2e2e2e" stroke-width="6"/><path d="M984 600L834 930" fill="none" stroke="#2e2e2e" stroke-width="6"/><path d="M784 600L934 930" fill="none" stroke="#2e2e2e" stroke-width="6"/><path d="M1006 600L856 930" fill="none" stroke="#2e2e2e" stroke-width="6"/><path d="M806 600L956 930" fill="none" stroke="#2e2e2e" stroke-width="6"/><path d="M1028 600L878 930" fill="none" stroke="#2e2e2e" stroke-width="6"/><path d="M828 600L978 930" fill="none" stroke="#2e2e2e" stroke-width="6"/><path d="M1050 600L900 930" fill="none" stroke="#2e2e2e" stroke-width="6"/><path d="M850 600L1000 930" fill="none" stroke="#2e2e2e" stroke-width="6"/></g><ellipse cx="700" cy="700" rx="150" ry="80" fill="#c2c2c2" opacity="0.35"/><path d="M556 800L844 800L846 900L554 900Z" fill="#444"/><ellipse cx="700" cy="800" rx="146" ry="50" fill="#cdcdcd"/><ellipse cx="700" cy="818" rx="136" ry="42" fill="#4c4c4c"/><path d="M566 822L834 822L838 880L562 880Z" fill="#474747"/><path d="M590 830L650 830L648 900L585 900Z" fill="#707070"/></g></g></g><path d="M275 89.8L320 89.8A28 28 0 0 1 338.4 96.7L388.8 140.9M145.6 214.6L296.1 214.6A14 14 0 0 1 310.1 228.6L310.1 297.1M248.8 474.1L367.6 474.1M598.3 89.8L878.1 89.8M746.5 216.5L893.3 216.5M750.7 392.4L882.7 392.4M724.2 440L765.3 459.9A28 28 0 0 0 777.5 462.7L794.2 462.7M692.1 482.4L692.1 576.9A14 14 0 0 0 706.1 590.9L903.9 590.9" fill="none" stroke="#fff" stroke-width="3.1"/><text class="n" x="45.4" y="106.1" font-size="46" fill="#fff" text-anchor="start" textLength="203">Surprised</text><text class="b" x="43.9" y="159.6" font-size="46" fill="#4abc29" text-anchor="start" textLength="169" lengthAdjust="spacingAndGlyphs">22.42%</text><text class="n" x="45.4" y="229.8" font-size="46" fill="#fff" text-anchor="start" textLength="79">Sad</text><text class="b" x="43.9" y="283.3" font-size="46" fill="#ff9b5f" text-anchor="start" textLength="136.1" lengthAdjust="spacingAndGlyphs">2.42%</text><rect x="45.6" y="438.1" width="190.8" height="65.2" fill="#fff"/><text class="b" x="55" y="487.3" font-size="53.5" fill="#30333f" textLength="163" lengthAdjust="spacingAndGlyphs">Happy</text><text class="b" x="43.4" y="553.5" font-size="50.5" fill="#ffc800" textLength="173.7" lengthAdjust="spacingAndGlyphs">34.55%</text><text class="n" x="1027.5" y="106.1" font-size="46" fill="#fff" text-anchor="end" textLength="126">Angry</text><text class="b" x="1028.5" y="159.6" font-size="46" fill="#ff5a65" text-anchor="end" textLength="134.5" lengthAdjust="spacingAndGlyphs">8.48%</text><text class="n" x="1027.5" y="229.8" font-size="46" fill="#fff" text-anchor="end" textLength="109">Calm</text><text class="b" x="1028.5" y="283.3" font-size="46" fill="#0085e9" text-anchor="end" textLength="173.8" lengthAdjust="spacingAndGlyphs">20.00%</text><text class="n" x="1027.5" y="353.8" font-size="46" fill="#fff" text-anchor="end" textLength="205">Confused</text><text class="b" x="1028.5" y="407.3" font-size="46" fill="#00e0d8" text-anchor="end" textLength="135.8" lengthAdjust="spacingAndGlyphs">4.24%</text><text class="n" x="1027.5" y="479.7" font-size="46" fill="#fff" text-anchor="end" textLength="214">Disgusted</text><text class="b" x="1028.5" y="533.2" font-size="46" fill="#f8fa9c" text-anchor="end" textLength="132.6" lengthAdjust="spacingAndGlyphs">3.64%</text><text class="n" x="1027.5" y="604.2" font-size="46" fill="#fff" text-anchor="end" textLength="92">Fear</text><text class="b" x="1028.5" y="657.7" font-size="46" fill="#ff3591" text-anchor="end" textLength="135.8" lengthAdjust="spacingAndGlyphs">4.24%</text><text class="ct" x="404.6" y="657.1" textLength="265.5" lengthAdjust="spacingAndGlyphs">Comedy</text></svg></div>
<div class="panel" style="left:116px;top:3194.1px"><svg width="1068" height="712" viewBox="0 0 1068 712"><path d="M535.5 45.7A266 266 0 0 1 556.4 46.5L550.6 119.3A193 193 0 0 0 535.5 118.7Z" fill="#ff5a65"/><path d="M556.4 46.5A266 266 0 0 1 799.7 343L727.2 334.4A193 193 0 0 0 550.6 119.3Z" fill="#0085e9"/><path d="M799.7 343A266 266 0 0 1 737.7 484.5L682.2 437.1A193 193 0 0 0 727.2 334.4Z" fill="#00e0d8"/><path d="M737.7 484.5A266 266 0 0 1 723.6 499.8L672 448.2A193 193 0 0 0 682.2 437.1Z" fill="#f8fa9c"/><path d="M723.6 499.8A266 266 0 0 1 700.1 520.7L654.9 463.3A193 193 0 0 0 672 448.2Z" fill="#ff3591"/><path d="M700.1 520.7A266 266 0 0 1 282.5 229.4L352 252A193 193 0 0 0 654.9 463.3Z" fill="#ffc800"/><path d="M282.5 229.4A266 266 0 0 1 308.7 172.7L371 210.8A193 193 0 0 0 352 252Z" fill="#ff9b5f"/><path d="M308.7 172.7A266 266 0 0 1 535.5 45.7L535.5 118.7A193 193 0 0 0 371 210.8Z" fill="#4abc29"/><circle cx="535.5" cy="311.7" r="195" fill="#101010"/><g clip-path="url(#cp)" transform="translate(535.5 311.7)"><g transform="scale(0.26912) translate(-708 -705)"><g filter="url(#b3)"><rect x="0" y="0" width="1412" height="1412" fill="#c6c6c6"/><g filter="url(#b12)"><path d="M0 0L1412 0L1412 200L0 420Z" fill="#b4b4b4"/><path d="M690 0L760 0L750 150L680 160Z" fill="#8f8f8f"/><path d="M860 0L960 0L1000 200L880 180Z" fill="#e4e4e4"/><path d="M120 330L840 170L900 230L180 400Z" fill="#a3a3a3"/><path d="M260 260L820 130L830 165L270 300Z" fill="#dfdfdf"/><path d="M400 420L960 260L1000 300L470 470Z" fill="#b3b3b3"/><path d="M1000 300L1412 380L1412 800L1000 700Z" fill="#e3e3e3"/><path d="M110 410L450 400L430 720L150 730Z" fill="#c9c9c9"/><ellipse cx="280" cy="405" rx="172" ry="52" fill="#e4e4e4"/><ellipse cx="280" cy="410" rx="140" ry="36" fill="#a9a9a9"/><ellipse cx="480" cy="450" rx="50" ry="62" fill="none" stroke="#dedede" stroke-width="24"/><ellipse cx="80" cy="620" rx="70" ry="50" fill="#e6e6e6"/><ellipse cx="810" cy="630" rx="335" ry="150" fill="#e6e6e6"/><ellipse cx="810" cy="615" rx="270" ry="105" fill="#cfcfcf"/><ellipse cx="760" cy="590" rx="150" ry="50" fill="#8e8e8e"/></g><g filter="url(#b6)"><ellipse cx="380" cy="1110" rx="350" ry="135" fill="#e9e9e9"/><path d="M60 1000L330 1100L330 1150L120 1100Z" fill="#8a8a8a"/><path d="M640 1150L1100 1050L1412 1200L1412 1412L500 1412L520 1260Z" fill="#d0d0d0"/><path d="M940 1240L1230 1170L1320 1240L1150 1412L760 1412Z" fill="#3a3a3a"/><path d="M0 1180L300 1260L520 1412L0 1412Z" fill="#9c9c9c"/><path d="M0 700L110 740L150 900L60 1000L0 950Z" fill="#9a9a9a"/></g><path d="M105 820C120 960 280 1100 520 1138C760 1160 990 1040 1035 760L600 930Z" fill="#0d0d0d"/><ellipse cx="570" cy="778" rx="468" ry="158" fill="#1a1a1a" transform="rotate(-8 570 778)"/><ellipse cx="572" cy="776" rx="452" ry="146" fill="#474747" transform="rotate(-8 572 776)"/><path d="M140 860L200 780L360 740L560 760L640 830L560 910L330 925L180 900Z" fill="#a0a0a0"/><ellipse cx="423" cy="821" rx="15.4" ry="10.5" fill="#b7b7b7"/><ellipse cx="539" cy="858" rx="10.8" ry="8.7" fill="#8b8b8b"/><ellipse cx="275" cy="907" rx="20" ry="12.3" fill="#bbbbbb"/><ellipse cx="437" cy="813" rx="12.1" ry="10.5" fill="#979797"/><ellipse cx="475" cy="859" rx="10.5" ry="9.5" fill="#c6c6c6"/><ellipse cx="606" cy="851" rx="9.5" ry="5.7" fill="#7a7a7a"/><ellipse cx="593" cy="800" rx="13" ry="12.5" fill="#8a8a8a"/><ellipse cx="413" cy="822" rx="9.7" ry="8.1" fill="#b9b9b9"/><ellipse cx="232" cy="787" rx="13.5" ry="8.3" fill="#9a9a9a"/><ellipse cx="536" cy="859" rx="14.9" ry="14" fill="#7b7b7b"/><ellipse cx="421" cy="812" rx="15.6" ry="10.1" fill="#b3b3b3"/><ellipse cx="204" cy="777" rx="17.9" ry="17.5" fill="#949494"/><ellipse cx="350" cy="791" rx="12" ry="10.2" fill="#7e7e7e"/><ellipse cx="215" cy="825" rx="10.8" ry="9.3" fill="#b7b7b7"/><ellipse cx="518" cy="829" rx="12.8" ry="9.9" fill="#6e6e6e"/><ellipse cx="488" cy="805" rx="12.5" ry="7.9" fill="#969696"/><ellipse cx="428" cy="814" rx="18.6" ry="16.1" fill="#838383"/><ellipse cx="402" cy="900" rx="14.7" ry="12.4" fill="#737373"/><ellipse cx="385" cy="826" rx="13.4" ry="10.3" fill="#a2a2a2"/><ellipse cx="408" cy="831" rx="10.8" ry="8.4" fill="#c5c5c5"/><ellipse cx="351" cy="756" rx="9" ry="7.4" fill="#727272"/><ellipse cx="203" cy="768" rx="14" ry="14" fill="#999999"/><ellipse cx="371" cy="822" rx="14.5" ry="11.3" fill="#afafaf"/><ellipse cx="573" cy="865" rx="13.7" ry="11.7" fill="#bfbfbf"/><ellipse cx="231" cy="789" rx="15.8" ry="13.8" fill="#a7a7a7"/><ellipse cx="431" cy="887" rx="14.3" ry="13.2" fill="#c4c4c4"/><ellipse cx="360" cy="892" rx="16.9" ry="16.1" fill="#727272"/><ellipse cx="580" cy="877" rx="19.6" ry="19.4" fill="#878787"/><ellipse cx="468" cy="773" rx="15.5" ry="15" fill="#7f7f7f"/><ellipse cx="321" cy="763" rx="11.1" ry="7.6" fill="#767676"/><ellipse cx="620" cy="896" rx="14.1" ry="12.7" fill="#acacac"/><ellipse cx="400" cy="820" rx="16.3" ry="13.4" fill="#858585"/><ellipse cx="328" cy="853" rx="15.9" ry="10.9" fill="#a4a4a4"/><ellipse cx="562" cy="894" rx="16.2" ry="10.2" fill="#949494"/><ellipse cx="201" cy="759" rx="11.8" ry="9.2" fill="#b2b2b2"/><ellipse cx="449" cy="797" rx="16.6" ry="13.4" fill="#9b9b9b"/><ellipse cx="281" cy="823" rx="12.8" ry="11.4" fill="#999999"/><ellipse cx="366" cy="829" rx="14.3" ry="12.5" fill="#aeaeae"/><ellipse cx="529" cy="817" rx="17.7" ry="17.5" fill="#c7c7c7"/><ellipse cx="492" cy="761" rx="18.3" ry="17.1" fill="#6f6f6f"/><ellipse cx="311" cy="803" rx="17.1" ry="14.5" fill="#878787"/><ellipse cx="246" cy="778" rx="10" ry="9.2" fill="#c2c2c2"/><ellipse cx="261" cy="873" rx="19.5" ry="13.2" fill="#a1a1a1"/><ellipse cx="362" cy="911" rx="18.6" ry="11.3" fill="#808080"/><ellipse cx="550" cy="845" rx="14.8" ry="13.6" fill="#b2b2b2"/><ellipse cx="599" cy="804" rx="9.5" ry="8.4" fill="#727272"/><ellipse cx="420" cy="892" rx="13.4" ry="11.2" fill="#7d7d7d"/><ellipse cx="233" cy="850" rx="18.5" ry="18.5" fill="#707070"/><ellipse cx="584" cy="834" rx="12.8" ry="9.7" fill="#a2a2a2"/><ellipse cx="320" cy="774" rx="18.5" ry="16.3" fill="#a4a4a4"/><ellipse cx="492" cy="913" rx="10.9" ry="10.2" fill="#b8b8b8"/><ellipse cx="318" cy="842" rx="14" ry="9.5" fill="#949494"/><ellipse cx="230" cy="904" rx="11.1" ry="9.4" fill="#a1a1a1"/><ellipse cx="608" cy="881" rx="13" ry="9.7" fill="#727272"/><ellipse cx="184" cy="801" rx="19.4" ry="12.1" fill="#7d7d7d"/><ellipse cx="453" cy="809" rx="11" ry="10.8" fill="#717171"/><ellipse cx="435" cy="821" rx="12.8" ry="8.7" fill="#7c7c7c"/><ellipse cx="347" cy="874" rx="14.2" ry="12.9" fill="#bdbdbd"/><ellipse cx="240" cy="895" rx="15.4" ry="11.8" fill="#9c9c9c"/><ellipse cx="569" cy="815" rx="10" ry="9.9" fill="#787878"/><ellipse cx="209" cy="869" rx="12.4" ry="8.9" fill="#a8a8a8"/><ellipse cx="570" cy="807" rx="19" ry="16.1" fill="#a4a4a4"/><ellipse cx="405" cy="752" rx="10.7" ry="9.4" fill="#acacac"/><ellipse cx="205" cy="855" rx="14.2" ry="11.8" fill="#919191"/><ellipse cx="260" cy="809" rx="19.7" ry="13.3" fill="#bbbbbb"/><ellipse cx="404" cy="762" rx="17.9" ry="10.9" fill="#b9b9b9"/><ellipse cx="316" cy="902" rx="17" ry="12.6" fill="#a6a6a6"/><ellipse cx="614" cy="778" rx="11.3" ry="8.1" fill="#b7b7b7"/><ellipse cx="274" cy="791" rx="15.8" ry="13.1" fill="#939393"/><ellipse cx="414" cy="755" rx="9.1" ry="5.5" fill="#727272"/><ellipse cx="515" cy="912" rx="10.4" ry="7.8" fill="#6f6f6f"/><ellipse cx="360" cy="859" rx="15.9" ry="15.2" fill="#9f9f9f"/><ellipse cx="184" cy="812" rx="14.1" ry="10.3" fill="#717171"/><ellipse cx="449" cy="831" rx="16.8" ry="12.5" fill="#747474"/><ellipse cx="282" cy="779" rx="14.1" ry="9.3" fill="#757575"/><ellipse cx="401" cy="773" rx="10.1" ry="6.6" fill="#adadad"/><ellipse cx="531" cy="884" rx="15.3" ry="13.1" fill="#b1b1b1"/><ellipse cx="357" cy="834" rx="16.8" ry="14.4" fill="#a4a4a4"/><ellipse cx="457" cy="838" rx="11.4" ry="8.2" fill="#acacac"/><ellipse cx="353" cy="892" rx="13.1" ry="11.4" fill="#787878"/><ellipse cx="298" cy="890" rx="10.9" ry="9.3" fill="#707070"/><ellipse cx="440" cy="824" rx="18.9" ry="17.6" fill="#b3b3b3"/><ellipse cx="316" cy="860" rx="10.7" ry="8.5" fill="#919191"/><ellipse cx="376" cy="795" rx="11.3" ry="9.2" fill="#a8a8a8"/><ellipse cx="419" cy="907" rx="15.1" ry="10" fill="#a7a7a7"/><ellipse cx="306" cy="905" rx="10.4" ry="8.2" fill="#aaaaaa"/><ellipse cx="606" cy="836" rx="13.2" ry="12" fill="#b4b4b4"/><ellipse cx="580" cy="869" rx="10.4" ry="10.4" fill="#c1c1c1"/><ellipse cx="360" cy="859" rx="18.2" ry="17.6" fill="#afafaf"/><ellipse cx="202" cy="761" rx="13" ry="10.2" fill="#8a8a8a"/><ellipse cx="505" cy="876" rx="13.4" ry="11.8" fill="#7f7f7f"/><ellipse cx="598" cy="790" rx="10.7" ry="8.1" fill="#bbbbbb"/><ellipse cx="435" cy="863" rx="18" ry="13.6" fill="#c4c4c4"/><ellipse cx="614" cy="838" rx="17.2" ry="16.2" fill="#a3a3a3"/><ellipse cx="220" cy="858" rx="14" ry="13.2" fill="#808080"/><ellipse cx="165" cy="780" rx="10.9" ry="8.2" fill="#808080"/><ellipse cx="314" cy="847" rx="10.7" ry="8.5" fill="#8e8e8e"/><ellipse cx="162" cy="861" rx="14.5" ry="13.2" fill="#bcbcbc"/><ellipse cx="182" cy="868" rx="14.1" ry="13.3" fill="#787878"/><ellipse cx="546" cy="821" rx="10" ry="7.9" fill="#bcbcbc"/><ellipse cx="194" cy="812" rx="9.9" ry="6" fill="#b8b8b8"/><ellipse cx="413" cy="844" rx="18.9" ry="12" fill="#c2c2c2"/><ellipse cx="506" cy="890" rx="18" ry="13.6" fill="#707070"/><ellipse cx="619" cy="854" rx="16.8" ry="14.8" fill="#888888"/><ellipse cx="462" cy="824" rx="11.5" ry="9.2" fill="#989898"/><ellipse cx="299" cy="874" rx="19" ry="15.9" fill="#707070"/><ellipse cx="410" cy="854" rx="18" ry="13" fill="#838383"/><ellipse cx="332" cy="777" rx="17.6" ry="10.7" fill="#a0a0a0"/><ellipse cx="543" cy="755" rx="10.8" ry="10.8" fill="#898989"/><ellipse cx="513" cy="755" rx="14.1" ry="8.7" fill="#848484"/><path d="M640 840L820 700L1010 700L1000 800L800 880L620 900Z" fill="#3c3c3c"/><ellipse cx="825" cy="785" rx="22.9" ry="18" fill="#4b4b4b"/><ellipse cx="868" cy="721" rx="17.2" ry="14.6" fill="#5f5f5f"/><ellipse cx="710" cy="742" rx="11.3" ry="10.4" fill="#585858"/><ellipse cx="693" cy="857" rx="23.5" ry="20.3" fill="#535353"/><ellipse cx="730" cy="693" rx="17.4" ry="10.9" fill="#353535"/><ellipse cx="757" cy="695" rx="16.5" ry="12.8" fill="#626262"/><ellipse cx="846" cy="799" rx="17" ry="14.7" fill="#484848"/><ellipse cx="769" cy="860" rx="23.9" ry="22.4" fill="#595959"/><ellipse cx="781" cy="729" rx="14" ry="8.8" fill="#5d5d5d"/><ellipse cx="808" cy="834" rx="15.4" ry="15.2" fill="#636363"/><ellipse cx="680" cy="726" rx="22.7" ry="17.9" fill="#6c6c6c"/><ellipse cx="807" cy="702" rx="18.8" ry="17.1" fill="#3a3a3a"/><ellipse cx="708" cy="747" rx="23.5" ry="21.2" fill="#303030"/><ellipse cx="759" cy="707" rx="10.8" ry="10" fill="#343434"/><ellipse cx="859" cy="766" rx="12.7" ry="11.3" fill="#313131"/><ellipse cx="886" cy="710" rx="15.9" ry="10.9" fill="#3a3a3a"/><ellipse cx="991" cy="827" rx="14.3" ry="13.6" fill="#363636"/><ellipse cx="806" cy="835" rx="19" ry="12.2" fill="#6d6d6d"/><ellipse cx="748" cy="734" rx="20.8" ry="15.2" fill="#3c3c3c"/><ellipse cx="703" cy="705" rx="18.2" ry="12.7" fill="#525252"/><ellipse cx="799" cy="767" rx="23.4" ry="18.6" fill="#505050"/><ellipse cx="957" cy="721" rx="12.2" ry="11.7" fill="#616161"/><ellipse cx="760" cy="722" rx="20.4" ry="19.9" fill="#353535"/><ellipse cx="984" cy="840" rx="18.4" ry="14.2" fill="#2f2f2f"/><ellipse cx="692" cy="854" rx="13.3" ry="11.8" fill="#393939"/><ellipse cx="944" cy="791" rx="14.1" ry="9.5" fill="#5a5a5a"/><ellipse cx="702" cy="729" rx="17.8" ry="16.8" fill="#535353"/><ellipse cx="770" cy="846" rx="12.9" ry="7.8" fill="#3a3a3a"/><ellipse cx="823" cy="700" rx="12.5" ry="9.3" fill="#505050"/><ellipse cx="722" cy="752" rx="22.5" ry="22.3" fill="#555555"/><ellipse cx="901" cy="789" rx="12" ry="7.3" fill="#292929"/><ellipse cx="971" cy="809" rx="23.5" ry="14.3" fill="#545454"/><ellipse cx="834" cy="814" rx="14.5" ry="14.5" fill="#2d2d2d"/><ellipse cx="855" cy="815" rx="22.6" ry="20.2" fill="#595959"/><ellipse cx="934" cy="846" rx="14.9" ry="13" fill="#676767"/><ellipse cx="959" cy="761" rx="21.1" ry="19.9" fill="#505050"/><ellipse cx="880" cy="755" rx="18.2" ry="15.3" fill="#2d2d2d"/><ellipse cx="885" cy="859" rx="22.3" ry="19.9" fill="#434343"/><ellipse cx="915" cy="789" rx="16.2" ry="15.1" fill="#2d2d2d"/><ellipse cx="920" cy="695" rx="18.4" ry="14.6" fill="#383838"/><g filter="url(#b12)"><ellipse cx="450" cy="700" rx="200" ry="70" fill="#c8c8c8" opacity="0.5"/><ellipse cx="600" cy="640" rx="240" ry="50" fill="#d0d0d0" opacity="0.45"/></g><path d="M560 905L640 760L900 560L1240 300L1272 338L960 640L720 880Z" fill="#8b8b8b"/><path d="M560 905L640 760L700 790L600 905Z" fill="#a3a3a3"/><path d="M900 560L1245 305" fill="none" stroke="#4a4a4a" stroke-width="10"/><g filter="url(#b6)"><path d="M1030 480L1090 300L1150 190L1260 250L1310 400L1250 470L1180 505L1150 440L1060 500Z" fill="#999"/><path d="M1150 440L1230 330L1290 400L1210 500Z" fill="#6f6f6f"/><path d="M1000 1075L1090 1135L1180 1195L1412 1165L1412 1270L1150 1300L980 1160Z" fill="#8c8c8c"/><path d="M960 990L1005 895L1110 832L1412 772L1412 1165L1180 1195L1090 1135L1000 1075Z" fill="#e3e3e3"/><path d="M1040 905L1150 880L1300 880" fill="none" stroke="#b5b5b5" stroke-width="14"/><path d="M1060 1000L1160 985L1330 1010" fill="none" stroke="#b8b8b8" stroke-width="12"/><path d="M965 960L1040 900L1060 1000L1000 1050Z" fill="#c4c4c4"/></g><path d="M848 925L975 912L965 1040L885 1052L850 1000Z" fill="#0e0e0e"/><path d="M955 945L1010 925L1000 1045L960 1050Z" fill="#cfcfcf" filter="url(#b6)"/></g></g></g><path d="M268.5 85L340 85A28 28 0 0 1 358.5 92L392.2 121.7M155.8 266.5L201.3 221A28 28 0 0 1 221.1 212.8L322.2 212.8M247.7 470L374.4 470M547.2 85L894 85M746.5 212.8L910.3 212.8M743.1 390.2L847.1 390.2M699.3 461.3L793.1 461.3M701.5 498L701.5 574A14 14 0 0 0 715.5 588L929.2 588" fill="none" stroke="#fff" stroke-width="3.1"/><text class="n" x="44" y="103.1" font-size="46" fill="#fff" text-anchor="start" textLength="203">Surprised</text><text class="b" x="42.5" y="156.6" font-size="46" fill="#4abc29" text-anchor="start" textLength="157.7" lengthAdjust="spacingAndGlyphs">16.25%</text><text class="n" x="44" y="270.3" font-size="46" fill="#fff" text-anchor="start" textLength="79">Sad</text><text class="b" x="42.5" y="323.8" font-size="46" fill="#ff9b5f" text-anchor="start" textLength="123.4" lengthAdjust="spacingAndGlyphs">3.75%</text><rect x="44.2" y="437.8" width="190.8" height="65.2" fill="#fff"/><text class="b" x="53.6" y="487" font-size="53.5" fill="#30333f" textLength="163" lengthAdjust="spacingAndGlyphs">Happy</text><text class="b" x="42" y="553.2" font-size="50.5" fill="#ffc800" textLength="183.6" lengthAdjust="spacingAndGlyphs">40.63%</text><text class="n" x="1027.5" y="103.1" font-size="46" fill="#fff" text-anchor="end" textLength="126">Angry</text><text class="b" x="1028.5" y="156.6" font-size="46" fill="#ff5a65" text-anchor="end" textLength="123.5" lengthAdjust="spacingAndGlyphs">1.25%</text><text class="n" x="1027.5" y="227.9" font-size="46" fill="#fff" text-anchor="end" textLength="109">Calm</text><text class="b" x="1028.5" y="281.4" font-size="46" fill="#0085e9" text-anchor="end" textLength="162.7" lengthAdjust="spacingAndGlyphs">25.63%</text><text class="n" x="1027.5" y="353.5" font-size="46" fill="#fff" text-anchor="end" textLength="205">Confused</text><text class="b" x="1028.5" y="407" font-size="46" fill="#00e0d8" text-anchor="end" textLength="129.3" lengthAdjust="spacingAndGlyphs">9.38%</text><text class="n" x="1027.5" y="478.3" font-size="46" fill="#fff" text-anchor="end" textLength="214">Disgusted</text><text class="b" x="1028.5" y="531.8" font-size="46" fill="#f8fa9c" text-anchor="end" textLength="123.5" lengthAdjust="spacingAndGlyphs">1.25%</text><text class="n" x="1027.5" y="603.9" font-size="46" fill="#fff" text-anchor="end" textLength="92">Fear</text><text class="b" x="1028.5" y="657.4" font-size="46" fill="#ff3591" text-anchor="end" textLength="125" lengthAdjust="spacingAndGlyphs">1.88%</text><text class="ct" x="400.8" y="655.2" textLength="274.1" lengthAdjust="spacingAndGlyphs">Cooking</text></svg></div>
<div class="panel" style="left:1225px;top:3194.1px"><svg width="1068" height="712" viewBox="0 0 1068 712"><path d="M536.3 45.7A266 266 0 0 1 789.9 391.8L720.3 369.8A193 193 0 0 0 536.3 118.7Z" fill="#0085e9"/><path d="M789.9 391.8A266 266 0 0 1 782.6 412.3L715 384.7A193 193 0 0 0 720.3 369.8Z" fill="#00e0d8"/><path d="M782.6 412.3A266 266 0 0 1 773.5 432L708.4 399A193 193 0 0 0 715 384.7Z" fill="#f8fa9c"/><path d="M773.5 432A266 266 0 0 1 706.4 516.2L659.7 460.1A193 193 0 0 0 708.4 399Z" fill="#ff3591"/><path d="M706.4 516.2A266 266 0 0 1 294.4 201.2L360.8 231.5A193 193 0 0 0 659.7 460.1Z" fill="#ffc800"/><path d="M294.4 201.2A266 266 0 0 1 304.2 181.8L367.9 217.4A193 193 0 0 0 360.8 231.5Z" fill="#ff9b5f"/><path d="M304.2 181.8A266 266 0 0 1 536.3 45.7L536.3 118.7A193 193 0 0 0 367.9 217.4Z" fill="#4abc29"/><circle cx="536.3" cy="311.7" r="195" fill="#101010"/><g clip-path="url(#cp)" transform="translate(536.3 311.7)"><g transform="scale(0.26912) translate(-707 -705)"><g filter="url(#b3)"><rect x="0" y="0" width="1412" height="1412" fill="#d2d2d2"/><g filter="url(#b12)"><path d="M300 0L560 0L520 500L420 900L300 1100L240 700Z" fill="#eeeeee"/><path d="M560 0L760 0L740 380L620 560L560 420Z" fill="#bdbdbd"/><path d="M160 180L330 60L420 300L300 380Z" fill="#b9b9b9"/><path d="M1150 260L1330 330L1280 520L1120 440Z" fill="#f4f4f4"/><path d="M380 900L1040 900L1100 1110L380 1110Z" fill="#cdcdcd"/><path d="M760 0L1100 0L1300 300L1000 420L780 360Z" fill="#e9e9e9"/><path d="M1040 420L1300 300L1412 500L1412 1000L1200 980L1060 700Z" fill="#ececec"/><path d="M1000 430L1080 480L1120 800L1040 960L960 700Z" fill="#b5b5b5"/><path d="M1100 880L1412 960L1412 1120L1080 1100Z" fill="#cdcdcd"/><path d="M0 850L380 900L380 1110L0 1110Z" fill="#e5e5e5"/><path d="M560 560L660 520L700 600L640 900L560 860Z" fill="#c4c4c4"/></g><path d="M0 1112L1412 1112L1412 1412L0 1412Z" fill="#8c8c8c"/><path d="M0 1112L1412 1112L1412 1135L0 1135Z" fill="#6e6e6e"/><ellipse cx="700" cy="1330" rx="520" ry="70" fill="#bdbdbd" filter="url(#b12)"/><g filter="url(#b6)"><path d="M700 700L745 620L860 525L960 525L1020 580L1050 700L1010 830L960 905L860 870L800 900L760 940L700 800Z" fill="#3b3b3b"/><path d="M750 905L835 880L830 1040L770 1035Z" fill="#8a8a8a"/><path d="M690 640L760 620L770 680L700 690Z" fill="#9a9a9a"/><path d="M0 520L120 500L115 680L40 690L0 660Z" fill="#3a3a3a"/></g><path d="M130 330L300 222L520 440L480 520L250 880L30 800L60 500Z" fill="#a9a9a9" opacity="0.62"/><path d="M120 470L440 450L330 640L250 860L60 790L90 600Z" fill="#8a8a8a" opacity="0.55"/><path d="M130 330L300 222L520 440" fill="none" stroke="#f0f0f0" stroke-width="10"/><path d="M125 460L500 452" fill="none" stroke="#f2f2f2" stroke-width="9"/><path d="M150 300L480 500" fill="none" stroke="#e8e8e8" stroke-width="7"/><path d="M30 800L250 880" fill="none" stroke="#efefef" stroke-width="12"/><path d="M285 585L340 615" fill="none" stroke="#5a5a5a" stroke-width="14"/><path d="M270 490L340 520" fill="none" stroke="#eee" stroke-width="8"/><path d="M230 545L300 580" fill="none" stroke="#eee" stroke-width="8"/><path d="M190 605L250 635" fill="none" stroke="#eee" stroke-width="8"/><path d="M510 470L508 610" fill="none" stroke="#eaeaea" stroke-width="9"/><ellipse cx="688" cy="850" rx="345" ry="17" fill="#c9c9c9" stroke="#8a8a8a" stroke-width="4"/><ellipse cx="700" cy="1288" rx="372" ry="42" fill="#a2a2a2"/><ellipse cx="700" cy="1278" rx="360" ry="34" fill="#c6c6c6"/><path d="M452 612L452 1211A57 57 0 0 0 566 1211L566 612Z" fill="#d6d6d6" opacity="0.55" stroke="#8c8c8c" stroke-width="5"/><path d="M456 735L456 1211A53 53 0 0 0 562 1211L562 735Z" fill="#171717"/><ellipse cx="509" cy="612" rx="67" ry="9" fill="#e6e6e6" stroke="#9a9a9a" stroke-width="4"/><path d="M470 632L470 727" fill="none" stroke="#f4f4f4" stroke-width="7" opacity="0.8"/><path d="M635 612L635 1215.5A56.5 56.5 0 0 0 748 1215.5L748 612Z" fill="#d6d6d6" opacity="0.55" stroke="#8c8c8c" stroke-width="5"/><path d="M639 975L639 1215.5A52.5 52.5 0 0 0 744 1215.5L744 975Z" fill="#636363"/><ellipse cx="691.5" cy="612" rx="66.5" ry="9" fill="#e6e6e6" stroke="#9a9a9a" stroke-width="4"/><path d="M653 632L653 967" fill="none" stroke="#f4f4f4" stroke-width="7" opacity="0.8"/><path d="M822 592L822 1215.5A56.5 56.5 0 0 0 935 1215.5L935 592Z" fill="#d6d6d6" opacity="0.55" stroke="#8c8c8c" stroke-width="5"/><path d="M826 862L826 1215.5A52.5 52.5 0 0 0 931 1215.5L931 862Z" fill="#161616"/><ellipse cx="878.5" cy="592" rx="66.5" ry="9" fill="#e6e6e6" stroke="#9a9a9a" stroke-width="4"/><path d="M840 612L840 854" fill="none" stroke="#f4f4f4" stroke-width="7" opacity="0.8"/><ellipse cx="690" cy="975" rx="54" ry="9" fill="#8a8a8a"/><path d="M345 852L690 868L1030 860" fill="none" stroke="#9a9a9a" stroke-width="7"/><ellipse cx="688" cy="1160" rx="345" ry="17" fill="none" stroke="#c4c4c4" stroke-width="10"/><rect x="374" y="858" width="24" height="418" fill="#c2c2c2" stroke="#8a8a8a" stroke-width="3"/><rect x="978" y="862" width="24" height="412" fill="#c2c2c2" stroke="#8a8a8a" stroke-width="3"/></g></g></g><path d="M275 89.2L351.4 89.2A28 28 0 0 1 369.8 96.1L401.6 123.9M152 270.3L208.1 214.2A28 28 0 0 1 227.9 206L328.3 206M246.6 476.4L380.8 476.4M694.7 139.8L738.8 98.3A28 28 0 0 1 758 90.7L889.5 90.7M877.4 283.5L779.5 283.5A14 14 0 0 0 765.5 297.5L765.5 392.5M765.8 413.3L765.8 421.9A14 14 0 0 0 779.8 435.9L874.4 435.9M722 451.1L722 512.3A14 14 0 0 0 736 526.3L913.3 526.3" fill="none" stroke="#fff" stroke-width="3.1"/><text class="n" x="45.4" y="103.1" font-size="46" fill="#fff" text-anchor="start" textLength="203">Surprised</text><text class="b" x="43.9" y="156.6" font-size="46" fill="#4abc29" text-anchor="start" textLength="159.2" lengthAdjust="spacingAndGlyphs">16.88%</text><text class="n" x="45.4" y="270.3" font-size="46" fill="#fff" text-anchor="start" textLength="79">Sad</text><text class="b" x="43.9" y="323.8" font-size="46" fill="#ff9b5f" text-anchor="start" textLength="123.3" lengthAdjust="spacingAndGlyphs">1.30%</text><rect x="45.6" y="441.2" width="190.8" height="65.2" fill="#fff"/><text class="b" x="55" y="490.4" font-size="53.5" fill="#30333f" textLength="163" lengthAdjust="spacingAndGlyphs">Happy</text><text class="b" x="43.4" y="556.6" font-size="50.5" fill="#ffc800" textLength="186.3" lengthAdjust="spacingAndGlyphs">42.86%</text><text class="n" x="1027.5" y="103.1" font-size="46" fill="#fff" text-anchor="end" textLength="109">Calm</text><text class="b" x="1028.5" y="156.6" font-size="46" fill="#0085e9" text-anchor="end" textLength="161.9" lengthAdjust="spacingAndGlyphs">29.87%</text><text class="n" x="1027.5" y="247.6" font-size="46" fill="#fff" text-anchor="end" textLength="205">Confused</text><text class="b" x="1028.5" y="301.1" font-size="46" fill="#00e0d8" text-anchor="end" textLength="123.3" lengthAdjust="spacingAndGlyphs">1.30%</text><text class="n" x="1027.5" y="393.2" font-size="46" fill="#fff" text-anchor="end" textLength="214">Disgusted</text><text class="b" x="1028.5" y="446.7" font-size="46" fill="#f8fa9c" text-anchor="end" textLength="123.3" lengthAdjust="spacingAndGlyphs">1.30%</text><text class="n" x="1027.5" y="537.7" font-size="46" fill="#fff" text-anchor="end" textLength="92">Fear</text><text class="b" x="1028.5" y="591.2" font-size="46" fill="#ff3591" text-anchor="end" textLength="135.9" lengthAdjust="spacingAndGlyphs">6.49%</text><text class="ct" x="400" y="655.6" textLength="273.2" lengthAdjust="spacingAndGlyphs">Science</text></svg></div>
<div class="abs" style="left:117px;top:4027.7px;width:2166px;height:2.2px;background:#f3f1ea"></div>
<div class="abs" style="left:117px;top:4069.87px;font-size:33px;line-height:33px;letter-spacing:0.71px;color:#fff;-webkit-text-stroke:0.6px #30333f;"><b>Methodology:</b> We used the AI facial recognition tool Amazon Rekognition to analyze the faces in the thumbnails of the most popular</div>
<div class="abs" style="left:116px;top:4113.07px;font-size:33px;line-height:33px;letter-spacing:0.54px;color:#fff;-webkit-text-stroke:0.6px #30333f;">YouTubers across ten categories (news, travel, fitness, educational, music, comedy, gaming, cooking, history and science). The tool provides a</div>
<div class="abs" style="left:117px;top:4156.07px;font-size:33px;line-height:33px;letter-spacing:0.63px;color:#fff;-webkit-text-stroke:0.6px #30333f;">confidence value between 1 and 100 for each emotion: happy, sad, angry, confused, disgusted, surprised, calm and fearful.</div>
<div class="abs" style="left:0;top:4225.5px;width:2400px;height:155px;background:#000"></div>
<svg class="abs" style="left:110px;top:4255px" width="240" height="90" viewBox="0 0 1412 529.5"><path d="M68 77Q68 65 80 65L1296 65Q1308 65 1308 77L1308 365L68 365Z" fill="#a9b1a9"/><circle cx="277" cy="262" r="198" fill="#a9b1a9"/><circle cx="277" cy="262" r="151" fill="#fff" stroke="#000" stroke-width="28"/><circle cx="600" cy="212" r="111" fill="#fff" stroke="#000" stroke-width="22"/><circle cx="878" cy="212" r="111" fill="#fff" stroke="#000" stroke-width="22"/><circle cx="1153" cy="212" r="111" fill="#fff" stroke="#000" stroke-width="22"/><text x="277" y="306" style="font-family:'Liberation Sans',sans-serif;font-weight:bold" font-size="170" text-anchor="middle" fill="#000" stroke="#000" stroke-width="9" textLength="196" lengthAdjust="spacingAndGlyphs">cc</text><circle cx="600" cy="152" r="19" fill="#000"/><path d="M566 180L634 180L634 240L620 240L620 292L580 292L580 240L566 240Z" fill="#000"/><text x="878" y="276" style="font-family:'Liberation Sans',sans-serif;font-weight:bold" font-size="170" text-anchor="middle" fill="#000">$</text><path d="M782 166L975 250" stroke="#fff" stroke-width="34"/><path d="M778 158L980 246" stroke="#000" stroke-width="18"/><circle cx="1157" cy="214" r="50" fill="none" stroke="#000" stroke-width="27"/><rect x="1085" y="196" width="52" height="26" fill="#fff"/><path d="M1088 196L1140 196L1114 232Z" fill="#000"/><g style="font-family:'Liberation Sans',sans-serif;font-weight:bold" font-size="90" fill="#fff" text-anchor="middle"><text x="590" y="468">BY</text><text x="870" y="468">NC</text><text x="1138" y="468">SA</text></g></svg>
<div class="abs" style="left:360px;top:4270.3px;font-size:28px;line-height:28px;letter-spacing:-0.19px;color:#fff;">This image is licensed under the Creative Commons Attribution-Share Alike 4.0</div>
<div class="abs" style="left:361px;top:4311px;font-size:28px;line-height:28px;letter-spacing:0.21px;color:#fff;">International License www.creativecommons.org/licenses/by-sa/4.0</div>
<svg class="abs" style="left:1560px;top:4270px" width="80" height="70" viewBox="0 0 80 70"><rect x="36.7" y="15.4" width="29.2" height="9.4" rx="1.6" fill="#ffd000"/><rect x="12.1" y="29.0" width="53.8" height="9.6" rx="1.6" fill="#00e0d8"/><rect x="12.1" y="42.6" width="24.6" height="9.6" rx="1.6" fill="#00e0d8"/><rect x="41.0" y="42.6" width="15.0" height="9.6" rx="1.6" fill="#ff3591"/></svg>
<svg class="abs" style="left:1620px;top:4260px" width="300" height="90" viewBox="0 0 300 90"><text x="15" y="61" style="font-family:'DejaVu Sans',sans-serif;font-weight:bold" font-size="47" fill="#fff" stroke="#fff" stroke-width="2.5" stroke-linejoin="round" lengthAdjust="spacingAndGlyphs" textLength="257">KAPWING</text></svg>
<div class="abs" style="left:1910.5px;top:4267px;width:5px;height:73.5px;background:#fff"></div>
<div class="abs" style="left:1930.5px;top:4273.27px;font-size:22.6px;line-height:22.6px;letter-spacing:-0.48px;color:#fff;">IN PARTNERSHIP WITH</div>
<div class="abs" style="left:1930px;top:4299.24px;font-size:38.7px;line-height:38.7px;letter-spacing:-1.05px;color:#fff;">NeoMam Studios</div>
<svg class="abs" style="left:2220px;top:4260px" width="84" height="88" viewBox="0 0 84 88"><g fill="none" stroke="#fff" stroke-linejoin="round"><path d="M37.6 8.4Q40.3 6.9 43 8.4L69.8 23Q72.4 24.4 72.4 27.4L72.4 57.1Q72.4 60.1 69.8 61.8L43 79.2Q40.3 80.9 37.6 79.2L10.3 61.8Q7.7 60.1 7.7 57.1L7.7 27.4Q7.7 24.4 10.3 23Z" stroke-width="2.9"/><path d="M9 25.3L40.3 43.6L71 25.3M40.3 43.6L40.3 80" stroke-width="1.4"/></g><g style="font-family:'Liberation Sans',sans-serif" fill="#fff" stroke="#000" stroke-width="0.45" text-anchor="middle"><text transform="translate(24 53.1) skewY(26) scale(0.68 1)" y="11.5" font-size="32">N</text><text transform="translate(55.8 53.4) skewY(-26) scale(0.72 1)" y="11.5" font-size="32">S</text><text transform="translate(40.1 25.5) matrix(0.74 -0.41 0.89 0.45 0 0)" y="10.7" font-size="30">M</text></g></svg>
</div></body></html>
